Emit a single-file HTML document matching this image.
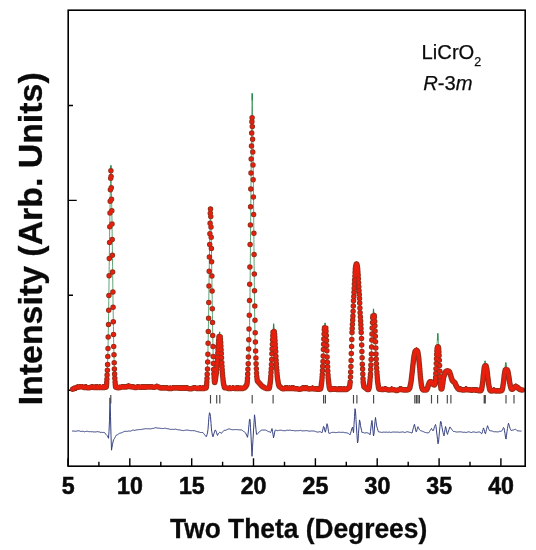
<!DOCTYPE html>
<html><head><meta charset="utf-8"><title>LiCrO2 XRD</title>
<style>
html,body{margin:0;padding:0;background:#fff}
svg{display:block}
text{font-family:"Liberation Sans",Arial,sans-serif;fill:#0a0a0a}
.b text,text.b{font-weight:bold;stroke:#0a0a0a;stroke-width:0.3}
.tk text{stroke-width:0.55}
</style></head><body>
<svg width="536" height="550" viewBox="0 0 536 550">
<rect width="536" height="550" fill="#fff"/>
<path d="M68.0 466.2v-8M98.9 466.2v-4.5M129.8 466.2v-8M160.8 466.2v-4.5M191.7 466.2v-8M222.6 466.2v-4.5M253.5 466.2v-8M284.5 466.2v-4.5M315.4 466.2v-8M346.3 466.2v-4.5M377.2 466.2v-8M408.2 466.2v-4.5M439.1 466.2v-8M470.0 466.2v-4.5M500.9 466.2v-8M68.2 105.5h4.8M68.2 200.4h8.5M68.2 295.3h4.8M68.2 390.2h8.5" fill="none" stroke="#000" stroke-width="1.4"/>
<path d="M72.0 430.9L72.5 431.0L73.0 431.0L73.5 431.1L74.0 431.0L74.5 431.1L75.0 431.2L75.5 431.3L76.0 431.2L76.5 431.1L77.0 431.0L77.5 430.9L78.0 430.8L78.5 430.8L79.0 430.8L79.5 430.9L80.0 431.2L80.5 431.4L81.0 431.4L81.5 431.4L82.0 431.3L82.5 431.3L83.0 431.3L83.5 431.4L84.0 431.6L84.5 431.8L85.0 431.7L85.5 431.5L86.0 431.4L86.5 431.3L87.0 431.3L87.5 431.3L88.0 431.4L88.5 431.6L89.0 431.7L89.5 431.7L90.0 431.5L90.5 431.6L91.0 431.7L91.5 431.8L92.0 431.8L92.5 431.7L93.0 431.8L93.5 431.9L94.0 432.0L94.5 432.0L95.0 431.9L95.5 431.9L96.0 431.9L96.5 431.8L97.0 431.6L97.5 431.6L98.0 431.6L98.5 431.8L99.0 431.9L99.5 432.0L100.0 432.2L100.5 432.4L101.0 432.4L101.5 432.3L102.0 432.4L102.5 432.5L103.0 432.5L103.5 432.4L104.0 432.5L104.5 432.6L105.0 433.0L105.5 433.8L106.0 434.5L106.5 435.1L107.0 435.6L107.5 436.0L108.0 437.1L108.5 438.3L109.0 431.6L109.5 420.2L110.0 397.8L110.5 416.2L111.0 435.4L111.5 450.2L112.0 447.1L112.5 444.4L113.0 442.0L113.5 439.9L114.0 439.2L114.5 438.4L115.0 437.4L115.5 436.4L116.0 435.4L116.5 435.2L117.0 435.0L117.5 434.7L118.0 434.4L118.5 434.0L119.0 433.6L119.5 433.3L120.0 433.1L120.5 433.0L121.0 433.0L121.5 432.9L122.0 432.7L122.5 432.4L123.0 432.1L123.5 431.8L124.0 431.6L124.5 431.4L125.0 431.3L125.5 431.3L126.0 431.3L126.5 431.4L127.0 431.4L127.5 431.3L128.0 431.2L128.5 431.0L129.0 431.0L129.5 431.1L130.0 431.1L130.5 431.1L131.0 430.9L131.5 430.7L132.0 430.4L132.5 430.2L133.0 430.1L133.5 430.1L134.0 430.2L134.5 430.4L135.0 430.3L135.5 430.2L136.0 430.0L136.5 429.9L137.0 429.9L137.5 429.8L138.0 429.7L138.5 429.6L139.0 429.6L139.5 429.6L140.0 429.6L140.5 429.6L141.0 429.5L141.5 429.4L142.0 429.3L142.5 429.2L143.0 429.1L143.5 429.1L144.0 429.0L144.5 428.9L145.0 428.8L145.5 428.7L146.0 428.7L146.5 428.7L147.0 428.8L147.5 428.8L148.0 428.8L148.5 428.8L149.0 428.7L149.5 428.7L150.0 428.9L150.5 428.9L151.0 428.8L151.5 428.7L152.0 428.5L152.5 428.4L153.0 428.4L153.5 428.4L154.0 428.3L154.5 428.0L155.0 427.8L155.5 427.7L156.0 427.7L156.5 427.8L157.0 427.9L157.5 428.1L158.0 428.1L158.5 428.1L159.0 428.1L159.5 428.2L160.0 428.3L160.5 428.4L161.0 428.4L161.5 428.4L162.0 428.4L162.5 428.5L163.0 428.5L163.5 428.5L164.0 428.4L164.5 428.3L165.0 428.2L165.5 428.2L166.0 428.4L166.5 428.6L167.0 428.7L167.5 428.7L168.0 428.7L168.5 428.8L169.0 428.9L169.5 429.1L170.0 429.3L170.5 429.4L171.0 429.4L171.5 429.4L172.0 429.3L172.5 429.3L173.0 429.3L173.5 429.4L174.0 429.5L174.5 429.4L175.0 429.2L175.5 429.1L176.0 429.2L176.5 429.4L177.0 429.6L177.5 429.7L178.0 429.8L178.5 429.8L179.0 429.8L179.5 429.8L180.0 429.9L180.5 430.1L181.0 430.3L181.5 430.4L182.0 430.4L182.5 430.4L183.0 430.5L183.5 430.6L184.0 430.5L184.5 430.4L185.0 430.3L185.5 430.2L186.0 430.2L186.5 430.1L187.0 430.1L187.5 430.1L188.0 430.2L188.5 430.3L189.0 430.3L189.5 430.4L190.0 430.5L190.5 430.6L191.0 430.6L191.5 430.7L192.0 430.6L192.5 430.6L193.0 430.6L193.5 430.7L194.0 430.7L194.5 430.7L195.0 430.8L195.5 431.1L196.0 431.3L196.5 431.4L197.0 431.6L197.5 431.7L198.0 431.8L198.5 431.8L199.0 432.0L199.5 432.2L200.0 432.4L200.5 432.5L201.0 432.5L201.5 432.5L202.0 432.5L202.5 432.5L203.0 432.6L203.5 433.3L204.0 434.0L204.5 434.6L205.0 435.2L205.5 435.9L206.0 436.7L206.5 436.4L207.0 434.6L207.5 432.9L208.0 429.3L208.5 422.7L209.0 416.2L209.5 412.7L210.0 413.6L210.5 416.7L211.0 423.3L211.5 430.0L212.0 432.9L212.5 435.8L213.0 436.8L213.5 435.0L214.0 433.4L214.5 431.9L215.0 430.2L215.5 430.1L216.0 431.1L216.5 432.5L217.0 434.2L217.5 435.5L218.0 434.4L218.5 433.3L219.0 432.8L219.5 432.4L220.0 432.5L220.5 432.7L221.0 433.0L221.5 433.2L222.0 432.8L222.5 432.2L223.0 431.5L223.5 430.9L224.0 430.3L224.5 430.3L225.0 430.3L225.5 430.3L226.0 430.2L226.5 429.9L227.0 429.7L227.5 429.4L228.0 429.1L228.5 429.0L229.0 428.9L229.5 428.9L230.0 429.1L230.5 429.3L231.0 429.5L231.5 429.6L232.0 429.7L232.5 429.7L233.0 429.7L233.5 429.7L234.0 429.8L234.5 429.7L235.0 429.6L235.5 429.5L236.0 429.5L236.5 429.6L237.0 429.7L237.5 429.7L238.0 429.7L238.5 429.7L239.0 429.8L239.5 429.9L240.0 429.9L240.5 429.9L241.0 429.9L241.5 429.9L242.0 430.0L242.5 430.5L243.0 431.0L243.5 431.4L244.0 431.7L244.5 432.0L245.0 432.4L245.5 432.8L246.0 433.9L246.5 435.0L247.0 436.1L247.5 437.3L248.0 434.2L248.5 429.9L249.0 424.8L249.5 419.3L250.0 419.2L250.5 427.3L251.0 436.1L251.5 446.2L252.0 456.3L252.5 447.8L253.0 439.2L253.5 430.9L254.0 422.8L254.5 414.8L255.0 418.4L255.5 424.8L256.0 429.7L256.5 434.2L257.0 434.6L257.5 433.9L258.0 433.3L258.5 432.6L259.0 432.1L259.5 431.7L260.0 431.3L260.5 430.9L261.0 430.5L261.5 430.2L262.0 430.0L262.5 430.0L263.0 430.0L263.5 430.1L264.0 430.1L264.5 430.0L265.0 430.0L265.5 430.1L266.0 430.2L266.5 430.5L267.0 430.8L267.5 431.1L268.0 431.4L268.5 431.6L269.0 431.6L269.5 431.8L270.0 432.1L270.5 432.6L271.0 431.6L271.5 430.1L272.0 428.6L272.5 431.4L273.0 434.4L273.5 437.8L274.0 435.9L274.5 432.9L275.0 430.7L275.5 429.9L276.0 430.1L276.5 430.4L277.0 430.7L277.5 430.7L278.0 430.6L278.5 430.4L279.0 430.3L279.5 430.3L280.0 430.3L280.5 430.2L281.0 430.2L281.5 430.3L282.0 430.5L282.5 430.6L283.0 430.6L283.5 430.6L284.0 430.6L284.5 430.7L285.0 430.7L285.5 430.7L286.0 430.5L286.5 430.3L287.0 430.2L287.5 430.2L288.0 430.2L288.5 430.3L289.0 430.3L289.5 430.2L290.0 430.2L290.5 430.2L291.0 430.4L291.5 430.5L292.0 430.6L292.5 430.5L293.0 430.4L293.5 430.5L294.0 430.7L294.5 430.8L295.0 430.8L295.5 430.8L296.0 430.7L296.5 430.7L297.0 430.7L297.5 430.7L298.0 430.7L298.5 430.7L299.0 430.7L299.5 430.6L300.0 430.4L300.5 430.4L301.0 430.5L301.5 430.7L302.0 430.9L302.5 430.9L303.0 430.9L303.5 430.8L304.0 430.8L304.5 430.8L305.0 430.8L305.5 430.7L306.0 430.7L306.5 430.6L307.0 430.7L307.5 430.8L308.0 430.9L308.5 431.0L309.0 431.1L309.5 431.2L310.0 431.2L310.5 431.1L311.0 431.0L311.5 430.9L312.0 430.9L312.5 431.0L313.0 431.0L313.5 431.0L314.0 431.0L314.5 431.1L315.0 431.3L315.5 431.6L316.0 431.8L316.5 431.8L317.0 432.0L317.5 432.1L318.0 432.1L318.5 432.0L319.0 431.8L319.5 431.7L320.0 431.7L320.5 431.9L321.0 432.1L321.5 432.4L322.0 432.8L322.5 431.2L323.0 428.9L323.5 426.4L324.0 426.8L324.5 429.1L325.0 431.6L325.5 432.0L326.0 429.2L326.5 426.5L327.0 423.7L327.5 424.6L328.0 428.1L328.5 431.4L329.0 433.5L329.5 433.4L330.0 433.3L330.5 433.0L331.0 432.7L331.5 432.5L332.0 432.4L332.5 432.3L333.0 432.4L333.5 432.4L334.0 432.3L334.5 432.4L335.0 432.5L335.5 432.6L336.0 432.6L336.5 432.5L337.0 432.5L337.5 432.4L338.0 432.3L338.5 432.2L339.0 432.1L339.5 432.2L340.0 432.3L340.5 432.4L341.0 432.3L341.5 432.3L342.0 432.3L342.5 432.3L343.0 432.3L343.5 432.3L344.0 432.4L344.5 432.6L345.0 432.7L345.5 432.7L346.0 432.7L346.5 432.8L347.0 432.9L347.5 433.1L348.0 433.1L348.5 433.4L349.0 433.9L349.5 434.4L350.0 434.9L350.5 433.3L351.0 431.7L351.5 430.0L352.0 428.1L352.5 427.2L353.0 429.9L353.5 432.7L354.0 424.7L354.5 416.7L355.0 408.7L355.5 410.8L356.0 419.7L356.5 428.0L357.0 435.4L357.5 443.0L358.0 441.2L358.5 433.3L359.0 426.4L359.5 419.9L360.0 421.7L360.5 425.5L361.0 428.0L361.5 430.3L362.0 432.6L362.5 432.5L363.0 432.5L363.5 432.6L364.0 432.8L364.5 433.0L365.0 433.0L365.5 432.9L366.0 432.7L366.5 432.7L367.0 432.7L367.5 432.9L368.0 433.0L368.5 433.1L369.0 433.7L369.5 434.2L370.0 434.8L370.5 431.4L371.0 427.0L371.5 422.8L372.0 420.5L372.5 425.8L373.0 430.9L373.5 436.0L374.0 433.9L374.5 427.0L375.0 421.3L375.5 417.5L376.0 421.3L376.5 425.1L377.0 427.2L377.5 428.9L378.0 430.7L378.5 431.8L379.0 431.9L379.5 432.0L380.0 432.0L380.5 432.1L381.0 432.2L381.5 432.4L382.0 432.4L382.5 432.3L383.0 432.1L383.5 432.1L384.0 432.1L384.5 432.2L385.0 432.3L385.5 432.2L386.0 432.1L386.5 432.1L387.0 432.2L387.5 432.3L388.0 432.3L388.5 432.2L389.0 432.1L389.5 432.1L390.0 432.3L390.5 432.4L391.0 432.4L391.5 432.3L392.0 432.1L392.5 432.1L393.0 432.1L393.5 432.0L394.0 432.0L394.5 432.1L395.0 432.1L395.5 432.1L396.0 432.1L396.5 432.1L397.0 432.1L397.5 432.1L398.0 432.1L398.5 432.2L399.0 432.4L399.5 432.3L400.0 432.2L400.5 432.2L401.0 432.1L401.5 432.1L402.0 432.0L402.5 431.9L403.0 432.0L403.5 432.1L404.0 432.3L404.5 432.4L405.0 432.5L405.5 432.4L406.0 432.1L406.5 431.8L407.0 431.7L407.5 431.8L408.0 431.9L408.5 432.0L409.0 432.1L409.5 432.3L410.0 432.4L410.5 432.5L411.0 432.7L411.5 432.9L412.0 433.1L412.5 431.2L413.0 429.2L413.5 427.3L414.0 425.4L414.5 424.3L415.0 426.8L415.5 429.2L416.0 431.7L416.5 431.5L417.0 429.7L417.5 428.2L418.0 426.7L418.5 427.7L419.0 428.8L419.5 429.7L420.0 430.2L420.5 430.7L421.0 430.9L421.5 430.9L422.0 431.1L422.5 431.3L423.0 431.5L423.5 431.7L424.0 431.9L424.5 432.2L425.0 432.4L425.5 432.5L426.0 432.6L426.5 432.7L427.0 432.8L427.5 432.8L428.0 432.9L428.5 433.0L429.0 432.3L429.5 431.5L430.0 430.7L430.5 430.0L431.0 429.2L431.5 428.4L432.0 429.4L432.5 430.3L433.0 430.9L433.5 430.1L434.0 428.5L434.5 426.8L435.0 425.6L435.5 424.5L436.0 426.6L436.5 430.9L437.0 435.1L437.5 439.4L438.0 443.8L438.5 442.2L439.0 436.6L439.5 431.1L440.0 426.3L440.5 421.5L441.0 421.5L441.5 424.4L442.0 427.3L442.5 430.0L443.0 432.4L443.5 434.7L444.0 435.9L444.5 432.8L445.0 429.7L445.5 426.5L446.0 428.1L446.5 430.8L447.0 433.1L447.5 434.4L448.0 432.6L448.5 430.9L449.0 429.5L449.5 428.0L450.0 426.9L450.5 427.6L451.0 428.3L451.5 429.1L452.0 429.7L452.5 430.4L453.0 431.1L453.5 431.5L454.0 431.5L454.5 431.5L455.0 431.6L455.5 431.8L456.0 431.9L456.5 432.0L457.0 432.0L457.5 432.0L458.0 432.0L458.5 431.9L459.0 431.8L459.5 431.8L460.0 431.8L460.5 431.9L461.0 431.9L461.5 431.9L462.0 432.0L462.5 432.2L463.0 432.3L463.5 432.3L464.0 432.3L464.5 432.2L465.0 432.3L465.5 432.4L466.0 432.4L466.5 432.4L467.0 432.2L467.5 432.1L468.0 431.9L468.5 431.8L469.0 431.9L469.5 432.0L470.0 432.2L470.5 432.3L471.0 432.5L471.5 432.5L472.0 432.3L472.5 432.1L473.0 431.9L473.5 431.9L474.0 432.0L474.5 432.1L475.0 432.2L475.5 432.3L476.0 432.4L476.5 432.4L477.0 432.3L477.5 432.2L478.0 432.0L478.5 432.0L479.0 431.9L479.5 432.0L480.0 432.1L480.5 432.4L481.0 433.1L481.5 433.8L482.0 433.4L482.5 431.4L483.0 429.6L483.5 427.9L484.0 429.3L484.5 431.3L485.0 433.4L485.5 433.7L486.0 431.5L486.5 429.4L487.0 427.6L487.5 425.7L488.0 427.0L488.5 428.4L489.0 429.5L489.5 430.6L490.0 430.8L490.5 430.8L491.0 430.8L491.5 430.9L492.0 431.0L492.5 431.1L493.0 431.4L493.5 431.6L494.0 431.8L494.5 431.8L495.0 431.7L495.5 431.7L496.0 431.7L496.5 431.8L497.0 431.8L497.5 431.9L498.0 431.9L498.5 431.8L499.0 431.6L499.5 431.3L500.0 431.3L500.5 431.3L501.0 431.5L501.5 431.2L502.0 430.5L502.5 429.7L503.0 428.6L503.5 427.5L504.0 428.0L504.5 430.8L505.0 433.7L505.5 437.1L506.0 439.1L506.5 435.3L507.0 431.5L507.5 428.4L508.0 425.3L508.5 423.2L509.0 424.8L509.5 426.6L510.0 428.2L510.5 429.5L511.0 430.5L511.5 430.4L512.0 430.3L512.5 430.1L513.0 430.1L513.5 430.0L514.0 429.8L514.5 429.5L515.0 429.3L515.5 429.1L516.0 429.6L516.5 430.1L517.0 430.7L517.5 430.8L518.0 430.8L518.5 430.8L519.0 430.9L519.5 431.0L520.0 431.1L520.5 431.1L521.0 431.1L521.5 431.0" fill="none" stroke="#34407f" stroke-width="1" stroke-linejoin="round"/>
<path d="M110.8 394.9v8.5M210.5 394.9v8.5M216.7 394.9v8.5M219.8 394.9v8.5M252.2 394.9v8.5M273.1 394.9v8.5M323.6 394.9v8.5M325.4 394.9v8.5M353.5 394.9v8.5M356.9 394.9v8.5M373.6 394.9v8.5M414.8 394.9v8.5M416.4 394.9v8.5M417.9 394.9v8.5M419.4 394.9v8.5M431.5 394.9v8.5M437.6 394.9v8.5M447.3 394.9v8.5M450.9 394.9v8.5M484.2 394.9v8.5M485.3 394.9v8.5M506.0 394.9v8.5M514.0 394.9v8.5" fill="none" stroke="#484848" stroke-width="1.15"/>
<path d="M70.0 389.5L70.1 389.5L70.2 389.6L70.3 389.6L70.4 389.6L70.5 389.6L70.6 389.6L70.7 389.7L70.8 389.7L70.9 389.7L71.0 389.7L71.1 389.7L71.2 389.7L71.3 389.7L71.4 389.7L71.5 389.7L71.6 389.6L71.7 389.6L71.8 389.6L71.9 389.6L72.0 389.6L72.1 389.5L72.2 389.5L72.3 389.5L72.4 389.4L72.5 389.4L72.6 389.3L72.7 389.3L72.8 389.3L72.9 389.2L73.0 389.2L73.1 389.1L73.2 389.1L73.3 389.0L73.4 389.0L73.5 388.9L73.6 388.9L73.7 388.8L73.8 388.7L73.9 388.7L74.0 388.6L74.1 388.6L74.2 388.5L74.3 388.5L74.4 388.4L74.5 388.4L74.6 388.3L74.7 388.3L74.8 388.2L74.9 388.2L75.0 388.1L75.1 388.1L75.2 388.1L75.3 388.0L75.4 388.0L75.5 387.9L75.6 387.9L75.7 387.9L75.8 387.8L75.9 387.8L76.0 387.8L76.1 387.7L76.2 387.7L76.3 387.7L76.4 387.6L76.5 387.6L76.6 387.6L76.7 387.6L76.8 387.5L76.9 387.5L77.0 387.5L77.1 387.5L77.2 387.5L77.3 387.5L77.4 387.4L77.5 387.4L77.6 387.4L77.7 387.4L77.8 387.4L77.9 387.4L78.0 387.4L78.1 387.4L78.2 387.4L78.3 387.4L78.4 387.4L78.5 387.3L78.6 387.3L78.7 387.3L78.8 387.3L78.9 387.3L79.0 387.3L79.1 387.3L79.2 387.3L79.3 387.3L79.4 387.3L79.5 387.3L79.6 387.3L79.7 387.3L79.8 387.3L79.9 387.3L80.0 387.3L80.1 387.3L80.2 387.3L80.3 387.3L80.4 387.3L80.5 387.3L80.6 387.3L80.7 387.3L80.8 387.3L80.9 387.3L81.0 387.3L81.1 387.3L81.2 387.3L81.3 387.3L81.4 387.3L81.5 387.3L81.6 387.3L81.7 387.3L81.8 387.3L81.9 387.3L82.0 387.3L82.1 387.3L82.2 387.3L82.3 387.3L82.4 387.3L82.5 387.3L82.6 387.3L82.7 387.3L82.8 387.4L82.9 387.4L83.0 387.4L83.1 387.4L83.2 387.4L83.3 387.4L83.4 387.4L83.5 387.4L83.6 387.4L83.7 387.4L83.8 387.4L83.9 387.4L84.0 387.4L84.1 387.4L84.2 387.4L84.3 387.4L84.4 387.4L84.5 387.4L84.6 387.4L84.7 387.4L84.8 387.4L84.9 387.4L85.0 387.4L85.1 387.4L85.2 387.4L85.3 387.4L85.4 387.4L85.5 387.4L85.6 387.4L85.7 387.4L85.8 387.4L85.9 387.4L86.0 387.4L86.1 387.4L86.2 387.4L86.3 387.4L86.4 387.4L86.5 387.4L86.6 387.4L86.7 387.4L86.8 387.4L86.9 387.4L87.0 387.4L87.1 387.4L87.2 387.4L87.3 387.4L87.4 387.4L87.5 387.4L87.6 387.4L87.7 387.4L87.8 387.4L87.9 387.4L88.0 387.4L88.1 387.4L88.2 387.4L88.3 387.4L88.4 387.4L88.5 387.4L88.6 387.4L88.7 387.4L88.8 387.4L88.9 387.4L89.0 387.4L89.1 387.4L89.2 387.4L89.3 387.4L89.4 387.4L89.5 387.4L89.6 387.4L89.7 387.4L89.8 387.4L89.9 387.4L90.0 387.4L90.1 387.4L90.2 387.4L90.3 387.4L90.4 387.4L90.5 387.4L90.6 387.4L90.7 387.4L90.8 387.4L90.9 387.4L91.0 387.4L91.1 387.4L91.2 387.4L91.3 387.4L91.4 387.4L91.5 387.4L91.6 387.4L91.7 387.4L91.8 387.4L91.9 387.4L92.0 387.4L92.1 387.4L92.2 387.4L92.3 387.4L92.4 387.4L92.5 387.4L92.6 387.4L92.7 387.4L92.8 387.4L92.9 387.4L93.0 387.4L93.1 387.4L93.2 387.4L93.3 387.4L93.4 387.4L93.5 387.4L93.6 387.4L93.7 387.4L93.8 387.4L93.9 387.4L94.0 387.4L94.1 387.4L94.2 387.4L94.3 387.4L94.4 387.4L94.5 387.4L94.6 387.4L94.7 387.4L94.8 387.4L94.9 387.4L95.0 387.4L95.1 387.4L95.2 387.4L95.3 387.4L95.4 387.4L95.5 387.4L95.6 387.4L95.7 387.4L95.8 387.4L95.9 387.4L96.0 387.4L96.1 387.4L96.2 387.4L96.3 387.4L96.4 387.4L96.5 387.4L96.6 387.4L96.7 387.4L96.8 387.4L96.9 387.4L97.0 387.4L97.1 387.4L97.2 387.4L97.3 387.4L97.4 387.4L97.5 387.4L97.6 387.4L97.7 387.4L97.8 387.4L97.9 387.4L98.0 387.4L98.1 387.4L98.2 387.4L98.3 387.4L98.4 387.4L98.5 387.4L98.6 387.4L98.7 387.4L98.8 387.4L98.9 387.4L99.0 387.4L99.1 387.4L99.2 387.4L99.3 387.4L99.4 387.4L99.5 387.4L99.6 387.4L99.7 387.4L99.8 387.4L99.9 387.4L100.0 387.4L100.1 387.4L100.2 387.4L100.3 387.4L100.4 387.4L100.5 387.4L100.6 387.4L100.7 387.4L100.8 387.4L100.9 387.4L101.0 387.4L101.1 387.4L101.2 387.4L101.3 387.4L101.4 387.4L101.5 387.4L101.6 387.4L101.7 387.4L101.8 387.4L101.9 387.4L102.0 387.4L102.1 387.4L102.2 387.4L102.3 387.4L102.4 387.4L102.5 387.4L102.6 387.4L102.7 387.4L102.8 387.4L102.9 387.4L103.0 387.4L103.1 387.4L103.2 387.4L103.3 387.4L103.4 387.4L103.5 387.4L103.6 387.4L103.7 387.4L103.8 387.4L103.9 387.4L104.0 387.4L104.1 387.4L104.2 387.3L104.3 387.3L104.4 387.3L104.5 387.3L104.6 387.3L104.7 387.3L104.8 387.3L104.9 387.2L105.0 387.2L105.1 387.2L105.2 387.2L105.3 387.2L105.4 387.2L105.5 387.1L105.6 387.1L105.7 387.1L105.8 387.1L105.9 387.1L106.0 387.1L106.1 386.9L106.2 386.6L106.3 386.2L106.4 385.5L106.5 384.8L106.6 383.7L106.7 382.5L106.8 381.0L106.9 379.3L107.0 377.6L107.1 375.6L107.2 373.6L107.3 371.2L107.4 368.8L107.5 366.1L107.6 363.4L107.7 359.6L107.8 355.9L107.9 352.2L108.0 348.4L108.1 343.6L108.2 338.1L108.3 332.4L108.4 326.5L108.5 320.5L108.6 313.9L108.7 307.2L108.8 300.2L108.9 293.3L109.0 284.4L109.1 275.0L109.2 266.5L109.3 258.6L109.4 251.0L109.5 243.6L109.6 236.2L109.7 229.0L109.8 221.7L109.9 215.4L110.0 209.2L110.1 203.7L110.2 198.3L110.3 193.2L110.4 188.3L110.5 183.4L110.6 178.6L110.7 174.0L110.8 169.6L110.9 165.3L111.0 169.6L111.1 174.0L111.2 178.6L111.3 183.4L111.4 188.2L111.5 193.2L111.6 198.3L111.7 203.6L111.8 209.2L111.9 215.4L112.0 221.7L112.1 228.9L112.2 236.2L112.3 243.6L112.4 250.9L112.5 258.6L112.6 266.5L112.7 274.9L112.8 284.3L112.9 293.2L113.0 300.2L113.1 307.1L113.2 313.8L113.3 320.5L113.4 326.5L113.5 332.3L113.6 338.0L113.7 343.6L113.8 348.4L113.9 352.1L114.0 355.8L114.1 359.6L114.2 363.3L114.3 366.0L114.4 368.8L114.5 371.2L114.6 373.5L114.7 375.6L114.8 377.5L114.9 379.3L115.0 380.9L115.1 382.4L115.2 383.6L115.3 384.7L115.4 385.4L115.5 386.1L115.6 386.5L115.7 386.8L115.8 387.0L115.9 387.0L116.0 387.0L116.1 387.0L116.2 387.0L116.3 387.0L116.4 387.0L116.5 387.1L116.6 387.1L116.7 387.1L116.8 387.1L116.9 387.1L117.0 387.1L117.1 387.1L117.2 387.1L117.3 387.2L117.4 387.2L117.5 387.2L117.6 387.2L117.7 387.2L117.8 387.2L117.9 387.2L118.0 387.2L118.1 387.2L118.2 387.2L118.3 387.2L118.4 387.2L118.5 387.2L118.6 387.2L118.7 387.2L118.8 387.2L118.9 387.2L119.0 387.2L119.1 387.2L119.2 387.2L119.3 387.2L119.4 387.2L119.5 387.2L119.6 387.2L119.7 387.2L119.8 387.2L119.9 387.1L120.0 387.1L120.1 387.1L120.2 387.1L120.3 387.1L120.4 387.1L120.5 387.1L120.6 387.1L120.7 387.1L120.8 387.1L120.9 387.1L121.0 387.1L121.1 387.0L121.2 387.0L121.3 387.0L121.4 387.0L121.5 387.0L121.6 387.0L121.7 387.0L121.8 387.0L121.9 386.9L122.0 386.9L122.1 386.9L122.2 386.9L122.3 386.9L122.4 386.9L122.5 386.8L122.6 386.8L122.7 386.8L122.8 386.8L122.9 386.8L123.0 386.8L123.1 386.7L123.2 386.7L123.3 386.7L123.4 386.7L123.5 386.7L123.6 386.6L123.7 386.6L123.8 386.6L123.9 386.6L124.0 386.6L124.1 386.5L124.2 386.5L124.3 386.5L124.4 386.5L124.5 386.4L124.6 386.4L124.7 386.4L124.8 386.4L124.9 386.4L125.0 386.3L125.1 386.3L125.2 386.3L125.3 386.3L125.4 386.2L125.5 386.2L125.6 386.2L125.7 386.2L125.8 386.2L125.9 386.1L126.0 386.1L126.1 386.1L126.2 386.1L126.3 386.1L126.4 386.1L126.5 386.1L126.6 386.0L126.7 386.0L126.8 386.0L126.9 386.0L127.0 386.0L127.1 386.0L127.2 386.0L127.3 386.0L127.4 386.0L127.5 386.0L127.6 386.0L127.7 386.0L127.8 386.0L127.9 385.9L128.0 386.0L128.1 386.0L128.2 386.0L128.3 386.0L128.4 386.0L128.5 386.0L128.6 386.0L128.7 386.0L128.8 386.0L128.9 386.0L129.0 386.0L129.1 386.0L129.2 386.0L129.3 386.0L129.4 386.1L129.5 386.1L129.6 386.1L129.7 386.1L129.8 386.1L129.9 386.1L130.0 386.2L130.1 386.2L130.2 386.2L130.3 386.2L130.4 386.2L130.5 386.3L130.6 386.3L130.7 386.3L130.8 386.3L130.9 386.3L131.0 386.4L131.1 386.4L131.2 386.4L131.3 386.4L131.4 386.5L131.5 386.5L131.6 386.5L131.7 386.5L131.8 386.6L131.9 386.6L132.0 386.6L132.1 386.6L132.2 386.6L132.3 386.7L132.4 386.7L132.5 386.7L132.6 386.7L132.7 386.8L132.8 386.8L132.9 386.8L133.0 386.8L133.1 386.8L133.2 386.9L133.3 386.9L133.4 386.9L133.5 386.9L133.6 386.9L133.7 387.0L133.8 387.0L133.9 387.0L134.0 387.0L134.1 387.0L134.2 387.0L134.3 387.1L134.4 387.1L134.5 387.1L134.6 387.1L134.7 387.1L134.8 387.1L134.9 387.1L135.0 387.1L135.1 387.2L135.2 387.2L135.3 387.2L135.4 387.2L135.5 387.2L135.6 387.2L135.7 387.2L135.8 387.2L135.9 387.2L136.0 387.2L136.1 387.3L136.2 387.3L136.3 387.3L136.4 387.3L136.5 387.3L136.6 387.3L136.7 387.3L136.8 387.3L136.9 387.3L137.0 387.3L137.1 387.3L137.2 387.3L137.3 387.3L137.4 387.3L137.5 387.3L137.6 387.3L137.7 387.3L137.8 387.3L137.9 387.3L138.0 387.3L138.1 387.4L138.2 387.4L138.3 387.4L138.4 387.4L138.5 387.4L138.6 387.4L138.7 387.4L138.8 387.4L138.9 387.4L139.0 387.4L139.1 387.4L139.2 387.4L139.3 387.4L139.4 387.4L139.5 387.4L139.6 387.4L139.7 387.4L139.8 387.4L139.9 387.4L140.0 387.4L140.1 387.4L140.2 387.4L140.3 387.4L140.4 387.4L140.5 387.4L140.6 387.4L140.7 387.4L140.8 387.4L140.9 387.4L141.0 387.4L141.1 387.4L141.2 387.4L141.3 387.4L141.4 387.4L141.5 387.4L141.6 387.4L141.7 387.4L141.8 387.4L141.9 387.4L142.0 387.4L142.1 387.4L142.2 387.4L142.3 387.4L142.4 387.4L142.5 387.4L142.6 387.4L142.7 387.4L142.8 387.4L142.9 387.4L143.0 387.4L143.1 387.4L143.2 387.4L143.3 387.4L143.4 387.4L143.5 387.4L143.6 387.4L143.7 387.4L143.8 387.4L143.9 387.4L144.0 387.4L144.1 387.4L144.2 387.4L144.3 387.4L144.4 387.4L144.5 387.4L144.6 387.4L144.7 387.4L144.8 387.4L144.9 387.4L145.0 387.4L145.1 387.4L145.2 387.3L145.3 387.3L145.4 387.3L145.5 387.3L145.6 387.3L145.7 387.3L145.8 387.3L145.9 387.3L146.0 387.3L146.1 387.3L146.2 387.3L146.3 387.3L146.4 387.3L146.5 387.3L146.6 387.3L146.7 387.3L146.8 387.3L146.9 387.3L147.0 387.3L147.1 387.3L147.2 387.3L147.3 387.3L147.4 387.3L147.5 387.3L147.6 387.3L147.7 387.2L147.8 387.2L147.9 387.2L148.0 387.2L148.1 387.2L148.2 387.2L148.3 387.2L148.4 387.2L148.5 387.2L148.6 387.2L148.7 387.2L148.8 387.2L148.9 387.2L149.0 387.2L149.1 387.2L149.2 387.2L149.3 387.2L149.4 387.2L149.5 387.2L149.6 387.2L149.7 387.2L149.8 387.2L149.9 387.1L150.0 387.1L150.1 387.1L150.2 387.1L150.3 387.1L150.4 387.1L150.5 387.1L150.6 387.1L150.7 387.1L150.8 387.1L150.9 387.1L151.0 387.1L151.1 387.1L151.2 387.1L151.3 387.1L151.4 387.1L151.5 387.1L151.6 387.1L151.7 387.1L151.8 387.1L151.9 387.1L152.0 387.1L152.1 387.1L152.2 387.1L152.3 387.1L152.4 387.1L152.5 387.1L152.6 387.1L152.7 387.1L152.8 387.1L152.9 387.1L153.0 387.1L153.1 387.1L153.2 387.1L153.3 387.1L153.4 387.1L153.5 387.1L153.6 387.1L153.7 387.1L153.8 387.1L153.9 387.1L154.0 387.1L154.1 387.1L154.2 387.1L154.3 387.1L154.4 387.1L154.5 387.1L154.6 387.1L154.7 387.1L154.8 387.1L154.9 387.1L155.0 387.1L155.1 387.1L155.2 387.1L155.3 387.1L155.4 387.2L155.5 387.2L155.6 387.2L155.7 387.2L155.8 387.2L155.9 387.2L156.0 387.2L156.1 387.2L156.2 387.2L156.3 387.2L156.4 387.2L156.5 387.2L156.6 387.2L156.7 387.2L156.8 387.2L156.9 387.3L157.0 387.3L157.1 387.3L157.2 387.3L157.3 387.3L157.4 387.3L157.5 387.3L157.6 387.3L157.7 387.3L157.8 387.3L157.9 387.3L158.0 387.4L158.1 387.4L158.2 387.4L158.3 387.4L158.4 387.4L158.5 387.4L158.6 387.4L158.7 387.4L158.8 387.4L158.9 387.4L159.0 387.4L159.1 387.5L159.2 387.5L159.3 387.5L159.4 387.5L159.5 387.5L159.6 387.5L159.7 387.5L159.8 387.5L159.9 387.5L160.0 387.5L160.1 387.6L160.2 387.6L160.3 387.6L160.4 387.6L160.5 387.6L160.6 387.6L160.7 387.6L160.8 387.6L160.9 387.6L161.0 387.6L161.1 387.6L161.2 387.7L161.3 387.7L161.4 387.7L161.5 387.7L161.6 387.7L161.7 387.7L161.8 387.7L161.9 387.7L162.0 387.7L162.1 387.7L162.2 387.7L162.3 387.8L162.4 387.8L162.5 387.8L162.6 387.8L162.7 387.8L162.8 387.8L162.9 387.8L163.0 387.8L163.1 387.8L163.2 387.8L163.3 387.8L163.4 387.8L163.5 387.8L163.6 387.8L163.7 387.9L163.8 387.9L163.9 387.9L164.0 387.9L164.1 387.9L164.2 387.9L164.3 387.9L164.4 387.9L164.5 387.9L164.6 387.9L164.7 387.9L164.8 387.9L164.9 387.9L165.0 387.9L165.1 387.9L165.2 387.9L165.3 387.9L165.4 388.0L165.5 388.0L165.6 388.0L165.7 388.0L165.8 388.0L165.9 388.0L166.0 388.0L166.1 388.0L166.2 388.0L166.3 388.0L166.4 388.0L166.5 388.0L166.6 388.0L166.7 388.0L166.8 388.0L166.9 388.0L167.0 388.0L167.1 388.0L167.2 388.0L167.3 388.0L167.4 388.0L167.5 388.0L167.6 388.0L167.7 388.0L167.8 388.0L167.9 388.0L168.0 388.0L168.1 388.0L168.2 388.1L168.3 388.1L168.4 388.1L168.5 388.1L168.6 388.1L168.7 388.1L168.8 388.1L168.9 388.1L169.0 388.1L169.1 388.1L169.2 388.1L169.3 388.1L169.4 388.1L169.5 388.1L169.6 388.1L169.7 388.1L169.8 388.1L169.9 388.1L170.0 388.1L170.1 388.1L170.2 388.1L170.3 388.1L170.4 388.1L170.5 388.1L170.6 388.1L170.7 388.1L170.8 388.1L170.9 388.1L171.0 388.1L171.1 388.1L171.2 388.1L171.3 388.1L171.4 388.1L171.5 388.1L171.6 388.1L171.7 388.1L171.8 388.1L171.9 388.1L172.0 388.1L172.1 388.1L172.2 388.1L172.3 388.1L172.4 388.1L172.5 388.1L172.6 388.1L172.7 388.1L172.8 388.1L172.9 388.1L173.0 388.1L173.1 388.1L173.2 388.1L173.3 388.1L173.4 388.1L173.5 388.1L173.6 388.1L173.7 388.1L173.8 388.1L173.9 388.1L174.0 388.1L174.1 388.1L174.2 388.1L174.3 388.1L174.4 388.1L174.5 388.1L174.6 388.1L174.7 388.1L174.8 388.1L174.9 388.1L175.0 388.1L175.1 388.1L175.2 388.1L175.3 388.1L175.4 388.1L175.5 388.1L175.6 388.1L175.7 388.1L175.8 388.1L175.9 388.1L176.0 388.2L176.1 388.2L176.2 388.2L176.3 388.2L176.4 388.2L176.5 388.2L176.6 388.2L176.7 388.2L176.8 388.2L176.9 388.2L177.0 388.2L177.1 388.2L177.2 388.2L177.3 388.2L177.4 388.2L177.5 388.2L177.6 388.2L177.7 388.2L177.8 388.2L177.9 388.2L178.0 388.2L178.1 388.2L178.2 388.2L178.3 388.2L178.4 388.2L178.5 388.2L178.6 388.2L178.7 388.2L178.8 388.2L178.9 388.2L179.0 388.2L179.1 388.2L179.2 388.2L179.3 388.2L179.4 388.2L179.5 388.2L179.6 388.2L179.7 388.2L179.8 388.2L179.9 388.2L180.0 388.2L180.1 388.2L180.2 388.2L180.3 388.2L180.4 388.2L180.5 388.2L180.6 388.2L180.7 388.2L180.8 388.2L180.9 388.2L181.0 388.2L181.1 388.2L181.2 388.2L181.3 388.2L181.4 388.2L181.5 388.2L181.6 388.2L181.7 388.2L181.8 388.2L181.9 388.2L182.0 388.2L182.1 388.3L182.2 388.3L182.3 388.3L182.4 388.3L182.5 388.3L182.6 388.3L182.7 388.3L182.8 388.3L182.9 388.3L183.0 388.3L183.1 388.3L183.2 388.3L183.3 388.3L183.4 388.3L183.5 388.3L183.6 388.3L183.7 388.3L183.8 388.3L183.9 388.3L184.0 388.3L184.1 388.3L184.2 388.3L184.3 388.3L184.4 388.3L184.5 388.3L184.6 388.3L184.7 388.3L184.8 388.3L184.9 388.3L185.0 388.3L185.1 388.3L185.2 388.3L185.3 388.3L185.4 388.4L185.5 388.4L185.6 388.4L185.7 388.4L185.8 388.4L185.9 388.4L186.0 388.4L186.1 388.4L186.2 388.4L186.3 388.4L186.4 388.4L186.5 388.4L186.6 388.4L186.7 388.4L186.8 388.4L186.9 388.4L187.0 388.4L187.1 388.4L187.2 388.4L187.3 388.4L187.4 388.4L187.5 388.4L187.6 388.4L187.7 388.4L187.8 388.4L187.9 388.4L188.0 388.4L188.1 388.4L188.2 388.4L188.3 388.4L188.4 388.4L188.5 388.4L188.6 388.5L188.7 388.5L188.8 388.5L188.9 388.5L189.0 388.5L189.1 388.5L189.2 388.5L189.3 388.5L189.4 388.5L189.5 388.5L189.6 388.5L189.7 388.5L189.8 388.5L189.9 388.5L190.0 388.5L190.1 388.5L190.2 388.5L190.3 388.5L190.4 388.5L190.5 388.5L190.6 388.5L190.7 388.5L190.8 388.5L190.9 388.5L191.0 388.5L191.1 388.5L191.2 388.5L191.3 388.5L191.4 388.5L191.5 388.5L191.6 388.5L191.7 388.5L191.8 388.5L191.9 388.5L192.0 388.5L192.1 388.5L192.2 388.5L192.3 388.5L192.4 388.5L192.5 388.5L192.6 388.5L192.7 388.5L192.8 388.5L192.9 388.5L193.0 388.5L193.1 388.5L193.2 388.5L193.3 388.5L193.4 388.5L193.5 388.5L193.6 388.5L193.7 388.5L193.8 388.5L193.9 388.5L194.0 388.5L194.1 388.5L194.2 388.5L194.3 388.5L194.4 388.5L194.5 388.5L194.6 388.5L194.7 388.5L194.8 388.5L194.9 388.5L195.0 388.5L195.1 388.4L195.2 388.4L195.3 388.4L195.4 388.4L195.5 388.4L195.6 388.4L195.7 388.4L195.8 388.4L195.9 388.4L196.0 388.4L196.1 388.4L196.2 388.4L196.3 388.4L196.4 388.4L196.5 388.4L196.6 388.4L196.7 388.4L196.8 388.4L196.9 388.4L197.0 388.4L197.1 388.4L197.2 388.4L197.3 388.4L197.4 388.4L197.5 388.4L197.6 388.4L197.7 388.3L197.8 388.3L197.9 388.3L198.0 388.3L198.1 388.3L198.2 388.3L198.3 388.3L198.4 388.3L198.5 388.3L198.6 388.3L198.7 388.3L198.8 388.3L198.9 388.3L199.0 388.3L199.1 388.3L199.2 388.3L199.3 388.3L199.4 388.3L199.5 388.3L199.6 388.3L199.7 388.3L199.8 388.2L199.9 388.2L200.0 388.2L200.1 388.2L200.2 388.2L200.3 388.2L200.4 388.2L200.5 388.2L200.6 388.2L200.7 388.2L200.8 388.2L200.9 388.2L201.0 388.2L201.1 388.2L201.2 388.2L201.3 388.2L201.4 388.2L201.5 388.2L201.6 388.2L201.7 388.2L201.8 388.2L201.9 388.1L202.0 388.1L202.1 388.1L202.2 388.1L202.3 388.1L202.4 388.1L202.5 388.1L202.6 388.1L202.7 388.1L202.8 388.1L202.9 388.1L203.0 388.1L203.1 388.1L203.2 388.1L203.3 388.1L203.4 388.1L203.5 388.1L203.6 388.1L203.7 388.1L203.8 388.1L203.9 388.1L204.0 388.1L204.1 388.1L204.2 388.0L204.3 388.0L204.4 388.0L204.5 388.0L204.6 388.0L204.7 388.0L204.8 387.9L204.9 387.9L205.0 387.9L205.1 387.9L205.2 387.9L205.3 387.9L205.4 387.9L205.5 387.8L205.6 387.8L205.7 387.8L205.8 387.8L205.9 387.8L206.0 387.8L206.1 387.6L206.2 387.3L206.3 386.9L206.4 386.2L206.5 385.4L206.6 384.4L206.7 383.2L206.8 381.7L206.9 380.2L207.0 378.5L207.1 376.6L207.2 374.6L207.3 372.4L207.4 369.9L207.5 367.2L207.6 363.9L207.7 360.6L207.8 357.2L207.9 353.4L208.0 348.5L208.1 343.5L208.2 338.3L208.3 332.9L208.4 327.0L208.5 321.0L208.6 314.8L208.7 308.2L208.8 299.8L208.9 291.8L209.0 284.8L209.1 277.9L209.2 271.3L209.3 264.8L209.4 258.3L209.5 252.0L209.6 246.4L209.7 241.0L209.8 236.2L209.9 231.5L210.0 227.1L210.1 222.7L210.2 218.5L210.3 214.3L210.4 210.5L210.5 206.6L210.6 210.5L210.7 214.3L210.8 218.5L210.9 222.7L211.0 227.1L211.1 231.5L211.2 236.2L211.3 241.0L211.4 246.4L211.5 252.0L211.6 258.3L211.7 264.8L211.8 271.3L211.9 277.9L212.0 284.8L212.1 291.8L212.2 299.8L212.3 308.2L212.4 314.8L212.5 321.0L212.6 327.0L212.7 332.8L212.8 338.2L212.9 343.4L213.0 348.4L213.1 353.2L213.2 357.0L213.3 360.2L213.4 363.5L213.5 366.7L213.6 369.3L213.7 371.5L213.8 373.5L213.9 375.3L214.0 376.9L214.1 378.3L214.2 379.5L214.3 380.6L214.4 381.4L214.5 382.1L214.6 382.4L214.7 382.5L214.8 382.4L214.9 382.1L215.0 381.6L215.1 381.0L215.2 380.3L215.3 379.6L215.4 379.0L215.5 378.3L215.6 377.6L215.7 377.0L215.8 376.3L215.9 375.7L216.0 375.0L216.1 374.3L216.2 373.5L216.3 372.6L216.4 371.8L216.5 370.9L216.6 370.1L216.7 368.9L216.8 367.8L216.9 366.6L217.0 365.5L217.1 364.3L217.2 363.0L217.3 361.8L217.4 360.5L217.5 359.2L217.6 357.5L217.7 355.7L217.8 354.0L217.9 352.6L218.0 351.1L218.1 349.7L218.2 348.3L218.3 346.9L218.4 345.4L218.5 344.1L218.6 342.8L218.7 341.5L218.8 340.4L218.9 339.3L219.0 338.2L219.1 337.1L219.2 336.0L219.3 334.9L219.4 333.8L219.5 332.8L219.6 331.8L219.7 332.8L219.8 333.8L219.9 334.9L220.0 336.0L220.1 337.1L220.2 338.2L220.3 339.4L220.4 340.6L220.5 341.8L220.6 343.1L220.7 344.6L220.8 346.0L220.9 347.7L221.0 349.3L221.1 351.0L221.2 352.7L221.3 354.4L221.4 356.2L221.5 358.1L221.6 360.1L221.7 362.3L221.8 364.3L221.9 365.9L222.0 367.5L222.1 369.1L222.2 370.6L222.3 372.1L222.4 373.4L222.5 374.8L222.6 376.0L222.7 377.3L222.8 378.4L222.9 379.2L223.0 380.1L223.1 381.0L223.2 381.8L223.3 382.5L223.4 383.1L223.5 383.7L223.6 384.3L223.7 384.8L223.8 385.3L223.9 385.7L224.0 386.1L224.1 386.5L224.2 386.9L224.3 387.2L224.4 387.4L224.5 387.6L224.6 387.8L224.7 387.9L224.8 388.0L224.9 388.1L225.0 388.1L225.1 388.1L225.2 388.1L225.3 388.1L225.4 388.1L225.5 388.1L225.6 388.1L225.7 388.2L225.8 388.2L225.9 388.2L226.0 388.2L226.1 388.2L226.2 388.2L226.3 388.2L226.4 388.2L226.5 388.2L226.6 388.2L226.7 388.2L226.8 388.2L226.9 388.2L227.0 388.2L227.1 388.2L227.2 388.2L227.3 388.2L227.4 388.3L227.5 388.3L227.6 388.3L227.7 388.3L227.8 388.3L227.9 388.3L228.0 388.3L228.1 388.3L228.2 388.3L228.3 388.3L228.4 388.3L228.5 388.3L228.6 388.3L228.7 388.3L228.8 388.3L228.9 388.3L229.0 388.3L229.1 388.3L229.2 388.3L229.3 388.3L229.4 388.3L229.5 388.3L229.6 388.3L229.7 388.3L229.8 388.3L229.9 388.3L230.0 388.3L230.1 388.3L230.2 388.3L230.3 388.3L230.4 388.3L230.5 388.3L230.6 388.3L230.7 388.3L230.8 388.3L230.9 388.3L231.0 388.3L231.1 388.4L231.2 388.4L231.3 388.4L231.4 388.4L231.5 388.4L231.6 388.4L231.7 388.4L231.8 388.4L231.9 388.4L232.0 388.4L232.1 388.4L232.2 388.4L232.3 388.4L232.4 388.4L232.5 388.4L232.6 388.4L232.7 388.4L232.8 388.4L232.9 388.4L233.0 388.4L233.1 388.4L233.2 388.4L233.3 388.4L233.4 388.4L233.5 388.4L233.6 388.4L233.7 388.4L233.8 388.4L233.9 388.4L234.0 388.4L234.1 388.4L234.2 388.4L234.3 388.4L234.4 388.4L234.5 388.4L234.6 388.4L234.7 388.4L234.8 388.5L234.9 388.5L235.0 388.5L235.1 388.5L235.2 388.5L235.3 388.5L235.4 388.5L235.5 388.5L235.6 388.5L235.7 388.5L235.8 388.5L235.9 388.5L236.0 388.5L236.1 388.5L236.2 388.5L236.3 388.5L236.4 388.5L236.5 388.5L236.6 388.5L236.7 388.5L236.8 388.5L236.9 388.5L237.0 388.5L237.1 388.5L237.2 388.5L237.3 388.5L237.4 388.5L237.5 388.5L237.6 388.5L237.7 388.5L237.8 388.5L237.9 388.5L238.0 388.5L238.1 388.5L238.2 388.5L238.3 388.5L238.4 388.5L238.5 388.5L238.6 388.5L238.7 388.5L238.8 388.5L238.9 388.5L239.0 388.5L239.1 388.6L239.2 388.6L239.3 388.6L239.4 388.6L239.5 388.6L239.6 388.6L239.7 388.6L239.8 388.6L239.9 388.6L240.0 388.6L240.1 388.6L240.2 388.6L240.3 388.5L240.4 388.5L240.5 388.5L240.6 388.5L240.7 388.5L240.8 388.5L240.9 388.5L241.0 388.5L241.1 388.5L241.2 388.5L241.3 388.5L241.4 388.5L241.5 388.5L241.6 388.5L241.7 388.5L241.8 388.5L241.9 388.5L242.0 388.4L242.1 388.4L242.2 388.4L242.3 388.4L242.4 388.4L242.5 388.4L242.6 388.3L242.7 388.3L242.8 388.3L242.9 388.3L243.0 388.2L243.1 388.2L243.2 388.2L243.3 388.2L243.4 388.1L243.5 388.1L243.6 388.0L243.7 388.0L243.8 388.0L243.9 387.9L244.0 387.9L244.1 387.8L244.2 387.7L244.3 387.7L244.4 387.6L244.5 387.6L244.6 387.5L244.7 387.4L244.8 387.3L244.9 387.3L245.0 387.2L245.1 387.1L245.2 387.0L245.3 386.9L245.4 386.8L245.5 386.7L245.6 386.6L245.7 386.5L245.8 386.4L245.9 386.2L246.0 386.1L246.1 385.9L246.2 385.8L246.3 385.6L246.4 385.5L246.5 385.3L246.6 385.1L246.7 385.0L246.8 384.8L246.9 384.6L247.0 384.4L247.1 384.2L247.2 384.0L247.3 383.8L247.4 383.6L247.5 383.4L247.6 383.2L247.7 383.0L247.8 382.6L247.9 381.9L248.0 381.0L248.1 379.9L248.2 378.4L248.3 376.6L248.4 374.5L248.5 372.0L248.6 369.4L248.7 366.5L248.8 363.4L248.9 360.0L249.0 356.4L249.1 352.4L249.2 347.9L249.3 342.5L249.4 337.1L249.5 331.8L249.6 325.6L249.7 317.7L249.8 309.7L249.9 301.4L250.0 292.8L250.1 283.4L250.2 273.9L250.3 264.1L250.4 253.5L250.5 240.3L250.6 227.6L250.7 216.5L250.8 205.6L250.9 195.2L251.0 184.9L251.1 174.7L251.2 164.7L251.3 156.0L251.4 147.3L251.5 139.8L251.6 132.4L251.7 125.5L251.8 118.6L251.9 112.0L252.0 105.4L252.1 99.3L252.2 93.3L252.3 99.3L252.4 105.4L252.5 111.9L252.6 118.5L252.7 125.4L252.8 132.3L252.9 139.7L253.0 147.1L253.1 155.7L253.2 164.5L253.3 174.4L253.4 184.5L253.5 194.8L253.6 205.1L253.7 215.9L253.8 226.9L253.9 239.6L254.0 252.7L254.1 263.1L254.2 272.9L254.3 282.3L254.4 291.6L254.5 300.1L254.6 308.3L254.7 316.2L254.8 324.0L254.9 330.1L255.0 335.3L255.1 340.6L255.2 345.9L255.3 350.3L255.4 354.2L255.5 357.7L255.6 361.0L255.7 364.0L255.8 366.8L255.9 369.3L256.0 371.7L256.1 373.7L256.2 375.4L256.3 376.8L256.4 377.9L256.5 378.7L256.6 379.3L256.7 379.7L256.8 379.8L256.9 380.0L257.0 380.1L257.1 380.2L257.2 380.4L257.3 380.5L257.4 380.7L257.5 380.8L257.6 381.0L257.7 381.1L257.8 381.3L257.9 381.4L258.0 381.6L258.1 381.7L258.2 381.9L258.3 382.0L258.4 382.2L258.5 382.3L258.6 382.5L258.7 382.6L258.8 382.7L258.9 382.9L259.0 383.0L259.1 383.1L259.2 383.2L259.3 383.3L259.4 383.5L259.5 383.6L259.6 383.7L259.7 383.8L259.8 383.9L259.9 384.0L260.0 384.2L260.1 384.3L260.2 384.4L260.3 384.5L260.4 384.6L260.5 384.7L260.6 384.8L260.7 384.9L260.8 385.0L260.9 385.1L261.0 385.2L261.1 385.3L261.2 385.4L261.3 385.5L261.4 385.6L261.5 385.7L261.6 385.8L261.7 385.9L261.8 385.9L261.9 386.0L262.0 386.1L262.1 386.2L262.2 386.3L262.3 386.4L262.4 386.4L262.5 386.5L262.6 386.6L262.7 386.6L262.8 386.7L262.9 386.8L263.0 386.8L263.1 386.9L263.2 387.0L263.3 387.0L263.4 387.1L263.5 387.1L263.6 387.2L263.7 387.3L263.8 387.3L263.9 387.4L264.0 387.4L264.1 387.5L264.2 387.5L264.3 387.6L264.4 387.6L264.5 387.6L264.6 387.7L264.7 387.7L264.8 387.8L264.9 387.8L265.0 387.8L265.1 387.9L265.2 387.9L265.3 387.9L265.4 388.0L265.5 388.0L265.6 388.0L265.7 388.1L265.8 388.1L265.9 388.1L266.0 388.1L266.1 388.2L266.2 388.2L266.3 388.2L266.4 388.2L266.5 388.3L266.6 388.3L266.7 388.3L266.8 388.3L266.9 388.3L267.0 388.3L267.1 388.4L267.2 388.4L267.3 388.4L267.4 388.4L267.5 388.4L267.6 388.4L267.7 388.4L267.8 388.4L267.9 388.4L268.0 388.4L268.1 388.4L268.2 388.5L268.3 388.5L268.4 388.5L268.5 388.5L268.6 388.5L268.7 388.5L268.8 388.4L268.9 388.3L269.0 388.2L269.1 388.0L269.2 387.9L269.3 387.5L269.4 387.2L269.5 386.8L269.6 386.3L269.7 385.8L269.8 385.2L269.9 384.6L270.0 384.0L270.1 383.3L270.2 382.5L270.3 381.7L270.4 380.7L270.5 379.6L270.6 378.5L270.7 377.4L270.8 376.0L270.9 374.4L271.0 372.8L271.1 371.1L271.2 369.4L271.3 367.4L271.4 365.5L271.5 363.5L271.6 361.5L271.7 358.9L271.8 356.2L271.9 353.7L272.0 351.4L272.1 349.2L272.2 347.0L272.3 344.9L272.4 342.7L272.5 340.6L272.6 338.8L272.7 336.9L272.8 335.2L272.9 333.6L273.0 332.1L273.1 330.6L273.2 329.1L273.3 327.7L273.4 326.3L273.5 324.9L273.6 323.6L273.7 324.5L273.8 325.5L273.9 326.4L274.0 327.4L274.1 328.5L274.2 329.5L274.3 330.6L274.4 331.7L274.5 332.9L274.6 334.1L274.7 335.3L274.8 336.7L274.9 338.1L275.0 339.7L275.1 341.4L275.2 343.1L275.3 344.8L275.4 346.5L275.5 348.2L275.6 350.1L275.7 351.9L275.8 354.1L275.9 356.3L276.0 358.4L276.1 360.0L276.2 361.7L276.3 363.3L276.4 364.9L276.5 366.5L276.6 367.9L276.7 369.3L276.8 370.7L276.9 372.0L277.0 373.4L277.1 374.4L277.2 375.4L277.3 376.3L277.4 377.2L277.5 378.2L277.6 379.0L277.7 379.7L277.8 380.4L277.9 381.0L278.0 381.6L278.1 382.2L278.2 382.7L278.3 383.2L278.4 383.7L278.5 384.2L278.6 384.6L278.7 385.0L278.8 385.3L278.9 385.6L279.0 385.9L279.1 386.1L279.2 386.3L279.3 386.4L279.4 386.6L279.5 386.6L279.6 386.7L279.7 386.8L279.8 386.8L279.9 386.9L280.0 387.0L280.1 387.0L280.2 387.1L280.3 387.2L280.4 387.2L280.5 387.3L280.6 387.3L280.7 387.4L280.8 387.5L280.9 387.5L281.0 387.6L281.1 387.6L281.2 387.7L281.3 387.7L281.4 387.8L281.5 387.8L281.6 387.9L281.7 387.9L281.8 387.9L281.9 388.0L282.0 388.0L282.1 388.1L282.2 388.1L282.3 388.1L282.4 388.1L282.5 388.2L282.6 388.2L282.7 388.2L282.8 388.2L282.9 388.3L283.0 388.3L283.1 388.3L283.2 388.3L283.3 388.3L283.4 388.4L283.5 388.4L283.6 388.4L283.7 388.4L283.8 388.4L283.9 388.4L284.0 388.5L284.1 388.5L284.2 388.5L284.3 388.5L284.4 388.5L284.5 388.5L284.6 388.5L284.7 388.5L284.8 388.5L284.9 388.5L285.0 388.5L285.1 388.5L285.2 388.5L285.3 388.5L285.4 388.6L285.5 388.6L285.6 388.6L285.7 388.6L285.8 388.6L285.9 388.6L286.0 388.6L286.1 388.6L286.2 388.6L286.3 388.6L286.4 388.6L286.5 388.6L286.6 388.6L286.7 388.6L286.8 388.6L286.9 388.6L287.0 388.6L287.1 388.6L287.2 388.6L287.3 388.6L287.4 388.6L287.5 388.6L287.6 388.6L287.7 388.6L287.8 388.6L287.9 388.6L288.0 388.6L288.1 388.6L288.2 388.6L288.3 388.6L288.4 388.6L288.5 388.6L288.6 388.6L288.7 388.6L288.8 388.6L288.9 388.6L289.0 388.6L289.1 388.6L289.2 388.6L289.3 388.6L289.4 388.6L289.5 388.6L289.6 388.6L289.7 388.6L289.8 388.6L289.9 388.6L290.0 388.6L290.1 388.6L290.2 388.6L290.3 388.6L290.4 388.6L290.5 388.6L290.6 388.6L290.7 388.6L290.8 388.6L290.9 388.6L291.0 388.6L291.1 388.6L291.2 388.6L291.3 388.6L291.4 388.6L291.5 388.6L291.6 388.6L291.7 388.6L291.8 388.6L291.9 388.6L292.0 388.6L292.1 388.6L292.2 388.6L292.3 388.6L292.4 388.6L292.5 388.6L292.6 388.6L292.7 388.6L292.8 388.6L292.9 388.6L293.0 388.6L293.1 388.6L293.2 388.6L293.3 388.6L293.4 388.6L293.5 388.6L293.6 388.6L293.7 388.6L293.8 388.6L293.9 388.6L294.0 388.6L294.1 388.6L294.2 388.6L294.3 388.6L294.4 388.6L294.5 388.6L294.6 388.6L294.7 388.6L294.8 388.6L294.9 388.6L295.0 388.6L295.1 388.6L295.2 388.6L295.3 388.6L295.4 388.6L295.5 388.6L295.6 388.6L295.7 388.7L295.8 388.7L295.9 388.7L296.0 388.7L296.1 388.7L296.2 388.7L296.3 388.7L296.4 388.7L296.5 388.7L296.6 388.7L296.7 388.7L296.8 388.7L296.9 388.7L297.0 388.7L297.1 388.7L297.2 388.7L297.3 388.7L297.4 388.7L297.5 388.7L297.6 388.7L297.7 388.7L297.8 388.7L297.9 388.7L298.0 388.7L298.1 388.7L298.2 388.7L298.3 388.7L298.4 388.7L298.5 388.7L298.6 388.7L298.7 388.7L298.8 388.7L298.9 388.7L299.0 388.7L299.1 388.7L299.2 388.7L299.3 388.7L299.4 388.7L299.5 388.7L299.6 388.7L299.7 388.7L299.8 388.7L299.9 388.7L300.0 388.7L300.1 388.7L300.2 388.7L300.3 388.7L300.4 388.7L300.5 388.7L300.6 388.7L300.7 388.7L300.8 388.7L300.9 388.7L301.0 388.7L301.1 388.7L301.2 388.7L301.3 388.7L301.4 388.7L301.5 388.7L301.6 388.7L301.7 388.8L301.8 388.8L301.9 388.8L302.0 388.8L302.1 388.8L302.2 388.8L302.3 388.8L302.4 388.8L302.5 388.8L302.6 388.8L302.7 388.8L302.8 388.8L302.9 388.8L303.0 388.8L303.1 388.8L303.2 388.8L303.3 388.8L303.4 388.8L303.5 388.8L303.6 388.8L303.7 388.8L303.8 388.8L303.9 388.8L304.0 388.8L304.1 388.8L304.2 388.8L304.3 388.8L304.4 388.8L304.5 388.8L304.6 388.8L304.7 388.8L304.8 388.8L304.9 388.8L305.0 388.8L305.1 388.8L305.2 388.8L305.3 388.8L305.4 388.8L305.5 388.8L305.6 388.8L305.7 388.8L305.8 388.8L305.9 388.8L306.0 388.9L306.1 388.9L306.2 388.9L306.3 388.9L306.4 388.9L306.5 388.9L306.6 388.9L306.7 388.9L306.8 388.9L306.9 388.9L307.0 388.9L307.1 388.9L307.2 388.9L307.3 388.9L307.4 388.9L307.5 388.9L307.6 388.9L307.7 388.9L307.8 388.9L307.9 388.9L308.0 388.9L308.1 388.9L308.2 388.9L308.3 388.9L308.4 388.9L308.5 388.9L308.6 388.9L308.7 388.9L308.8 388.9L308.9 388.9L309.0 388.9L309.1 388.9L309.2 388.9L309.3 388.9L309.4 388.9L309.5 388.9L309.6 388.9L309.7 388.9L309.8 388.9L309.9 389.0L310.0 389.0L310.1 389.0L310.2 389.0L310.3 389.0L310.4 389.0L310.5 389.0L310.6 389.0L310.7 389.0L310.8 389.0L310.9 389.0L311.0 389.0L311.1 389.0L311.2 389.0L311.3 389.0L311.4 389.0L311.5 389.0L311.6 389.0L311.7 389.0L311.8 389.0L311.9 389.0L312.0 389.0L312.1 389.0L312.2 389.0L312.3 389.0L312.4 389.0L312.5 389.0L312.6 389.0L312.7 389.0L312.8 389.0L312.9 389.0L313.0 389.0L313.1 389.0L313.2 389.0L313.3 389.0L313.4 389.0L313.5 389.1L313.6 389.1L313.7 389.1L313.8 389.1L313.9 389.1L314.0 389.1L314.1 389.1L314.2 389.1L314.3 389.1L314.4 389.1L314.5 389.1L314.6 389.1L314.7 389.1L314.8 389.1L314.9 389.1L315.0 389.1L315.1 389.1L315.2 389.1L315.3 389.1L315.4 389.1L315.5 389.1L315.6 389.1L315.7 389.1L315.8 389.1L315.9 389.1L316.0 389.1L316.1 389.1L316.2 389.1L316.3 389.1L316.4 389.1L316.5 389.1L316.6 389.1L316.7 389.1L316.8 389.1L316.9 389.1L317.0 389.1L317.1 389.1L317.2 389.2L317.3 389.2L317.4 389.2L317.5 389.2L317.6 389.2L317.7 389.2L317.8 389.2L317.9 389.2L318.0 389.2L318.1 389.2L318.2 389.2L318.3 389.2L318.4 389.2L318.5 389.2L318.6 389.2L318.7 389.2L318.8 389.2L318.9 389.2L319.0 389.2L319.1 389.2L319.2 389.2L319.3 389.2L319.4 389.2L319.5 389.1L319.6 389.1L319.7 389.1L319.8 389.1L319.9 389.1L320.0 389.1L320.1 389.1L320.2 389.1L320.3 389.1L320.4 389.0L320.5 388.9L320.6 388.7L320.7 388.5L320.8 388.1L320.9 387.8L321.0 387.3L321.1 386.8L321.2 386.3L321.3 385.7L321.4 385.1L321.5 384.4L321.6 383.7L321.7 382.9L321.8 382.1L321.9 381.0L322.0 379.8L322.1 378.7L322.2 377.6L322.3 376.2L322.4 374.5L322.5 372.8L322.6 371.1L322.7 369.3L322.8 367.3L322.9 365.3L323.0 363.2L323.1 361.1L323.2 358.4L323.3 355.6L323.4 353.1L323.5 350.7L323.6 348.4L323.7 346.2L323.8 344.0L323.9 341.9L324.0 339.7L324.1 337.8L324.2 335.9L324.3 334.3L324.4 332.7L324.5 331.1L324.6 329.7L324.7 328.2L324.8 326.8L324.9 325.4L325.0 324.1L325.1 322.8L325.2 324.0L325.3 325.3L325.4 326.6L325.5 328.0L325.6 329.3L325.7 330.7L325.8 332.2L325.9 333.7L326.0 335.2L326.1 337.0L326.2 338.7L326.3 340.7L326.4 342.7L326.5 344.8L326.6 346.9L326.7 349.0L326.8 351.2L326.9 353.5L327.0 356.0L327.1 358.6L327.2 361.2L327.3 363.2L327.4 365.2L327.5 367.1L327.6 369.0L327.7 370.7L327.8 372.4L327.9 374.1L328.0 375.6L328.1 377.2L328.2 378.3L328.3 379.4L328.4 380.5L328.5 381.5L328.6 382.5L328.7 383.3L328.8 384.0L328.9 384.7L329.0 385.4L329.1 385.9L329.2 386.5L329.3 387.0L329.4 387.5L329.5 387.9L329.6 388.3L329.7 388.6L329.8 388.8L329.9 389.0L330.0 389.2L330.1 389.3L330.2 389.3L330.3 389.3L330.4 389.3L330.5 389.3L330.6 389.4L330.7 389.4L330.8 389.4L330.9 389.4L331.0 389.4L331.1 389.4L331.2 389.4L331.3 389.4L331.4 389.4L331.5 389.4L331.6 389.4L331.7 389.4L331.8 389.4L331.9 389.4L332.0 389.4L332.1 389.4L332.2 389.4L332.3 389.4L332.4 389.4L332.5 389.4L332.6 389.4L332.7 389.5L332.8 389.5L332.9 389.5L333.0 389.5L333.1 389.5L333.2 389.5L333.3 389.5L333.4 389.5L333.5 389.5L333.6 389.5L333.7 389.5L333.8 389.5L333.9 389.5L334.0 389.5L334.1 389.5L334.2 389.5L334.3 389.5L334.4 389.5L334.5 389.5L334.6 389.5L334.7 389.5L334.8 389.5L334.9 389.5L335.0 389.5L335.1 389.5L335.2 389.5L335.3 389.5L335.4 389.5L335.5 389.5L335.6 389.5L335.7 389.5L335.8 389.5L335.9 389.5L336.0 389.5L336.1 389.5L336.2 389.5L336.3 389.5L336.4 389.5L336.5 389.5L336.6 389.5L336.7 389.5L336.8 389.5L336.9 389.5L337.0 389.5L337.1 389.5L337.2 389.5L337.3 389.5L337.4 389.5L337.5 389.5L337.6 389.5L337.7 389.5L337.8 389.5L337.9 389.5L338.0 389.5L338.1 389.5L338.2 389.5L338.3 389.5L338.4 389.5L338.5 389.5L338.6 389.5L338.7 389.5L338.8 389.5L338.9 389.5L339.0 389.5L339.1 389.5L339.2 389.5L339.3 389.5L339.4 389.5L339.5 389.5L339.6 389.5L339.7 389.5L339.8 389.5L339.9 389.5L340.0 389.5L340.1 389.5L340.2 389.5L340.3 389.5L340.4 389.5L340.5 389.5L340.6 389.5L340.7 389.5L340.8 389.5L340.9 389.5L341.0 389.5L341.1 389.5L341.2 389.5L341.3 389.5L341.4 389.5L341.5 389.5L341.6 389.5L341.7 389.5L341.8 389.5L341.9 389.5L342.0 389.5L342.1 389.5L342.2 389.5L342.3 389.5L342.4 389.5L342.5 389.5L342.6 389.5L342.7 389.5L342.8 389.5L342.9 389.5L343.0 389.5L343.1 389.5L343.2 389.5L343.3 389.5L343.4 389.5L343.5 389.5L343.6 389.5L343.7 389.5L343.8 389.5L343.9 389.5L344.0 389.5L344.1 389.5L344.2 389.5L344.3 389.5L344.4 389.5L344.5 389.5L344.6 389.5L344.7 389.5L344.8 389.5L344.9 389.5L345.0 389.5L345.1 389.5L345.2 389.5L345.3 389.5L345.4 389.5L345.5 389.5L345.6 389.5L345.7 389.5L345.8 389.5L345.9 389.5L346.0 389.5L346.1 389.5L346.2 389.5L346.3 389.5L346.4 389.5L346.5 389.5L346.6 389.4L346.7 389.3L346.8 389.2L346.9 389.1L347.0 389.0L347.1 388.9L347.2 388.9L347.3 388.8L347.4 388.7L347.5 388.6L347.6 388.5L347.7 388.4L347.8 388.4L347.9 388.3L348.0 388.2L348.1 388.1L348.2 388.0L348.3 387.9L348.4 387.8L348.5 387.8L348.6 387.7L348.7 387.6L348.8 387.5L348.9 387.4L349.0 387.3L349.1 387.3L349.2 387.2L349.3 387.1L349.4 387.0L349.5 386.9L349.6 386.2L349.7 385.6L349.8 384.9L349.9 384.2L350.0 383.6L350.1 382.9L350.2 382.2L350.3 380.7L350.4 378.4L350.5 376.0L350.6 373.7L350.7 371.4L350.8 369.0L350.9 366.7L351.0 364.3L351.1 361.2L351.2 358.1L351.3 354.9L351.4 351.8L351.5 348.7L351.6 345.5L351.7 342.4L351.8 339.3L351.9 336.1L352.0 333.0L352.1 331.1L352.2 329.2L352.3 327.3L352.4 325.5L352.5 323.6L352.6 321.7L352.7 319.8L352.8 317.9L352.9 316.1L353.0 314.2L353.1 311.8L353.2 309.4L353.3 307.0L353.4 304.6L353.5 302.2L353.6 300.1L353.7 298.2L353.8 296.3L353.9 294.4L354.0 292.5L354.1 290.7L354.2 288.8L354.3 286.9L354.4 285.0L354.5 283.1L354.6 281.3L354.7 279.4L354.8 277.5L354.9 275.8L355.0 274.2L355.1 272.6L355.2 271.1L355.3 269.9L355.4 269.1L355.5 268.3L355.6 267.6L355.7 266.8L355.8 266.0L355.9 265.3L356.0 265.0L356.1 264.8L356.2 264.6L356.3 264.4L356.4 264.2L356.5 264.0L356.6 264.2L356.7 264.4L356.8 264.6L356.9 264.8L357.0 265.0L357.1 265.2L357.2 265.7L357.3 266.4L357.4 267.2L357.5 267.9L357.6 268.6L357.7 269.3L357.8 270.1L357.9 271.4L358.0 272.8L358.1 274.3L358.2 275.8L358.3 277.4L358.4 279.2L358.5 281.0L358.6 282.7L358.7 284.5L358.8 286.3L358.9 288.1L359.0 289.8L359.1 291.6L359.2 293.4L359.3 295.1L359.4 296.9L359.5 298.7L359.6 300.5L359.7 302.6L359.8 304.9L359.9 307.1L360.0 309.4L360.1 311.6L360.2 313.9L360.3 315.7L360.4 317.5L360.5 319.2L360.6 321.0L360.7 322.8L360.8 324.6L360.9 326.3L361.0 328.1L361.1 329.9L361.2 331.7L361.3 333.8L361.4 336.7L361.5 339.7L361.6 342.7L361.7 345.6L361.8 348.6L361.9 351.5L362.0 354.5L362.1 357.4L362.2 360.4L362.3 363.3L362.4 365.8L362.5 368.0L362.6 370.2L362.7 372.4L362.8 374.6L362.9 376.8L363.0 379.0L363.1 381.2L363.2 382.2L363.3 382.9L363.4 383.5L363.5 384.1L363.6 384.8L363.7 385.4L363.8 386.0L363.9 386.7L364.0 386.8L364.1 386.9L364.2 387.0L364.3 387.1L364.4 387.2L364.5 387.2L364.6 387.3L364.7 387.4L364.8 387.5L364.9 387.5L365.0 387.6L365.1 387.7L365.2 387.8L365.3 387.9L365.4 387.9L365.5 388.0L365.6 388.1L365.7 388.2L365.8 388.3L365.9 388.3L366.0 388.4L366.1 388.5L366.2 388.6L366.3 388.6L366.4 388.7L366.5 388.8L366.6 388.9L366.7 388.9L366.8 389.0L366.9 389.1L367.0 389.2L367.1 389.2L367.2 389.2L367.3 389.2L367.4 389.2L367.5 389.2L367.6 389.2L367.7 389.2L367.8 389.2L367.9 389.2L368.0 389.2L368.1 389.2L368.2 389.2L368.3 389.2L368.4 389.2L368.5 389.1L368.6 389.0L368.7 388.8L368.8 388.5L368.9 388.3L369.0 387.9L369.1 387.5L369.2 386.9L369.3 386.4L369.4 385.8L369.5 385.1L369.6 384.4L369.7 383.6L369.8 382.8L369.9 381.9L370.0 380.9L370.1 379.7L370.2 378.5L370.3 377.2L370.4 375.9L370.5 374.6L370.6 372.7L370.7 370.7L370.8 368.7L370.9 366.7L371.0 364.6L371.1 362.3L371.2 360.0L371.3 357.6L371.4 355.2L371.5 352.1L371.6 348.9L371.7 345.9L371.8 343.2L371.9 340.5L372.0 337.9L372.1 335.4L372.2 332.9L372.3 330.4L372.4 328.0L372.5 325.9L372.6 323.8L372.7 322.0L372.8 320.1L372.9 318.4L373.0 316.7L373.1 315.0L373.2 313.4L373.3 311.8L373.4 310.3L373.5 308.8L373.6 310.1L373.7 311.4L373.8 312.8L373.9 314.2L374.0 315.6L374.1 317.1L374.2 318.6L374.3 320.1L374.4 321.7L374.5 323.4L374.6 325.1L374.7 327.0L374.8 328.9L374.9 331.0L375.0 333.2L375.1 335.4L375.2 337.6L375.3 339.9L375.4 342.2L375.5 344.5L375.6 346.9L375.7 349.7L375.8 352.5L375.9 355.2L376.0 357.3L376.1 359.4L376.2 361.5L376.3 363.5L376.4 365.5L376.5 367.3L376.6 369.0L376.7 370.8L376.8 372.5L376.9 374.1L377.0 375.4L377.1 376.6L377.2 377.7L377.3 378.8L377.4 380.0L377.5 381.0L377.6 381.8L377.7 382.6L377.8 383.3L377.9 384.1L378.0 384.7L378.1 385.3L378.2 385.9L378.3 386.4L378.4 386.9L378.5 387.4L378.6 387.8L378.7 388.1L378.8 388.5L378.9 388.7L379.0 388.9L379.1 389.0L379.2 389.1L379.3 389.2L379.4 389.2L379.5 389.3L379.6 389.3L379.7 389.3L379.8 389.3L379.9 389.3L380.0 389.3L380.1 389.3L380.2 389.3L380.3 389.3L380.4 389.3L380.5 389.3L380.6 389.3L380.7 389.3L380.8 389.3L380.9 389.3L381.0 389.3L381.1 389.4L381.2 389.4L381.3 389.4L381.4 389.4L381.5 389.4L381.6 389.4L381.7 389.4L381.8 389.4L381.9 389.4L382.0 389.4L382.1 389.4L382.2 389.4L382.3 389.4L382.4 389.4L382.5 389.4L382.6 389.4L382.7 389.4L382.8 389.4L382.9 389.4L383.0 389.4L383.1 389.4L383.2 389.4L383.3 389.4L383.4 389.4L383.5 389.4L383.6 389.4L383.7 389.4L383.8 389.4L383.9 389.4L384.0 389.4L384.1 389.4L384.2 389.4L384.3 389.5L384.4 389.5L384.5 389.5L384.6 389.5L384.7 389.5L384.8 389.5L384.9 389.5L385.0 389.5L385.1 389.5L385.2 389.5L385.3 389.5L385.4 389.5L385.5 389.5L385.6 389.5L385.7 389.5L385.8 389.5L385.9 389.5L386.0 389.5L386.1 389.5L386.2 389.5L386.3 389.5L386.4 389.5L386.5 389.5L386.6 389.5L386.7 389.5L386.8 389.5L386.9 389.5L387.0 389.5L387.1 389.5L387.2 389.5L387.3 389.5L387.4 389.5L387.5 389.5L387.6 389.5L387.7 389.5L387.8 389.5L387.9 389.5L388.0 389.5L388.1 389.5L388.2 389.5L388.3 389.5L388.4 389.5L388.5 389.5L388.6 389.6L388.7 389.6L388.8 389.6L388.9 389.6L389.0 389.6L389.1 389.6L389.2 389.6L389.3 389.6L389.4 389.6L389.5 389.6L389.6 389.6L389.7 389.6L389.8 389.6L389.9 389.6L390.0 389.6L390.1 389.6L390.2 389.6L390.3 389.6L390.4 389.6L390.5 389.6L390.6 389.6L390.7 389.6L390.8 389.6L390.9 389.6L391.0 389.6L391.1 389.6L391.2 389.6L391.3 389.6L391.4 389.6L391.5 389.6L391.6 389.6L391.7 389.6L391.8 389.6L391.9 389.6L392.0 389.6L392.1 389.6L392.2 389.6L392.3 389.7L392.4 389.7L392.5 389.7L392.6 389.7L392.7 389.7L392.8 389.7L392.9 389.7L393.0 389.7L393.1 389.7L393.2 389.7L393.3 389.7L393.4 389.7L393.5 389.7L393.6 389.7L393.7 389.7L393.8 389.7L393.9 389.7L394.0 389.7L394.1 389.7L394.2 389.7L394.3 389.7L394.4 389.7L394.5 389.7L394.6 389.7L394.7 389.7L394.8 389.7L394.9 389.7L395.0 389.7L395.1 389.7L395.2 389.7L395.3 389.7L395.4 389.7L395.5 389.7L395.6 389.7L395.7 389.7L395.8 389.7L395.9 389.7L396.0 389.8L396.1 389.8L396.2 389.8L396.3 389.8L396.4 389.8L396.5 389.8L396.6 389.8L396.7 389.8L396.8 389.8L396.9 389.8L397.0 389.8L397.1 389.8L397.2 389.8L397.3 389.8L397.4 389.8L397.5 389.8L397.6 389.8L397.7 389.8L397.8 389.8L397.9 389.8L398.0 389.8L398.1 389.8L398.2 389.8L398.3 389.8L398.4 389.8L398.5 389.8L398.6 389.8L398.7 389.8L398.8 389.8L398.9 389.8L399.0 389.8L399.1 389.8L399.2 389.8L399.3 389.8L399.4 389.8L399.5 389.8L399.6 389.8L399.7 389.9L399.8 389.9L399.9 389.9L400.0 389.9L400.1 389.9L400.2 389.9L400.3 389.9L400.4 389.9L400.5 389.9L400.6 389.9L400.7 389.9L400.8 389.9L400.9 389.9L401.0 389.9L401.1 389.9L401.2 389.9L401.3 389.9L401.4 389.9L401.5 389.9L401.6 389.9L401.7 389.9L401.8 389.9L401.9 389.9L402.0 389.9L402.1 389.9L402.2 389.9L402.3 389.9L402.4 389.9L402.5 389.9L402.6 389.9L402.7 389.9L402.8 389.9L402.9 389.9L403.0 389.9L403.1 389.9L403.2 389.9L403.3 389.9L403.4 389.9L403.5 389.9L403.6 389.9L403.7 390.0L403.8 390.0L403.9 390.0L404.0 390.0L404.1 390.0L404.2 390.0L404.3 390.0L404.4 390.0L404.5 390.0L404.6 390.0L404.7 390.0L404.8 390.0L404.9 390.0L405.0 390.0L405.1 390.0L405.2 390.0L405.3 390.0L405.4 390.0L405.5 390.0L405.6 390.0L405.7 390.0L405.8 390.0L405.9 390.0L406.0 390.0L406.1 390.0L406.2 390.0L406.3 390.0L406.4 390.0L406.5 390.0L406.6 390.0L406.7 390.0L406.8 390.0L406.9 390.0L407.0 390.0L407.1 390.0L407.2 390.0L407.3 390.0L407.4 389.9L407.5 389.9L407.6 389.9L407.7 389.9L407.8 389.9L407.9 389.8L408.0 389.8L408.1 389.8L408.2 389.7L408.3 389.7L408.4 389.6L408.5 389.5L408.6 389.4L408.7 389.3L408.8 389.2L408.9 389.1L409.0 389.0L409.1 388.8L409.2 388.7L409.3 388.5L409.4 388.3L409.5 388.1L409.6 387.8L409.7 387.6L409.8 387.3L409.9 386.9L410.0 386.6L410.1 386.2L410.2 385.8L410.3 385.4L410.4 384.9L410.5 384.4L410.6 383.9L410.7 383.4L410.8 382.8L410.9 382.2L411.0 381.5L411.1 380.9L411.2 380.2L411.3 379.4L411.4 378.7L411.5 377.9L411.6 377.1L411.7 376.3L411.8 375.4L411.9 374.6L412.0 373.7L412.1 372.8L412.2 371.9L412.3 371.0L412.4 370.1L412.5 369.2L412.6 368.2L412.7 367.3L412.8 366.4L412.9 365.5L413.0 364.6L413.1 363.8L413.2 362.9L413.3 362.0L413.4 361.2L413.5 360.4L413.6 359.6L413.7 358.9L413.8 358.2L413.9 357.5L414.0 356.8L414.1 356.2L414.2 355.6L414.3 355.1L414.4 354.5L414.5 354.0L414.6 353.6L414.7 353.2L414.8 352.8L414.9 352.4L415.0 352.1L415.1 351.8L415.2 351.5L415.3 351.3L415.4 351.1L415.5 350.9L415.6 350.8L415.7 350.7L415.8 350.6L415.9 350.5L416.0 350.4L416.1 350.4L416.2 350.3L416.3 350.3L416.4 350.3L416.5 350.3L416.6 350.3L416.7 350.3L416.8 350.3L416.9 350.3L417.0 350.4L417.1 350.4L417.2 350.5L417.3 350.7L417.4 350.8L417.5 351.1L417.6 351.3L417.7 351.6L417.8 352.0L417.9 352.4L418.0 352.8L418.1 353.4L418.2 353.9L418.3 354.6L418.4 355.3L418.5 356.0L418.6 356.8L418.7 357.7L418.8 358.6L418.9 359.6L419.0 360.6L419.1 361.6L419.2 362.7L419.3 363.8L419.4 365.0L419.5 366.1L419.6 367.3L419.7 368.5L419.8 369.7L419.9 370.9L420.0 372.1L420.1 373.2L420.2 374.4L420.3 375.5L420.4 376.6L420.5 377.7L420.6 378.7L420.7 379.7L420.8 380.6L420.9 381.5L421.0 382.3L421.1 383.1L421.2 383.8L421.3 384.5L421.4 385.1L421.5 385.7L421.6 386.3L421.7 386.7L421.8 387.2L421.9 387.6L422.0 387.9L422.1 388.2L422.2 388.5L422.3 388.8L422.4 389.0L422.5 389.2L422.6 389.3L422.7 389.5L422.8 389.6L422.9 389.7L423.0 389.8L423.1 389.8L423.2 389.9L423.3 390.0L423.4 390.0L423.5 390.0L423.6 390.1L423.7 390.1L423.8 390.1L423.9 390.1L424.0 390.1L424.1 390.1L424.2 390.1L424.3 390.1L424.4 390.1L424.5 390.1L424.6 390.1L424.7 390.1L424.8 390.1L424.9 390.1L425.0 390.1L425.1 390.1L425.2 390.1L425.3 390.1L425.4 390.1L425.5 390.1L425.6 390.0L425.7 390.0L425.8 390.0L425.9 389.9L426.0 389.9L426.1 389.8L426.2 389.8L426.3 389.7L426.4 389.6L426.5 389.5L426.6 389.4L426.7 389.3L426.8 389.1L426.9 388.9L427.0 388.8L427.1 388.6L427.2 388.3L427.3 388.1L427.4 387.9L427.5 387.6L427.6 387.3L427.7 387.0L427.8 386.7L427.9 386.4L428.0 386.1L428.1 385.7L428.2 385.4L428.3 385.1L428.4 384.8L428.5 384.4L428.6 384.1L428.7 383.8L428.8 383.6L428.9 383.3L429.0 383.0L429.1 382.8L429.2 382.6L429.3 382.4L429.4 382.2L429.5 382.1L429.6 382.0L429.7 381.9L429.8 381.8L429.9 381.7L430.0 381.7L430.1 381.6L430.2 381.6L430.3 381.6L430.4 381.6L430.5 381.6L430.6 381.6L430.7 381.6L430.8 381.7L430.9 381.7L431.0 381.8L431.1 381.9L431.2 382.0L431.3 382.1L431.4 382.3L431.5 382.4L431.6 382.6L431.7 382.8L431.8 382.9L431.9 383.1L432.0 383.2L432.1 383.4L432.2 383.5L432.3 383.7L432.4 383.8L432.5 383.9L432.6 384.0L432.7 384.1L432.8 384.1L432.9 384.2L433.0 384.2L433.1 384.3L433.2 384.4L433.3 384.4L433.4 384.5L433.5 384.5L433.6 384.6L433.7 384.6L433.8 384.6L433.9 384.5L434.0 384.3L434.1 384.1L434.2 383.8L434.3 383.5L434.4 383.0L434.5 382.6L434.6 382.1L434.7 381.5L434.8 381.0L434.9 380.3L435.0 379.7L435.1 378.8L435.2 377.8L435.3 377.0L435.4 375.9L435.5 374.5L435.6 373.0L435.7 371.5L435.8 369.9L435.9 368.1L436.0 366.3L436.1 364.4L436.2 361.9L436.3 359.3L436.4 357.1L436.5 354.9L436.6 352.8L436.7 350.7L436.8 348.7L436.9 346.7L437.0 344.9L437.1 343.2L437.2 341.7L437.3 340.2L437.4 338.7L437.5 337.3L437.6 335.9L437.7 334.6L437.8 333.3L437.9 334.6L438.0 335.9L438.1 337.4L438.2 338.8L438.3 340.3L438.4 341.8L438.5 343.4L438.6 345.2L438.7 347.1L438.8 349.1L438.9 351.3L439.0 353.5L439.1 355.7L439.2 358.1L439.3 360.5L439.4 363.3L439.5 366.0L439.6 368.1L439.7 370.1L439.8 372.1L439.9 374.0L440.0 375.8L440.1 377.5L440.2 379.2L440.3 380.5L440.4 381.6L440.5 382.7L440.6 383.8L440.7 384.6L440.8 385.4L440.9 386.1L441.0 386.8L441.1 387.3L441.2 387.8L441.3 388.3L441.4 388.6L441.5 388.9L441.6 389.0L441.7 389.1L441.8 389.0L441.9 388.9L442.0 388.6L442.1 388.2L442.2 387.8L442.3 387.2L442.4 386.7L442.5 386.0L442.6 385.3L442.7 384.6L442.8 383.8L442.9 383.0L443.0 382.2L443.1 381.4L443.2 380.6L443.3 379.9L443.4 379.2L443.5 378.5L443.6 378.0L443.7 377.5L443.8 377.0L443.9 376.6L444.0 376.3L444.1 376.0L444.2 375.7L444.3 375.5L444.4 375.2L444.5 374.9L444.6 374.6L444.7 374.3L444.8 374.0L444.9 373.7L445.0 373.4L445.1 373.2L445.2 372.9L445.3 372.7L445.4 372.5L445.5 372.3L445.6 372.2L445.7 372.0L445.8 371.9L445.9 371.7L446.0 371.6L446.1 371.5L446.2 371.5L446.3 371.4L446.4 371.3L446.5 371.3L446.6 371.2L446.7 371.2L446.8 371.2L446.9 371.2L447.0 371.1L447.1 371.1L447.2 371.1L447.3 371.1L447.4 371.1L447.5 371.1L447.6 371.1L447.7 371.1L447.8 371.2L447.9 371.2L448.0 371.2L448.1 371.3L448.2 371.3L448.3 371.4L448.4 371.4L448.5 371.5L448.6 371.5L448.7 371.6L448.8 371.6L448.9 371.7L449.0 371.8L449.1 371.9L449.2 372.0L449.3 372.1L449.4 372.2L449.5 372.4L449.6 372.6L449.7 372.8L449.8 373.0L449.9 373.3L450.0 373.6L450.1 373.8L450.2 374.2L450.3 374.5L450.4 374.8L450.5 375.2L450.6 375.5L450.7 375.9L450.8 376.2L450.9 376.6L451.0 377.0L451.1 377.3L451.2 377.7L451.3 378.0L451.4 378.3L451.5 378.7L451.6 379.0L451.7 379.2L451.8 379.5L451.9 379.8L452.0 380.0L452.1 380.2L452.2 380.4L452.3 380.6L452.4 380.8L452.5 380.9L452.6 381.0L452.7 381.2L452.8 381.3L452.9 381.4L453.0 381.5L453.1 381.6L453.2 381.7L453.3 381.8L453.4 381.8L453.5 381.9L453.6 382.0L453.7 382.1L453.8 382.2L453.9 382.3L454.0 382.4L454.1 382.5L454.2 382.6L454.3 382.7L454.4 382.8L454.5 382.9L454.6 383.0L454.7 383.1L454.8 383.2L454.9 383.3L455.0 383.5L455.1 383.6L455.2 383.7L455.3 383.9L455.4 384.0L455.5 384.2L455.6 384.4L455.7 384.6L455.8 384.7L455.9 384.9L456.0 385.1L456.1 385.3L456.2 385.5L456.3 385.7L456.4 385.9L456.5 386.1L456.6 386.3L456.7 386.5L456.8 386.7L456.9 386.9L457.0 387.1L457.1 387.3L457.2 387.4L457.3 387.6L457.4 387.8L457.5 387.9L457.6 388.1L457.7 388.2L457.8 388.4L457.9 388.5L458.0 388.6L458.1 388.8L458.2 388.9L458.3 389.0L458.4 389.1L458.5 389.2L458.6 389.3L458.7 389.3L458.8 389.4L458.9 389.5L459.0 389.5L459.1 389.6L459.2 389.6L459.3 389.7L459.4 389.7L459.5 389.8L459.6 389.8L459.7 389.8L459.8 389.8L459.9 389.9L460.0 389.9L460.1 389.9L460.2 389.9L460.3 389.9L460.4 390.0L460.5 390.0L460.6 390.0L460.7 390.0L460.8 390.0L460.9 390.0L461.0 390.0L461.1 390.0L461.2 390.0L461.3 390.0L461.4 390.0L461.5 390.0L461.6 390.0L461.7 390.0L461.8 390.0L461.9 390.0L462.0 390.0L462.1 390.1L462.2 390.1L462.3 390.1L462.4 390.1L462.5 390.1L462.6 390.1L462.7 390.1L462.8 390.1L462.9 390.1L463.0 390.1L463.1 390.1L463.2 390.1L463.3 390.1L463.4 390.1L463.5 390.1L463.6 390.1L463.7 390.1L463.8 390.1L463.9 390.1L464.0 390.1L464.1 390.1L464.2 390.1L464.3 390.1L464.4 390.1L464.5 390.1L464.6 390.1L464.7 390.1L464.8 390.1L464.9 390.1L465.0 390.1L465.1 390.1L465.2 390.1L465.3 390.1L465.4 390.1L465.5 390.1L465.6 390.1L465.7 390.1L465.8 390.1L465.9 390.1L466.0 390.1L466.1 390.1L466.2 390.1L466.3 390.1L466.4 390.1L466.5 390.1L466.6 390.1L466.7 390.1L466.8 390.1L466.9 390.1L467.0 390.2L467.1 390.2L467.2 390.2L467.3 390.2L467.4 390.2L467.5 390.2L467.6 390.2L467.7 390.2L467.8 390.2L467.9 390.2L468.0 390.2L468.1 390.2L468.2 390.2L468.3 390.2L468.4 390.2L468.5 390.2L468.6 390.2L468.7 390.2L468.8 390.2L468.9 390.2L469.0 390.2L469.1 390.2L469.2 390.2L469.3 390.2L469.4 390.2L469.5 390.2L469.6 390.2L469.7 390.2L469.8 390.2L469.9 390.2L470.0 390.2L470.1 390.2L470.2 390.2L470.3 390.2L470.4 390.2L470.5 390.2L470.6 390.2L470.7 390.2L470.8 390.2L470.9 390.2L471.0 390.2L471.1 390.3L471.2 390.3L471.3 390.3L471.4 390.3L471.5 390.3L471.6 390.3L471.7 390.3L471.8 390.3L471.9 390.3L472.0 390.3L472.1 390.3L472.2 390.3L472.3 390.3L472.4 390.3L472.5 390.3L472.6 390.3L472.7 390.3L472.8 390.3L472.9 390.3L473.0 390.3L473.1 390.3L473.2 390.3L473.3 390.3L473.4 390.3L473.5 390.3L473.6 390.3L473.7 390.3L473.8 390.3L473.9 390.3L474.0 390.3L474.1 390.3L474.2 390.3L474.3 390.3L474.4 390.3L474.5 390.3L474.6 390.3L474.7 390.3L474.8 390.4L474.9 390.4L475.0 390.4L475.1 390.4L475.2 390.4L475.3 390.4L475.4 390.4L475.5 390.4L475.6 390.4L475.7 390.4L475.8 390.4L475.9 390.4L476.0 390.4L476.1 390.4L476.2 390.4L476.3 390.4L476.4 390.4L476.5 390.4L476.6 390.4L476.7 390.4L476.8 390.4L476.9 390.4L477.0 390.4L477.1 390.4L477.2 390.4L477.3 390.4L477.4 390.4L477.5 390.4L477.6 390.4L477.7 390.4L477.8 390.4L477.9 390.4L478.0 390.4L478.1 390.4L478.2 390.4L478.3 390.4L478.4 390.4L478.5 390.4L478.6 390.4L478.7 390.4L478.8 390.4L478.9 390.4L479.0 390.4L479.1 390.4L479.2 390.4L479.3 390.4L479.4 390.4L479.5 390.4L479.6 390.4L479.7 390.4L479.8 390.4L479.9 390.4L480.0 390.4L480.1 390.3L480.2 390.2L480.3 390.1L480.4 390.0L480.5 389.8L480.6 389.6L480.7 389.4L480.8 389.2L480.9 389.0L481.0 388.7L481.1 388.5L481.2 388.2L481.3 387.9L481.4 387.5L481.5 387.2L481.6 386.7L481.7 386.3L481.8 385.8L481.9 385.3L482.0 384.8L482.1 384.1L482.2 383.4L482.3 382.7L482.4 382.0L482.5 381.2L482.6 380.4L482.7 379.6L482.8 378.7L482.9 377.9L483.0 376.8L483.1 375.7L483.2 374.6L483.3 373.6L483.4 372.7L483.5 371.8L483.6 370.9L483.7 370.0L483.8 369.1L483.9 368.2L484.0 367.4L484.1 366.7L484.2 366.0L484.3 365.3L484.4 364.7L484.5 364.1L484.6 363.5L484.7 362.9L484.8 362.3L484.9 361.8L485.0 361.2L485.1 360.7L485.2 361.2L485.3 361.7L485.4 362.2L485.5 362.7L485.6 363.3L485.7 363.8L485.8 364.4L485.9 364.9L486.0 365.5L486.1 366.1L486.2 366.8L486.3 367.5L486.4 368.2L486.5 369.0L486.6 369.8L486.7 370.6L486.8 371.5L486.9 372.3L487.0 373.1L487.1 374.0L487.2 374.9L487.3 376.0L487.4 377.0L487.5 378.0L487.6 378.8L487.7 379.6L487.8 380.3L487.9 381.1L488.0 381.8L488.1 382.5L488.2 383.2L488.3 383.8L488.4 384.4L488.5 385.1L488.6 385.5L488.7 386.0L488.8 386.4L488.9 386.8L489.0 387.2L489.1 387.6L489.2 387.9L489.3 388.2L489.4 388.5L489.5 388.8L489.6 389.0L489.7 389.2L489.8 389.4L489.9 389.6L490.0 389.8L490.1 390.0L490.2 390.2L490.3 390.3L490.4 390.4L490.5 390.5L490.6 390.6L490.7 390.6L490.8 390.7L490.9 390.7L491.0 390.7L491.1 390.7L491.2 390.7L491.3 390.7L491.4 390.7L491.5 390.7L491.6 390.7L491.7 390.7L491.8 390.7L491.9 390.7L492.0 390.7L492.1 390.7L492.2 390.7L492.3 390.7L492.4 390.7L492.5 390.7L492.6 390.8L492.7 390.8L492.8 390.8L492.9 390.8L493.0 390.8L493.1 390.8L493.2 390.8L493.3 390.8L493.4 390.8L493.5 390.8L493.6 390.8L493.7 390.8L493.8 390.8L493.9 390.8L494.0 390.8L494.1 390.8L494.2 390.8L494.3 390.8L494.4 390.8L494.5 390.8L494.6 390.8L494.7 390.8L494.8 390.8L494.9 390.8L495.0 390.8L495.1 390.8L495.2 390.8L495.3 390.8L495.4 390.8L495.5 390.8L495.6 390.8L495.7 390.8L495.8 390.8L495.9 390.8L496.0 390.8L496.1 390.8L496.2 390.8L496.3 390.8L496.4 390.8L496.5 390.8L496.6 390.8L496.7 390.8L496.8 390.8L496.9 390.8L497.0 390.8L497.1 390.8L497.2 390.8L497.3 390.8L497.4 390.8L497.5 390.8L497.6 390.8L497.7 390.8L497.8 390.8L497.9 390.8L498.0 390.8L498.1 390.8L498.2 390.8L498.3 390.8L498.4 390.8L498.5 390.8L498.6 390.8L498.7 390.8L498.8 390.8L498.9 390.8L499.0 390.8L499.1 390.8L499.2 390.8L499.3 390.8L499.4 390.8L499.5 390.8L499.6 390.8L499.7 390.8L499.8 390.8L499.9 390.8L500.0 390.8L500.1 390.8L500.2 390.8L500.3 390.8L500.4 390.8L500.5 390.8L500.6 390.8L500.7 390.8L500.8 390.8L500.9 390.8L501.0 390.8L501.1 390.7L501.2 390.7L501.3 390.6L501.4 390.5L501.5 390.4L501.6 390.2L501.7 390.0L501.8 389.8L501.9 389.6L502.0 389.3L502.1 389.1L502.2 388.8L502.3 388.5L502.4 388.1L502.5 387.8L502.6 387.3L502.7 386.8L502.8 386.3L502.9 385.9L503.0 385.2L503.1 384.5L503.2 383.8L503.3 383.1L503.4 382.3L503.5 381.4L503.6 380.6L503.7 379.7L503.8 378.8L503.9 377.7L504.0 376.4L504.1 375.4L504.2 374.4L504.3 373.4L504.4 372.4L504.5 371.5L504.6 370.6L504.7 369.6L504.8 368.8L504.9 368.0L505.0 367.3L505.1 366.6L505.2 366.0L505.3 365.3L505.4 364.7L505.5 364.1L505.6 363.5L505.7 363.0L505.8 362.4L505.9 362.9L506.0 363.3L506.1 363.8L506.2 364.3L506.3 364.8L506.4 365.3L506.5 365.9L506.6 366.4L506.7 367.0L506.8 367.5L506.9 368.1L507.0 368.8L507.1 369.5L507.2 370.2L507.3 371.0L507.4 371.8L507.5 372.6L507.6 373.4L507.7 374.2L507.8 375.0L507.9 375.8L508.0 376.8L508.1 377.8L508.2 378.8L508.3 379.5L508.4 380.3L508.5 381.0L508.6 381.7L508.7 382.4L508.8 383.0L508.9 383.6L509.0 384.2L509.1 384.8L509.2 385.4L509.3 385.9L509.4 386.3L509.5 386.7L509.6 387.0L509.7 387.4L509.8 387.8L509.9 388.1L510.0 388.3L510.1 388.6L510.2 388.8L510.3 389.0L510.4 389.2L510.5 389.4L510.6 389.5L510.7 389.7L510.8 389.8L510.9 389.9L511.0 390.0L511.1 390.0L511.2 390.1L511.3 390.1L511.4 390.1L511.5 390.0L511.6 390.0L511.7 389.9L511.8 389.8L511.9 389.8L512.0 389.7L512.1 389.6L512.2 389.5L512.3 389.4L512.4 389.2L512.5 389.1L512.6 389.0L512.7 388.9L512.8 388.7L512.9 388.6L513.0 388.5L513.1 388.3L513.2 388.2L513.3 388.1L513.4 387.9L513.5 387.8L513.6 387.7L513.7 387.5L513.8 387.4L513.9 387.3L514.0 387.2L514.1 387.1L514.2 387.0L514.3 386.9L514.4 386.8L514.5 386.7L514.6 386.6L514.7 386.5L514.8 386.5L514.9 386.4L515.0 386.4L515.1 386.4L515.2 386.3L515.3 386.3L515.4 386.3L515.5 386.3L515.6 386.3L515.7 386.3L515.8 386.3L515.9 386.3L516.0 386.4L516.1 386.4L516.2 386.4L516.3 386.5L516.4 386.5L516.5 386.6L516.6 386.6L516.7 386.7L516.8 386.8L516.9 386.8L517.0 386.9L517.1 387.0L517.2 387.1L517.3 387.2L517.4 387.3L517.5 387.4L517.6 387.5L517.7 387.6L517.8 387.7L517.9 387.8L518.0 388.0L518.1 388.1L518.2 388.2L518.3 388.3L518.4 388.4L518.5 388.5L518.6 388.6L518.7 388.8L518.8 388.9L518.9 389.0L519.0 389.1L519.1 389.2L519.2 389.3L519.3 389.4L519.4 389.5L519.5 389.5L519.6 389.6L519.7 389.7L519.8 389.8L519.9 389.9L520.0 389.9L520.1 390.0L520.2 390.0L520.3 390.1L520.4 390.2L520.5 390.2L520.6 390.2L520.7 390.3L520.8 390.3L520.9 390.4L521.0 390.4L521.1 390.4L521.2 390.5L521.3 390.5L521.4 390.5L521.5 390.5L521.6 390.5L521.7 390.6L521.8 390.6L521.9 390.6L522.0 390.6L522.1 390.6L522.2 390.6L522.3 390.6L522.4 390.6L522.5 390.6L522.6 390.6L522.7 390.6L522.8 390.6L522.9 390.7" fill="none" stroke="#2a8548" stroke-width="0.75" stroke-linejoin="round"/>
<path d="M110.9 165.6v7M210.5 206.9v7M219.6 332.1v7M252.2 93.6v7M273.6 323.9v7M325.1 323.1v7M373.5 309.1v7M437.8 333.6v7M485.1 361.0v7M505.8 362.7v7" fill="none" stroke="#258a4a" stroke-width="1.2"/>
<path d="M72.6 389.3h0M72.8 389.2h0M73.0 389.1h0M73.3 388.9h0M73.5 388.8h0M73.7 388.6h0M73.9 388.5h0M74.1 388.4h0M74.4 388.3h0M74.6 388.2h0M74.8 388.1h0M75.0 388.1h0M75.2 388.0h0M75.5 387.9h0M75.7 387.8h0M75.9 387.7h0M76.1 387.6h0M76.3 387.5h0M76.6 387.4h0M76.8 387.4h0M77.0 387.3h0M77.2 387.3h0M77.4 387.2h0M77.7 387.2h0M77.9 387.2h0M78.1 387.2h0M78.3 387.2h0M78.5 387.2h0M78.8 387.1h0M79.0 387.1h0M79.2 387.1h0M79.4 387.0h0M79.6 386.9h0M79.9 386.9h0M80.1 386.8h0M80.3 386.8h0M80.5 386.7h0M80.7 386.7h0M81.0 386.7h0M81.2 386.7h0M81.4 386.7h0M81.6 386.7h0M81.8 386.7h0M82.1 386.8h0M82.3 386.8h0M82.5 386.9h0M82.7 386.9h0M82.9 387.0h0M83.2 387.1h0M83.4 387.2h0M83.6 387.3h0M83.8 387.4h0M84.0 387.4h0M84.3 387.5h0M84.5 387.5h0M84.7 387.5h0M84.9 387.5h0M85.1 387.4h0M85.4 387.4h0M85.6 387.5h0M85.8 387.5h0M86.0 387.5h0M86.2 387.5h0M86.5 387.6h0M86.7 387.6h0M86.9 387.6h0M87.1 387.7h0M87.3 387.7h0M87.6 387.7h0M87.8 387.8h0M88.0 387.8h0M88.2 387.8h0M88.4 387.8h0M88.7 387.8h0M88.9 387.8h0M89.1 387.8h0M89.3 387.7h0M89.5 387.7h0M89.8 387.6h0M90.0 387.5h0M90.2 387.5h0M90.4 387.4h0M90.6 387.3h0M90.9 387.2h0M91.1 387.2h0M91.3 387.1h0M91.5 387.0h0M91.7 387.0h0M92.0 386.9h0M92.2 386.9h0M92.4 386.9h0M92.6 387.0h0M92.8 387.0h0M93.1 387.1h0M93.3 387.2h0M93.5 387.3h0M93.7 387.3h0M93.9 387.4h0M94.2 387.5h0M94.4 387.5h0M94.6 387.6h0M94.8 387.6h0M95.0 387.6h0M95.3 387.6h0M95.5 387.6h0M95.7 387.6h0M95.9 387.5h0M96.1 387.5h0M96.4 387.5h0M96.6 387.5h0M96.8 387.5h0M97.0 387.5h0M97.2 387.5h0M97.5 387.5h0M97.7 387.5h0M97.9 387.5h0M98.1 387.5h0M98.3 387.5h0M98.6 387.4h0M98.8 387.4h0M99.0 387.4h0M99.2 387.3h0M99.4 387.3h0M99.7 387.3h0M99.9 387.3h0M100.1 387.3h0M100.3 387.3h0M100.5 387.4h0M100.8 387.4h0M101.0 387.4h0M101.2 387.4h0M101.4 387.4h0M101.6 387.4h0M101.9 387.4h0M102.1 387.4h0M102.3 387.4h0M102.5 387.3h0M102.7 387.3h0M103.0 387.3h0M103.2 387.3h0M103.4 387.3h0M103.6 387.3h0M103.8 387.4h0M104.1 387.4h0M104.3 387.4h0M104.5 387.4h0M104.7 387.4h0M104.9 387.3h0M105.2 387.3h0M105.4 387.3h0M105.6 387.2h0M105.8 387.2h0M106.0 387.1h0M106.3 386.4h0M106.5 385.0h0M106.7 382.6h0M106.9 379.2h0M107.1 375.1h0M107.4 370.2h0M107.6 364.4h0M107.8 356.6h0M108.0 348.6h0M108.2 337.0h0M108.5 324.5h0M108.7 310.3h0M108.9 295.4h0M109.1 275.7h0M109.3 258.4h0M109.6 242.4h0M109.8 226.7h0M110.0 213.1h0M110.2 201.3h0M110.4 189.8h0M110.7 178.3h0M110.9 170.8h0M111.1 176.6h0M111.3 187.8h0M111.5 199.3h0M111.8 210.8h0M112.0 224.1h0M112.2 239.5h0M112.4 255.3h0M112.6 272.1h0M112.9 291.9h0M113.1 307.3h0M113.3 321.7h0M113.5 334.4h0M113.7 346.4h0M114.0 354.8h0M114.2 362.8h0M114.4 368.9h0M114.6 374.0h0M114.8 378.3h0M115.1 381.9h0M115.3 384.6h0M115.5 386.2h0M115.7 387.0h0M115.9 387.2h0M116.2 387.3h0M116.4 387.3h0M116.6 387.4h0M116.8 387.4h0M117.0 387.5h0M117.3 387.6h0M117.5 387.6h0M117.7 387.6h0M117.9 387.7h0M118.1 387.7h0M118.4 387.7h0M118.6 387.7h0M118.8 387.7h0M119.0 387.6h0M119.2 387.6h0M119.5 387.6h0M119.7 387.5h0M119.9 387.5h0M120.1 387.4h0M120.3 387.4h0M120.6 387.3h0M120.8 387.3h0M121.0 387.2h0M121.2 387.2h0M121.4 387.1h0M121.7 387.1h0M121.9 387.1h0M122.1 387.1h0M122.3 387.0h0M122.5 387.0h0M122.8 387.0h0M123.0 387.0h0M123.2 387.1h0M123.4 387.0h0M123.6 387.0h0M123.9 387.0h0M124.1 387.0h0M124.3 387.0h0M124.5 386.9h0M124.7 386.9h0M125.0 386.9h0M125.2 386.9h0M125.4 386.9h0M125.6 386.9h0M125.8 386.9h0M126.1 386.9h0M126.3 386.9h0M126.5 386.9h0M126.7 386.8h0M126.9 386.7h0M127.2 386.6h0M127.4 386.5h0M127.6 386.4h0M127.8 386.3h0M128.0 386.2h0M128.3 386.1h0M128.5 386.1h0M128.7 386.1h0M128.9 386.2h0M129.1 386.3h0M129.4 386.3h0M129.6 386.4h0M129.8 386.5h0M130.0 386.6h0M130.2 386.6h0M130.5 386.7h0M130.7 386.7h0M130.9 386.7h0M131.1 386.7h0M131.3 386.8h0M131.6 386.8h0M131.8 386.8h0M132.0 386.9h0M132.2 386.9h0M132.4 386.9h0M132.7 387.0h0M132.9 387.0h0M133.1 387.0h0M133.3 387.0h0M133.5 387.1h0M133.8 387.1h0M134.0 387.2h0M134.2 387.3h0M134.4 387.3h0M134.6 387.4h0M134.9 387.5h0M135.1 387.5h0M135.3 387.6h0M135.5 387.6h0M135.7 387.6h0M136.0 387.5h0M136.2 387.4h0M136.4 387.4h0M136.6 387.3h0M136.8 387.2h0M137.1 387.1h0M137.3 387.1h0M137.5 387.0h0M137.7 387.0h0M137.9 387.0h0M138.2 387.1h0M138.4 387.1h0M138.6 387.1h0M138.8 387.1h0M139.0 387.1h0M139.3 387.2h0M139.5 387.2h0M139.7 387.2h0M139.9 387.2h0M140.1 387.3h0M140.4 387.3h0M140.6 387.2h0M140.8 387.2h0M141.0 387.2h0M141.2 387.2h0M141.5 387.1h0M141.7 387.1h0M141.9 387.1h0M142.1 387.1h0M142.3 387.1h0M142.6 387.1h0M142.8 387.2h0M143.0 387.2h0M143.2 387.2h0M143.4 387.3h0M143.7 387.3h0M143.9 387.3h0M144.1 387.3h0M144.3 387.3h0M144.5 387.3h0M144.8 387.3h0M145.0 387.3h0M145.2 387.3h0M145.4 387.3h0M145.6 387.2h0M145.9 387.2h0M146.1 387.2h0M146.3 387.1h0M146.5 387.1h0M146.7 387.1h0M147.0 387.0h0M147.2 387.0h0M147.4 387.0h0M147.6 387.0h0M147.8 387.0h0M148.1 387.0h0M148.3 387.0h0M148.5 387.0h0M148.7 386.9h0M148.9 386.9h0M149.2 386.9h0M149.4 386.9h0M149.6 386.9h0M149.8 386.9h0M150.0 386.9h0M150.3 386.9h0M150.5 386.9h0M150.7 386.9h0M150.9 386.9h0M151.1 386.9h0M151.4 386.9h0M151.6 387.0h0M151.8 387.0h0M152.0 387.0h0M152.2 387.1h0M152.5 387.1h0M152.7 387.2h0M152.9 387.2h0M153.1 387.2h0M153.3 387.3h0M153.6 387.3h0M153.8 387.3h0M154.0 387.3h0M154.2 387.3h0M154.4 387.2h0M154.7 387.2h0M154.9 387.1h0M155.1 387.0h0M155.3 387.0h0M155.5 386.9h0M155.8 386.8h0M156.0 386.7h0M156.2 386.7h0M156.4 386.7h0M156.6 386.6h0M156.9 386.6h0M157.1 386.6h0M157.3 386.7h0M157.5 386.7h0M157.7 386.8h0M158.0 386.8h0M158.2 386.9h0M158.4 387.0h0M158.6 387.1h0M158.8 387.2h0M159.1 387.3h0M159.3 387.4h0M159.5 387.6h0M159.7 387.7h0M159.9 387.7h0M160.2 387.8h0M160.4 387.9h0M160.6 387.9h0M160.8 388.0h0M161.0 388.0h0M161.3 388.0h0M161.5 388.0h0M161.7 388.0h0M161.9 388.0h0M162.1 388.0h0M162.4 388.0h0M162.6 388.0h0M162.8 388.0h0M163.0 388.1h0M163.2 388.1h0M163.5 388.1h0M163.7 388.1h0M163.9 388.1h0M164.1 388.1h0M164.3 388.0h0M164.6 388.0h0M164.8 387.9h0M165.0 387.9h0M165.2 387.8h0M165.4 387.8h0M165.7 387.8h0M165.9 387.8h0M166.1 387.9h0M166.3 387.9h0M166.5 388.0h0M166.8 388.0h0M167.0 388.1h0M167.2 388.1h0M167.4 388.1h0M167.6 388.2h0M167.9 388.2h0M168.1 388.2h0M168.3 388.3h0M168.5 388.3h0M168.7 388.4h0M169.0 388.4h0M169.2 388.5h0M169.4 388.5h0M169.6 388.5h0M169.8 388.5h0M170.1 388.5h0M170.3 388.5h0M170.5 388.5h0M170.7 388.5h0M170.9 388.4h0M171.2 388.4h0M171.4 388.4h0M171.6 388.4h0M171.8 388.3h0M172.0 388.3h0M172.3 388.2h0M172.5 388.2h0M172.7 388.1h0M172.9 388.1h0M173.1 388.0h0M173.4 388.0h0M173.6 388.0h0M173.8 388.0h0M174.0 388.0h0M174.2 388.0h0M174.5 388.0h0M174.7 388.0h0M174.9 388.0h0M175.1 388.0h0M175.3 388.0h0M175.6 387.9h0M175.8 387.9h0M176.0 387.9h0M176.2 387.9h0M176.4 387.9h0M176.7 387.9h0M176.9 387.9h0M177.1 387.9h0M177.3 388.0h0M177.5 388.0h0M177.8 388.0h0M178.0 388.1h0M178.2 388.1h0M178.4 388.1h0M178.6 388.1h0M178.9 388.2h0M179.1 388.2h0M179.3 388.2h0M179.5 388.2h0M179.7 388.3h0M180.0 388.3h0M180.2 388.3h0M180.4 388.3h0M180.6 388.3h0M180.8 388.3h0M181.1 388.3h0M181.3 388.3h0M181.5 388.3h0M181.7 388.3h0M181.9 388.3h0M182.2 388.3h0M182.4 388.3h0M182.6 388.3h0M182.8 388.3h0M183.0 388.3h0M183.3 388.3h0M183.5 388.3h0M183.7 388.3h0M183.9 388.2h0M184.1 388.2h0M184.4 388.2h0M184.6 388.2h0M184.8 388.2h0M185.0 388.2h0M185.2 388.2h0M185.5 388.2h0M185.7 388.1h0M185.9 388.1h0M186.1 388.1h0M186.3 388.1h0M186.6 388.1h0M186.8 388.1h0M187.0 388.1h0M187.2 388.1h0M187.4 388.2h0M187.7 388.2h0M187.9 388.3h0M188.1 388.4h0M188.3 388.4h0M188.5 388.5h0M188.8 388.6h0M189.0 388.6h0M189.2 388.7h0M189.4 388.7h0M189.6 388.7h0M189.9 388.8h0M190.1 388.8h0M190.3 388.8h0M190.5 388.8h0M190.7 388.8h0M191.0 388.8h0M191.2 388.8h0M191.4 388.7h0M191.6 388.7h0M191.8 388.6h0M192.1 388.6h0M192.3 388.5h0M192.5 388.4h0M192.7 388.3h0M192.9 388.2h0M193.2 388.1h0M193.4 388.0h0M193.6 388.0h0M193.8 387.9h0M194.0 387.9h0M194.3 387.9h0M194.5 387.9h0M194.7 387.9h0M194.9 387.9h0M195.1 388.0h0M195.4 388.0h0M195.6 388.1h0M195.8 388.2h0M196.0 388.2h0M196.2 388.3h0M196.5 388.3h0M196.7 388.4h0M196.9 388.4h0M197.1 388.4h0M197.3 388.4h0M197.6 388.4h0M197.8 388.5h0M198.0 388.5h0M198.2 388.4h0M198.4 388.4h0M198.7 388.4h0M198.9 388.4h0M199.1 388.3h0M199.3 388.3h0M199.5 388.3h0M199.8 388.3h0M200.0 388.3h0M200.2 388.3h0M200.4 388.3h0M200.6 388.3h0M200.9 388.3h0M201.1 388.4h0M201.3 388.4h0M201.5 388.5h0M201.7 388.5h0M202.0 388.6h0M202.2 388.6h0M202.4 388.6h0M202.6 388.6h0M202.8 388.6h0M203.1 388.6h0M203.3 388.6h0M203.5 388.6h0M203.7 388.5h0M203.9 388.5h0M204.2 388.5h0M204.4 388.4h0M204.6 388.3h0M204.8 388.3h0M205.0 388.2h0M205.3 388.1h0M205.5 388.1h0M205.7 388.0h0M205.9 388.0h0M206.1 387.7h0M206.4 386.7h0M206.6 384.8h0M206.8 382.0h0M207.0 378.5h0M207.2 374.2h0M207.5 369.0h0M207.7 361.9h0M207.9 354.2h0M208.1 343.3h0M208.3 331.5h0M208.6 318.3h0M208.8 302.6h0M209.0 285.9h0M209.2 271.2h0M209.4 257.0h0M209.7 244.4h0M209.9 233.7h0M210.1 223.3h0M210.3 213.2h0M210.5 209.1h0M210.8 216.5h0M211.0 226.9h0M211.2 237.3h0M211.4 248.5h0M211.6 261.8h0M211.9 276.0h0M212.1 291.0h0M212.3 308.7h0M212.5 322.6h0M212.7 335.4h0M213.0 346.6h0M213.2 356.4h0M213.4 363.5h0M213.6 369.6h0M213.8 374.1h0M214.1 377.6h0M214.3 380.3h0M214.5 382.0h0M214.7 382.5h0M214.9 382.0h0M215.2 380.7h0M215.4 379.3h0M215.6 377.8h0M215.8 376.4h0M216.0 374.9h0M216.3 373.2h0M216.5 371.2h0M216.7 368.9h0M216.9 366.2h0M217.1 363.4h0M217.4 360.5h0M217.6 357.1h0M217.8 353.0h0M218.0 349.5h0M218.2 346.2h0M218.5 342.9h0M218.7 339.9h0M218.9 337.3h0M219.1 336.4h0M219.3 336.5h0M219.6 336.7h0M219.8 336.7h0M220.0 336.8h0M220.2 336.8h0M220.4 339.5h0M220.7 342.5h0M220.9 345.9h0M221.1 349.7h0M221.3 353.6h0M221.5 357.7h0M221.8 362.5h0M222.0 366.2h0M222.2 369.7h0M222.4 372.9h0M222.6 375.8h0M222.9 378.2h0M223.1 380.2h0M223.3 382.0h0M223.5 383.4h0M223.7 384.6h0M224.0 385.6h0M224.2 386.4h0M224.4 387.1h0M224.6 387.5h0M224.8 387.7h0M225.1 387.8h0M225.3 387.8h0M225.5 387.8h0M225.7 387.8h0M225.9 387.8h0M226.2 387.8h0M226.4 387.9h0M226.6 387.9h0M226.8 388.0h0M227.0 388.1h0M227.3 388.1h0M227.5 388.2h0M227.7 388.3h0M227.9 388.3h0M228.1 388.4h0M228.4 388.4h0M228.6 388.5h0M228.8 388.5h0M229.0 388.5h0M229.2 388.5h0M229.5 388.5h0M229.7 388.5h0M229.9 388.5h0M230.1 388.5h0M230.3 388.4h0M230.6 388.4h0M230.8 388.4h0M231.0 388.4h0M231.2 388.4h0M231.4 388.4h0M231.7 388.3h0M231.9 388.3h0M232.1 388.2h0M232.3 388.2h0M232.5 388.2h0M232.8 388.1h0M233.0 388.1h0M233.2 388.1h0M233.4 388.1h0M233.6 388.2h0M233.9 388.2h0M234.1 388.2h0M234.3 388.3h0M234.5 388.3h0M234.7 388.4h0M235.0 388.4h0M235.2 388.4h0M235.4 388.4h0M235.6 388.4h0M235.8 388.4h0M236.1 388.4h0M236.3 388.4h0M236.5 388.4h0M236.7 388.4h0M236.9 388.4h0M237.2 388.5h0M237.4 388.5h0M237.6 388.5h0M237.8 388.5h0M238.0 388.5h0M238.3 388.5h0M238.5 388.5h0M238.7 388.4h0M238.9 388.4h0M239.1 388.4h0M239.4 388.4h0M239.6 388.4h0M239.8 388.3h0M240.0 388.3h0M240.2 388.3h0M240.5 388.4h0M240.7 388.4h0M240.9 388.4h0M241.1 388.4h0M241.3 388.4h0M241.6 388.4h0M241.8 388.4h0M242.0 388.4h0M242.2 388.4h0M242.4 388.4h0M242.7 388.4h0M242.9 388.4h0M243.1 388.3h0M243.3 388.3h0M243.5 388.2h0M243.8 388.1h0M244.0 388.0h0M244.2 387.9h0M244.4 387.8h0M244.6 387.6h0M244.9 387.4h0M245.1 387.2h0M245.3 386.9h0M245.5 386.6h0M245.7 386.4h0M246.0 386.0h0M246.2 385.7h0M246.4 385.3h0M246.6 384.9h0M246.8 384.5h0M247.1 383.3h0M247.3 381.3h0M247.5 378.2h0M247.7 374.1h0M247.9 369.3h0M248.2 363.7h0M248.4 357.1h0M248.6 349.1h0M248.8 339.7h0M249.0 329.1h0M249.3 315.2h0M249.5 300.6h0M249.7 284.2h0M249.9 267.1h0M250.1 244.5h0M250.4 224.9h0M250.6 206.8h0M250.8 189.0h0M251.0 173.0h0M251.2 159.0h0M251.5 146.0h0M251.7 133.1h0M251.9 121.8h0M252.1 117.7h0M252.3 126.5h0M252.6 139.3h0M252.8 152.1h0M253.0 164.9h0M253.2 179.8h0M253.4 196.9h0M253.7 214.6h0M253.9 233.3h0M254.1 254.5h0M254.3 274.1h0M254.5 290.7h0M254.8 306.1h0M255.0 320.2h0M255.2 332.8h0M255.4 342.1h0M255.6 351.1h0M255.9 357.9h0M256.1 363.8h0M256.3 368.8h0M256.5 373.1h0M256.7 376.4h0M257.0 378.8h0M257.2 380.2h0M257.4 380.9h0M257.6 381.2h0M257.8 381.4h0M258.1 381.7h0M258.3 382.0h0M258.5 382.2h0M258.7 382.5h0M258.9 382.7h0M259.2 383.0h0M259.4 383.3h0M259.6 383.5h0M259.8 383.8h0M260.0 384.0h0M260.3 384.2h0M260.5 384.5h0M260.7 384.7h0M260.9 385.0h0M261.1 385.2h0M261.4 385.5h0M261.6 385.7h0M261.8 385.9h0M262.0 386.1h0M262.2 386.3h0M262.5 386.5h0M262.7 386.6h0M262.9 386.8h0M263.1 386.9h0M263.3 387.0h0M263.6 387.1h0M263.8 387.3h0M264.0 387.4h0M264.2 387.5h0M264.4 387.7h0M264.7 387.8h0M264.9 387.9h0M265.1 388.0h0M265.3 388.1h0M265.5 388.2h0M265.8 388.3h0M266.0 388.4h0M266.2 388.4h0M266.4 388.5h0M266.6 388.5h0M266.9 388.5h0M267.1 388.5h0M267.3 388.5h0M267.5 388.5h0M267.7 388.5h0M268.0 388.5h0M268.2 388.5h0M268.4 388.5h0M268.6 388.5h0M268.8 388.5h0M269.1 388.2h0M269.3 387.7h0M269.5 386.9h0M269.7 385.9h0M269.9 384.6h0M270.2 383.1h0M270.4 381.2h0M270.6 378.9h0M270.8 376.2h0M271.0 372.6h0M271.3 368.7h0M271.5 364.4h0M271.7 359.5h0M271.9 353.8h0M272.1 348.9h0M272.4 344.2h0M272.6 339.7h0M272.8 335.8h0M273.0 332.3h0M273.2 332.2h0M273.5 332.0h0M273.7 331.8h0M273.9 331.6h0M274.1 331.4h0M274.3 331.8h0M274.6 334.4h0M274.8 337.2h0M275.0 340.4h0M275.2 344.0h0M275.4 347.7h0M275.7 351.6h0M275.9 356.2h0M276.1 360.3h0M276.3 363.8h0M276.5 367.2h0M276.8 370.3h0M277.0 373.2h0M277.2 375.4h0M277.4 377.5h0M277.6 379.3h0M277.9 380.8h0M278.1 382.1h0M278.3 383.2h0M278.5 384.2h0M278.7 385.0h0M279.0 385.6h0M279.2 386.1h0M279.4 386.4h0M279.6 386.6h0M279.8 386.8h0M280.1 387.0h0M280.3 387.1h0M280.5 387.3h0M280.7 387.5h0M280.9 387.6h0M281.2 387.8h0M281.4 388.0h0M281.6 388.1h0M281.8 388.3h0M282.0 388.4h0M282.3 388.5h0M282.5 388.6h0M282.7 388.7h0M282.9 388.8h0M283.1 388.8h0M283.4 388.8h0M283.6 388.8h0M283.8 388.8h0M284.0 388.7h0M284.2 388.7h0M284.5 388.6h0M284.7 388.5h0M284.9 388.5h0M285.1 388.5h0M285.3 388.4h0M285.6 388.4h0M285.8 388.5h0M286.0 388.5h0M286.2 388.5h0M286.4 388.5h0M286.7 388.6h0M286.9 388.6h0M287.1 388.6h0M287.3 388.6h0M287.5 388.6h0M287.8 388.5h0M288.0 388.5h0M288.2 388.5h0M288.4 388.4h0M288.6 388.4h0M288.9 388.4h0M289.1 388.3h0M289.3 388.3h0M289.5 388.3h0M289.7 388.3h0M290.0 388.4h0M290.2 388.4h0M290.4 388.4h0M290.6 388.5h0M290.8 388.5h0M291.1 388.6h0M291.3 388.6h0M291.5 388.6h0M291.7 388.6h0M291.9 388.6h0M292.2 388.6h0M292.4 388.5h0M292.6 388.5h0M292.8 388.5h0M293.0 388.4h0M293.3 388.4h0M293.5 388.4h0M293.7 388.5h0M293.9 388.5h0M294.1 388.6h0M294.4 388.6h0M294.6 388.7h0M294.8 388.7h0M295.0 388.7h0M295.2 388.8h0M295.5 388.8h0M295.7 388.8h0M295.9 388.8h0M296.1 388.8h0M296.3 388.8h0M296.6 388.8h0M296.8 388.8h0M297.0 388.8h0M297.2 388.8h0M297.4 388.8h0M297.7 388.9h0M297.9 388.9h0M298.1 389.0h0M298.3 389.0h0M298.5 389.1h0M298.8 389.2h0M299.0 389.2h0M299.2 389.2h0M299.4 389.3h0M299.6 389.3h0M299.9 389.3h0M300.1 389.2h0M300.3 389.2h0M300.5 389.1h0M300.7 389.0h0M301.0 388.9h0M301.2 388.9h0M301.4 388.8h0M301.6 388.7h0M301.8 388.6h0M302.1 388.6h0M302.3 388.6h0M302.5 388.5h0M302.7 388.5h0M302.9 388.5h0M303.2 388.5h0M303.4 388.5h0M303.6 388.6h0M303.8 388.6h0M304.0 388.6h0M304.3 388.6h0M304.5 388.6h0M304.7 388.6h0M304.9 388.5h0M305.1 388.5h0M305.4 388.5h0M305.6 388.5h0M305.8 388.4h0M306.0 388.4h0M306.2 388.4h0M306.5 388.4h0M306.7 388.4h0M306.9 388.4h0M307.1 388.5h0M307.3 388.6h0M307.6 388.6h0M307.8 388.7h0M308.0 388.7h0M308.2 388.8h0M308.4 388.8h0M308.7 388.8h0M308.9 388.9h0M309.1 388.9h0M309.3 388.9h0M309.5 388.9h0M309.8 388.9h0M310.0 388.8h0M310.2 388.8h0M310.4 388.8h0M310.6 388.8h0M310.9 388.7h0M311.1 388.7h0M311.3 388.7h0M311.5 388.7h0M311.7 388.7h0M312.0 388.6h0M312.2 388.6h0M312.4 388.6h0M312.6 388.6h0M312.8 388.6h0M313.1 388.6h0M313.3 388.7h0M313.5 388.7h0M313.7 388.7h0M313.9 388.8h0M314.2 388.8h0M314.4 388.9h0M314.6 388.9h0M314.8 389.0h0M315.0 389.0h0M315.3 389.0h0M315.5 389.1h0M315.7 389.1h0M315.9 389.1h0M316.1 389.1h0M316.4 389.1h0M316.6 389.1h0M316.8 389.2h0M317.0 389.2h0M317.2 389.2h0M317.5 389.3h0M317.7 389.3h0M317.9 389.3h0M318.1 389.3h0M318.3 389.3h0M318.6 389.3h0M318.8 389.3h0M319.0 389.3h0M319.2 389.3h0M319.4 389.2h0M319.7 389.2h0M319.9 389.1h0M320.1 389.1h0M320.3 388.9h0M320.5 388.6h0M320.8 387.9h0M321.0 387.0h0M321.2 385.7h0M321.4 384.2h0M321.6 382.4h0M321.9 380.3h0M322.1 377.6h0M322.3 374.6h0M322.5 370.5h0M322.7 366.2h0M323.0 361.4h0M323.2 356.0h0M323.4 349.6h0M323.6 344.2h0M323.8 339.0h0M324.1 334.0h0M324.3 329.7h0M324.5 327.8h0M324.7 327.8h0M324.9 327.9h0M325.2 327.9h0M325.4 327.9h0M325.6 327.9h0M325.8 327.9h0M326.0 331.3h0M326.3 335.5h0M326.5 340.5h0M326.7 345.5h0M326.9 350.8h0M327.1 357.1h0M327.4 362.2h0M327.6 366.8h0M327.8 371.0h0M328.0 374.9h0M328.2 378.0h0M328.5 380.6h0M328.7 382.8h0M328.9 384.6h0M329.1 386.0h0M329.3 387.3h0M329.6 388.2h0M329.8 388.9h0M330.0 389.3h0M330.2 389.4h0M330.4 389.4h0M330.7 389.4h0M330.9 389.4h0M331.1 389.3h0M331.3 389.3h0M331.5 389.3h0M331.8 389.3h0M332.0 389.3h0M332.2 389.3h0M332.4 389.3h0M332.6 389.3h0M332.9 389.3h0M333.1 389.3h0M333.3 389.3h0M333.5 389.3h0M333.7 389.2h0M334.0 389.2h0M334.2 389.1h0M334.4 389.1h0M334.6 389.0h0M334.8 389.0h0M335.1 389.0h0M335.3 389.0h0M335.5 389.0h0M335.7 389.1h0M335.9 389.1h0M336.2 389.2h0M336.4 389.2h0M336.6 389.3h0M336.8 389.4h0M337.0 389.4h0M337.3 389.5h0M337.5 389.5h0M337.7 389.5h0M337.9 389.5h0M338.1 389.5h0M338.4 389.5h0M338.6 389.5h0M338.8 389.5h0M339.0 389.4h0M339.2 389.4h0M339.5 389.4h0M339.7 389.4h0M339.9 389.4h0M340.1 389.4h0M340.3 389.4h0M340.6 389.4h0M340.8 389.4h0M341.0 389.5h0M341.2 389.5h0M341.4 389.5h0M341.7 389.5h0M341.9 389.5h0M342.1 389.4h0M342.3 389.4h0M342.5 389.4h0M342.8 389.4h0M343.0 389.4h0M343.2 389.4h0M343.4 389.3h0M343.6 389.3h0M343.9 389.3h0M344.1 389.3h0M344.3 389.3h0M344.5 389.3h0M344.7 389.3h0M345.0 389.3h0M345.2 389.4h0M345.4 389.4h0M345.6 389.4h0M345.8 389.5h0M346.1 389.5h0M346.3 389.5h0M346.5 389.5h0M346.7 389.3h0M346.9 389.1h0M347.2 388.9h0M347.4 388.7h0M347.6 388.5h0M347.8 388.4h0M348.0 388.2h0M348.3 388.0h0M348.5 387.9h0M348.7 387.7h0M348.9 387.6h0M349.1 387.4h0M349.4 387.3h0M349.6 386.6h0M349.8 385.1h0M350.0 383.6h0M350.2 382.1h0M350.5 377.1h0M350.7 371.9h0M350.9 366.6h0M351.1 360.5h0M351.3 353.5h0M351.6 346.5h0M351.8 339.6h0M352.0 332.6h0M352.2 328.5h0M352.4 324.3h0M352.7 320.1h0M352.9 315.9h0M353.1 311.2h0M353.3 305.9h0M353.5 300.7h0M353.8 296.5h0M354.0 292.3h0M354.2 288.2h0M354.4 284.1h0M354.6 280.0h0M354.9 275.9h0M355.1 272.5h0M355.3 269.5h0M355.5 267.8h0M355.7 266.2h0M356.0 264.9h0M356.2 264.5h0M356.4 264.1h0M356.6 264.1h0M356.8 264.6h0M357.1 265.0h0M357.3 266.2h0M357.5 267.8h0M357.7 269.4h0M357.9 271.9h0M358.2 275.1h0M358.4 278.8h0M358.6 282.7h0M358.8 286.7h0M359.0 290.7h0M359.3 294.6h0M359.5 298.6h0M359.7 302.9h0M359.9 307.9h0M360.1 312.8h0M360.4 317.1h0M360.6 320.9h0M360.8 324.8h0M361.0 328.6h0M361.2 332.5h0M361.5 338.5h0M361.7 345.0h0M361.9 351.4h0M362.1 357.8h0M362.3 364.2h0M362.6 369.1h0M362.8 373.9h0M363.0 378.8h0M363.2 382.1h0M363.4 383.5h0M363.7 385.0h0M363.9 386.4h0M364.1 386.8h0M364.3 387.0h0M364.5 387.2h0M364.8 387.3h0M365.0 387.5h0M365.2 387.7h0M365.4 387.8h0M365.6 388.0h0M365.9 388.1h0M366.1 388.3h0M366.3 388.5h0M366.5 388.7h0M366.7 388.9h0M367.0 389.1h0M367.2 389.3h0M367.4 389.4h0M367.6 389.5h0M367.8 389.5h0M368.1 389.6h0M368.3 389.6h0M368.5 389.5h0M368.7 389.1h0M368.9 388.4h0M369.2 387.3h0M369.4 385.9h0M369.6 384.2h0M369.8 382.3h0M370.0 380.0h0M370.3 377.0h0M370.5 374.0h0M370.7 369.6h0M370.9 364.9h0M371.1 359.6h0M371.4 354.0h0M371.6 346.9h0M371.8 340.1h0M372.0 334.0h0M372.2 328.0h0M372.5 322.5h0M372.7 317.7h0M372.9 316.1h0M373.1 316.0h0M373.3 315.9h0M373.6 315.8h0M373.8 315.7h0M374.0 315.6h0M374.2 315.6h0M374.4 317.1h0M374.7 321.2h0M374.9 325.8h0M375.1 330.9h0M375.3 336.2h0M375.5 341.7h0M375.8 348.1h0M376.0 354.0h0M376.2 358.9h0M376.4 363.7h0M376.6 367.9h0M376.9 371.9h0M377.1 375.1h0M377.3 377.8h0M377.5 380.3h0M377.7 382.3h0M378.0 384.0h0M378.2 385.4h0M378.4 386.7h0M378.6 387.7h0M378.8 388.5h0M379.1 389.0h0M379.3 389.2h0M379.5 389.3h0M379.7 389.3h0M379.9 389.3h0M380.2 389.3h0M380.4 389.3h0M380.6 389.3h0M380.8 389.3h0M381.0 389.3h0M381.3 389.4h0M381.5 389.4h0M381.7 389.5h0M381.9 389.5h0M382.1 389.5h0M382.4 389.6h0M382.6 389.6h0M382.8 389.6h0M383.0 389.5h0M383.2 389.5h0M383.5 389.5h0M383.7 389.4h0M383.9 389.3h0M384.1 389.3h0M384.3 389.2h0M384.6 389.2h0M384.8 389.1h0M385.0 389.1h0M385.2 389.1h0M385.4 389.1h0M385.7 389.1h0M385.9 389.1h0M386.1 389.2h0M386.3 389.3h0M386.5 389.4h0M386.8 389.5h0M387.0 389.5h0M387.2 389.6h0M387.4 389.7h0M387.6 389.7h0M387.9 389.8h0M388.1 389.8h0M388.3 389.9h0M388.5 389.9h0M388.7 389.9h0M389.0 389.9h0M389.2 389.9h0M389.4 389.9h0M389.6 389.9h0M389.8 389.9h0M390.1 389.8h0M390.3 389.8h0M390.5 389.7h0M390.7 389.7h0M390.9 389.7h0M391.2 389.6h0M391.4 389.6h0M391.6 389.6h0M391.8 389.6h0M392.0 389.6h0M392.3 389.6h0M392.5 389.7h0M392.7 389.7h0M392.9 389.7h0M393.1 389.7h0M393.4 389.7h0M393.6 389.7h0M393.8 389.7h0M394.0 389.8h0M394.2 389.8h0M394.5 389.9h0M394.7 390.0h0M394.9 390.0h0M395.1 390.1h0M395.3 390.2h0M395.6 390.3h0M395.8 390.4h0M396.0 390.5h0M396.2 390.5h0M396.4 390.6h0M396.7 390.5h0M396.9 390.5h0M397.1 390.4h0M397.3 390.4h0M397.5 390.3h0M397.8 390.1h0M398.0 390.0h0M398.2 389.9h0M398.4 389.9h0M398.6 389.8h0M398.9 389.7h0M399.1 389.7h0M399.3 389.6h0M399.5 389.6h0M399.7 389.6h0M400.0 389.6h0M400.2 389.6h0M400.4 389.6h0M400.6 389.6h0M400.8 389.6h0M401.1 389.6h0M401.3 389.6h0M401.5 389.6h0M401.7 389.6h0M401.9 389.6h0M402.2 389.7h0M402.4 389.7h0M402.6 389.7h0M402.8 389.8h0M403.0 389.8h0M403.3 389.8h0M403.5 389.9h0M403.7 389.9h0M403.9 390.0h0M404.1 390.0h0M404.4 390.0h0M404.6 390.0h0M404.8 390.0h0M405.0 390.0h0M405.2 390.0h0M405.5 390.0h0M405.7 389.9h0M405.9 389.9h0M406.1 389.9h0M406.3 389.9h0M406.6 389.9h0M406.8 389.9h0M407.0 389.9h0M407.2 389.9h0M407.4 389.8h0M407.7 389.8h0M407.9 389.8h0M408.1 389.7h0M408.3 389.6h0M408.5 389.5h0M408.8 389.3h0M409.0 389.1h0M409.2 388.8h0M409.4 388.4h0M409.6 387.9h0M409.9 387.3h0M410.1 386.5h0M410.3 385.6h0M410.5 384.6h0M410.7 383.4h0M411.0 382.0h0M411.2 380.5h0M411.4 378.8h0M411.6 377.0h0M411.8 375.1h0M412.1 373.1h0M412.3 371.1h0M412.5 369.0h0M412.7 367.0h0M412.9 364.9h0M413.2 363.0h0M413.4 361.1h0M413.6 359.4h0M413.8 357.7h0M414.0 356.3h0M414.3 355.0h0M414.5 353.9h0M414.7 353.0h0M414.9 352.2h0M415.1 351.6h0M415.4 351.2h0M415.6 350.9h0M415.8 350.7h0M416.0 350.5h0M416.2 350.5h0M416.5 350.5h0M416.7 350.5h0M416.9 350.6h0M417.1 350.7h0M417.3 351.0h0M417.6 351.5h0M417.8 352.2h0M418.0 353.1h0M418.2 354.3h0M418.4 355.8h0M418.7 357.5h0M418.9 359.5h0M419.1 361.7h0M419.3 364.1h0M419.5 366.6h0M419.8 369.1h0M420.0 371.7h0M420.2 374.3h0M420.4 376.7h0M420.6 379.0h0M420.9 381.0h0M421.1 382.9h0M421.3 384.4h0M421.5 385.8h0M421.7 386.9h0M422.0 387.7h0M422.2 388.4h0M422.4 388.9h0M422.6 389.3h0M422.8 389.6h0M423.1 389.8h0M423.3 389.9h0M423.5 390.0h0M423.7 390.1h0M423.9 390.1h0M424.2 390.1h0M424.4 390.1h0M424.6 390.1h0M424.8 390.1h0M425.0 390.1h0M425.3 390.1h0M425.5 390.1h0M425.7 390.1h0M425.9 390.1h0M426.1 390.0h0M426.4 389.8h0M426.6 389.6h0M426.8 389.4h0M427.0 389.0h0M427.2 388.5h0M427.5 388.0h0M427.7 387.4h0M427.9 386.7h0M428.1 386.0h0M428.3 385.3h0M428.6 384.6h0M428.8 383.9h0M429.0 383.4h0M429.2 382.9h0M429.4 382.5h0M429.7 382.2h0M429.9 382.0h0M430.1 381.8h0M430.3 381.7h0M430.5 381.7h0M430.8 381.7h0M431.0 381.7h0M431.2 381.9h0M431.4 382.2h0M431.6 382.5h0M431.9 382.9h0M432.1 383.2h0M432.3 383.6h0M432.5 383.8h0M432.7 384.1h0M433.0 384.3h0M433.2 384.4h0M433.4 384.5h0M433.6 384.7h0M433.8 384.8h0M434.1 384.9h0M434.3 384.9h0M434.5 384.8h0M434.7 384.6h0M434.9 384.0h0M435.2 382.7h0M435.4 380.7h0M435.6 377.6h0M435.8 373.5h0M436.0 368.7h0M436.3 363.6h0M436.5 358.7h0M436.7 354.4h0M436.9 351.1h0M437.1 348.8h0M437.4 347.5h0M437.6 346.9h0M437.8 346.8h0M438.0 346.8h0M438.2 347.0h0M438.5 347.8h0M438.7 349.3h0M438.9 351.9h0M439.1 355.6h0M439.3 360.3h0M439.6 365.6h0M439.8 371.2h0M440.0 376.4h0M440.2 380.8h0M440.4 384.3h0M440.7 386.6h0M440.9 388.1h0M441.1 388.8h0M441.3 389.1h0M441.5 389.0h0M441.8 388.7h0M442.0 388.1h0M442.2 387.2h0M442.4 386.0h0M442.6 384.6h0M442.9 382.9h0M443.1 381.1h0M443.3 379.4h0M443.5 378.0h0M443.7 376.9h0M444.0 376.0h0M444.2 375.4h0M444.4 374.9h0M444.6 374.2h0M444.8 373.6h0M445.1 373.1h0M445.3 372.6h0M445.5 372.2h0M445.7 371.9h0M445.9 371.6h0M446.2 371.4h0M446.4 371.2h0M446.6 371.1h0M446.8 371.0h0M447.0 370.9h0M447.3 370.9h0M447.5 370.8h0M447.7 370.9h0M447.9 370.9h0M448.1 371.0h0M448.4 371.1h0M448.6 371.2h0M448.8 371.3h0M449.0 371.5h0M449.2 371.7h0M449.5 372.0h0M449.7 372.4h0M449.9 372.9h0M450.1 373.5h0M450.3 374.2h0M450.6 374.9h0M450.8 375.7h0M451.0 376.5h0M451.2 377.3h0M451.4 378.0h0M451.7 378.7h0M451.9 379.3h0M452.1 379.9h0M452.3 380.3h0M452.5 380.7h0M452.8 381.0h0M453.0 381.2h0M453.2 381.4h0M453.4 381.6h0M453.6 381.7h0M453.9 381.9h0M454.1 382.1h0M454.3 382.3h0M454.5 382.5h0M454.7 382.8h0M455.0 383.1h0M455.2 383.5h0M455.4 383.9h0M455.6 384.4h0M455.8 384.9h0M456.1 385.4h0M456.3 385.8h0M456.5 386.3h0M456.7 386.7h0M456.9 387.1h0M457.2 387.5h0M457.4 387.8h0M457.6 388.1h0M457.8 388.4h0M458.0 388.6h0M458.3 388.8h0M458.5 389.0h0M458.7 389.2h0M458.9 389.3h0M459.1 389.4h0M459.4 389.5h0M459.6 389.5h0M459.8 389.5h0M460.0 389.5h0M460.2 389.5h0M460.5 389.5h0M460.7 389.5h0M460.9 389.5h0M461.1 389.6h0M461.3 389.6h0M461.6 389.7h0M461.8 389.8h0M462.0 389.8h0M462.2 389.9h0M462.4 390.0h0M462.7 390.0h0M462.9 390.1h0M463.1 390.1h0M463.3 390.1h0M463.5 390.1h0M463.8 390.1h0M464.0 390.0h0M464.2 390.0h0M464.4 389.9h0M464.6 389.8h0M464.9 389.8h0M465.1 389.7h0M465.3 389.6h0M465.5 389.6h0M465.7 389.5h0M466.0 389.5h0M466.2 389.5h0M466.4 389.6h0M466.6 389.6h0M466.8 389.6h0M467.1 389.6h0M467.3 389.7h0M467.5 389.7h0M467.7 389.7h0M467.9 389.7h0M468.2 389.8h0M468.4 389.8h0M468.6 389.8h0M468.8 389.8h0M469.0 389.9h0M469.3 389.9h0M469.5 389.9h0M469.7 389.9h0M469.9 390.0h0M470.1 390.0h0M470.4 390.0h0M470.6 390.1h0M470.8 390.1h0M471.0 390.1h0M471.2 390.2h0M471.5 390.2h0M471.7 390.2h0M471.9 390.2h0M472.1 390.2h0M472.3 390.2h0M472.6 390.1h0M472.8 390.1h0M473.0 390.0h0M473.2 390.0h0M473.4 390.0h0M473.7 389.9h0M473.9 389.9h0M474.1 389.9h0M474.3 390.0h0M474.5 390.0h0M474.8 390.0h0M475.0 390.1h0M475.2 390.1h0M475.4 390.1h0M475.6 390.2h0M475.9 390.2h0M476.1 390.2h0M476.3 390.2h0M476.5 390.2h0M476.7 390.3h0M477.0 390.3h0M477.2 390.3h0M477.4 390.3h0M477.6 390.4h0M477.8 390.4h0M478.1 390.5h0M478.3 390.5h0M478.5 390.6h0M478.7 390.6h0M478.9 390.7h0M479.2 390.7h0M479.4 390.8h0M479.6 390.8h0M479.8 390.8h0M480.0 390.8h0M480.3 390.7h0M480.5 390.7h0M480.7 390.6h0M480.9 390.4h0M481.1 390.1h0M481.4 389.6h0M481.6 389.0h0M481.8 388.1h0M482.0 386.9h0M482.2 385.5h0M482.5 383.8h0M482.7 381.9h0M482.9 379.8h0M483.1 377.6h0M483.3 375.4h0M483.6 373.3h0M483.8 371.4h0M484.0 369.7h0M484.2 368.3h0M484.4 367.2h0M484.7 366.4h0M484.9 366.0h0M485.1 365.8h0M485.3 365.7h0M485.5 365.7h0M485.8 365.8h0M486.0 366.1h0M486.2 366.6h0M486.4 367.3h0M486.6 368.3h0M486.9 369.6h0M487.1 371.1h0M487.3 372.8h0M487.5 374.6h0M487.7 376.5h0M488.0 378.5h0M488.2 380.3h0M488.4 382.1h0M488.6 383.8h0M488.8 385.2h0M489.1 386.5h0M489.3 387.6h0M489.5 388.5h0M489.7 389.2h0M489.9 389.7h0M490.2 390.2h0M490.4 390.5h0M490.6 390.7h0M490.8 390.8h0M491.0 390.9h0M491.3 390.9h0M491.5 390.9h0M491.7 390.9h0M491.9 390.9h0M492.1 390.8h0M492.4 390.8h0M492.6 390.7h0M492.8 390.7h0M493.0 390.7h0M493.2 390.6h0M493.5 390.6h0M493.7 390.6h0M493.9 390.6h0M494.1 390.6h0M494.3 390.6h0M494.6 390.6h0M494.8 390.7h0M495.0 390.7h0M495.2 390.8h0M495.4 390.8h0M495.7 390.9h0M495.9 391.0h0M496.1 391.0h0M496.3 391.0h0M496.5 391.0h0M496.8 391.0h0M497.0 391.0h0M497.2 391.0h0M497.4 391.0h0M497.6 390.9h0M497.9 390.9h0M498.1 390.9h0M498.3 390.9h0M498.5 391.0h0M498.7 391.0h0M499.0 391.0h0M499.2 391.0h0M499.4 391.0h0M499.6 391.0h0M499.8 391.0h0M500.1 390.9h0M500.3 390.9h0M500.5 390.8h0M500.7 390.8h0M500.9 390.7h0M501.2 390.7h0M501.4 390.6h0M501.6 390.4h0M501.8 390.2h0M502.0 389.8h0M502.3 389.3h0M502.5 388.6h0M502.7 387.6h0M502.9 386.3h0M503.1 384.8h0M503.4 383.1h0M503.6 381.2h0M503.8 379.3h0M504.0 377.4h0M504.2 375.6h0M504.5 374.0h0M504.7 372.6h0M504.9 371.5h0M505.1 370.7h0M505.3 370.1h0M505.6 369.8h0M505.8 369.7h0M506.0 369.6h0M506.2 369.6h0M506.4 369.7h0M506.7 369.7h0M506.9 369.8h0M507.1 370.0h0M507.3 370.3h0M507.5 370.7h0M507.8 371.3h0M508.0 372.1h0M508.2 373.0h0M508.4 374.1h0M508.6 375.4h0M508.9 376.8h0M509.1 378.3h0M509.3 379.8h0M509.5 381.3h0M509.7 382.7h0M510.0 384.1h0M510.2 385.3h0M510.4 386.3h0M510.6 387.2h0M510.8 387.9h0M511.1 388.4h0M511.3 388.8h0M511.5 389.0h0M511.7 389.2h0M511.9 389.2h0M512.2 389.2h0M512.4 389.2h0M512.6 389.1h0M512.8 388.9h0M513.0 388.7h0M513.3 388.5h0M513.5 388.3h0M513.7 388.1h0M513.9 387.8h0M514.1 387.6h0M514.4 387.3h0M514.6 387.1h0M514.8 386.9h0M515.0 386.8h0M515.2 386.7h0M515.5 386.6h0M515.7 386.6h0M515.9 386.6h0M516.1 386.6h0M516.3 386.7h0M516.6 386.8h0M516.8 386.9h0M517.0 387.1h0M517.2 387.3h0M517.4 387.4h0M517.7 387.6h0M517.9 387.9h0M518.1 388.1h0M518.3 388.3h0M518.5 388.4h0M518.8 388.6h0M519.0 388.8h0M519.2 389.0h0M519.4 389.1h0M519.6 389.2h0M519.9 389.4h0M520.1 389.5h0M520.3 389.5h0M520.5 389.6h0M520.7 389.7h0M521.0 389.7h0M521.2 389.8h0M521.4 389.8h0M521.6 389.9h0M521.8 389.9h0M522.1 390.0h0M522.3 390.0h0M522.5 390.1h0" fill="none" stroke="#93301c" stroke-width="5.5" stroke-linecap="round"/>
<path d="M72.6 389.3h0M72.8 389.2h0M73.0 389.1h0M73.3 388.9h0M73.5 388.8h0M73.7 388.6h0M73.9 388.5h0M74.1 388.4h0M74.4 388.3h0M74.6 388.2h0M74.8 388.1h0M75.0 388.1h0M75.2 388.0h0M75.5 387.9h0M75.7 387.8h0M75.9 387.7h0M76.1 387.6h0M76.3 387.5h0M76.6 387.4h0M76.8 387.4h0M77.0 387.3h0M77.2 387.3h0M77.4 387.2h0M77.7 387.2h0M77.9 387.2h0M78.1 387.2h0M78.3 387.2h0M78.5 387.2h0M78.8 387.1h0M79.0 387.1h0M79.2 387.1h0M79.4 387.0h0M79.6 386.9h0M79.9 386.9h0M80.1 386.8h0M80.3 386.8h0M80.5 386.7h0M80.7 386.7h0M81.0 386.7h0M81.2 386.7h0M81.4 386.7h0M81.6 386.7h0M81.8 386.7h0M82.1 386.8h0M82.3 386.8h0M82.5 386.9h0M82.7 386.9h0M82.9 387.0h0M83.2 387.1h0M83.4 387.2h0M83.6 387.3h0M83.8 387.4h0M84.0 387.4h0M84.3 387.5h0M84.5 387.5h0M84.7 387.5h0M84.9 387.5h0M85.1 387.4h0M85.4 387.4h0M85.6 387.5h0M85.8 387.5h0M86.0 387.5h0M86.2 387.5h0M86.5 387.6h0M86.7 387.6h0M86.9 387.6h0M87.1 387.7h0M87.3 387.7h0M87.6 387.7h0M87.8 387.8h0M88.0 387.8h0M88.2 387.8h0M88.4 387.8h0M88.7 387.8h0M88.9 387.8h0M89.1 387.8h0M89.3 387.7h0M89.5 387.7h0M89.8 387.6h0M90.0 387.5h0M90.2 387.5h0M90.4 387.4h0M90.6 387.3h0M90.9 387.2h0M91.1 387.2h0M91.3 387.1h0M91.5 387.0h0M91.7 387.0h0M92.0 386.9h0M92.2 386.9h0M92.4 386.9h0M92.6 387.0h0M92.8 387.0h0M93.1 387.1h0M93.3 387.2h0M93.5 387.3h0M93.7 387.3h0M93.9 387.4h0M94.2 387.5h0M94.4 387.5h0M94.6 387.6h0M94.8 387.6h0M95.0 387.6h0M95.3 387.6h0M95.5 387.6h0M95.7 387.6h0M95.9 387.5h0M96.1 387.5h0M96.4 387.5h0M96.6 387.5h0M96.8 387.5h0M97.0 387.5h0M97.2 387.5h0M97.5 387.5h0M97.7 387.5h0M97.9 387.5h0M98.1 387.5h0M98.3 387.5h0M98.6 387.4h0M98.8 387.4h0M99.0 387.4h0M99.2 387.3h0M99.4 387.3h0M99.7 387.3h0M99.9 387.3h0M100.1 387.3h0M100.3 387.3h0M100.5 387.4h0M100.8 387.4h0M101.0 387.4h0M101.2 387.4h0M101.4 387.4h0M101.6 387.4h0M101.9 387.4h0M102.1 387.4h0M102.3 387.4h0M102.5 387.3h0M102.7 387.3h0M103.0 387.3h0M103.2 387.3h0M103.4 387.3h0M103.6 387.3h0M103.8 387.4h0M104.1 387.4h0M104.3 387.4h0M104.5 387.4h0M104.7 387.4h0M104.9 387.3h0M105.2 387.3h0M105.4 387.3h0M105.6 387.2h0M105.8 387.2h0M106.0 387.1h0M106.3 386.4h0M106.5 385.0h0M106.7 382.6h0M106.9 379.2h0M107.1 375.1h0M107.4 370.2h0M107.6 364.4h0M107.8 356.6h0M108.0 348.6h0M108.2 337.0h0M108.5 324.5h0M108.7 310.3h0M108.9 295.4h0M109.1 275.7h0M109.3 258.4h0M109.6 242.4h0M109.8 226.7h0M110.0 213.1h0M110.2 201.3h0M110.4 189.8h0M110.7 178.3h0M110.9 170.8h0M111.1 176.6h0M111.3 187.8h0M111.5 199.3h0M111.8 210.8h0M112.0 224.1h0M112.2 239.5h0M112.4 255.3h0M112.6 272.1h0M112.9 291.9h0M113.1 307.3h0M113.3 321.7h0M113.5 334.4h0M113.7 346.4h0M114.0 354.8h0M114.2 362.8h0M114.4 368.9h0M114.6 374.0h0M114.8 378.3h0M115.1 381.9h0M115.3 384.6h0M115.5 386.2h0M115.7 387.0h0M115.9 387.2h0M116.2 387.3h0M116.4 387.3h0M116.6 387.4h0M116.8 387.4h0M117.0 387.5h0M117.3 387.6h0M117.5 387.6h0M117.7 387.6h0M117.9 387.7h0M118.1 387.7h0M118.4 387.7h0M118.6 387.7h0M118.8 387.7h0M119.0 387.6h0M119.2 387.6h0M119.5 387.6h0M119.7 387.5h0M119.9 387.5h0M120.1 387.4h0M120.3 387.4h0M120.6 387.3h0M120.8 387.3h0M121.0 387.2h0M121.2 387.2h0M121.4 387.1h0M121.7 387.1h0M121.9 387.1h0M122.1 387.1h0M122.3 387.0h0M122.5 387.0h0M122.8 387.0h0M123.0 387.0h0M123.2 387.1h0M123.4 387.0h0M123.6 387.0h0M123.9 387.0h0M124.1 387.0h0M124.3 387.0h0M124.5 386.9h0M124.7 386.9h0M125.0 386.9h0M125.2 386.9h0M125.4 386.9h0M125.6 386.9h0M125.8 386.9h0M126.1 386.9h0M126.3 386.9h0M126.5 386.9h0M126.7 386.8h0M126.9 386.7h0M127.2 386.6h0M127.4 386.5h0M127.6 386.4h0M127.8 386.3h0M128.0 386.2h0M128.3 386.1h0M128.5 386.1h0M128.7 386.1h0M128.9 386.2h0M129.1 386.3h0M129.4 386.3h0M129.6 386.4h0M129.8 386.5h0M130.0 386.6h0M130.2 386.6h0M130.5 386.7h0M130.7 386.7h0M130.9 386.7h0M131.1 386.7h0M131.3 386.8h0M131.6 386.8h0M131.8 386.8h0M132.0 386.9h0M132.2 386.9h0M132.4 386.9h0M132.7 387.0h0M132.9 387.0h0M133.1 387.0h0M133.3 387.0h0M133.5 387.1h0M133.8 387.1h0M134.0 387.2h0M134.2 387.3h0M134.4 387.3h0M134.6 387.4h0M134.9 387.5h0M135.1 387.5h0M135.3 387.6h0M135.5 387.6h0M135.7 387.6h0M136.0 387.5h0M136.2 387.4h0M136.4 387.4h0M136.6 387.3h0M136.8 387.2h0M137.1 387.1h0M137.3 387.1h0M137.5 387.0h0M137.7 387.0h0M137.9 387.0h0M138.2 387.1h0M138.4 387.1h0M138.6 387.1h0M138.8 387.1h0M139.0 387.1h0M139.3 387.2h0M139.5 387.2h0M139.7 387.2h0M139.9 387.2h0M140.1 387.3h0M140.4 387.3h0M140.6 387.2h0M140.8 387.2h0M141.0 387.2h0M141.2 387.2h0M141.5 387.1h0M141.7 387.1h0M141.9 387.1h0M142.1 387.1h0M142.3 387.1h0M142.6 387.1h0M142.8 387.2h0M143.0 387.2h0M143.2 387.2h0M143.4 387.3h0M143.7 387.3h0M143.9 387.3h0M144.1 387.3h0M144.3 387.3h0M144.5 387.3h0M144.8 387.3h0M145.0 387.3h0M145.2 387.3h0M145.4 387.3h0M145.6 387.2h0M145.9 387.2h0M146.1 387.2h0M146.3 387.1h0M146.5 387.1h0M146.7 387.1h0M147.0 387.0h0M147.2 387.0h0M147.4 387.0h0M147.6 387.0h0M147.8 387.0h0M148.1 387.0h0M148.3 387.0h0M148.5 387.0h0M148.7 386.9h0M148.9 386.9h0M149.2 386.9h0M149.4 386.9h0M149.6 386.9h0M149.8 386.9h0M150.0 386.9h0M150.3 386.9h0M150.5 386.9h0M150.7 386.9h0M150.9 386.9h0M151.1 386.9h0M151.4 386.9h0M151.6 387.0h0M151.8 387.0h0M152.0 387.0h0M152.2 387.1h0M152.5 387.1h0M152.7 387.2h0M152.9 387.2h0M153.1 387.2h0M153.3 387.3h0M153.6 387.3h0M153.8 387.3h0M154.0 387.3h0M154.2 387.3h0M154.4 387.2h0M154.7 387.2h0M154.9 387.1h0M155.1 387.0h0M155.3 387.0h0M155.5 386.9h0M155.8 386.8h0M156.0 386.7h0M156.2 386.7h0M156.4 386.7h0M156.6 386.6h0M156.9 386.6h0M157.1 386.6h0M157.3 386.7h0M157.5 386.7h0M157.7 386.8h0M158.0 386.8h0M158.2 386.9h0M158.4 387.0h0M158.6 387.1h0M158.8 387.2h0M159.1 387.3h0M159.3 387.4h0M159.5 387.6h0M159.7 387.7h0M159.9 387.7h0M160.2 387.8h0M160.4 387.9h0M160.6 387.9h0M160.8 388.0h0M161.0 388.0h0M161.3 388.0h0M161.5 388.0h0M161.7 388.0h0M161.9 388.0h0M162.1 388.0h0M162.4 388.0h0M162.6 388.0h0M162.8 388.0h0M163.0 388.1h0M163.2 388.1h0M163.5 388.1h0M163.7 388.1h0M163.9 388.1h0M164.1 388.1h0M164.3 388.0h0M164.6 388.0h0M164.8 387.9h0M165.0 387.9h0M165.2 387.8h0M165.4 387.8h0M165.7 387.8h0M165.9 387.8h0M166.1 387.9h0M166.3 387.9h0M166.5 388.0h0M166.8 388.0h0M167.0 388.1h0M167.2 388.1h0M167.4 388.1h0M167.6 388.2h0M167.9 388.2h0M168.1 388.2h0M168.3 388.3h0M168.5 388.3h0M168.7 388.4h0M169.0 388.4h0M169.2 388.5h0M169.4 388.5h0M169.6 388.5h0M169.8 388.5h0M170.1 388.5h0M170.3 388.5h0M170.5 388.5h0M170.7 388.5h0M170.9 388.4h0M171.2 388.4h0M171.4 388.4h0M171.6 388.4h0M171.8 388.3h0M172.0 388.3h0M172.3 388.2h0M172.5 388.2h0M172.7 388.1h0M172.9 388.1h0M173.1 388.0h0M173.4 388.0h0M173.6 388.0h0M173.8 388.0h0M174.0 388.0h0M174.2 388.0h0M174.5 388.0h0M174.7 388.0h0M174.9 388.0h0M175.1 388.0h0M175.3 388.0h0M175.6 387.9h0M175.8 387.9h0M176.0 387.9h0M176.2 387.9h0M176.4 387.9h0M176.7 387.9h0M176.9 387.9h0M177.1 387.9h0M177.3 388.0h0M177.5 388.0h0M177.8 388.0h0M178.0 388.1h0M178.2 388.1h0M178.4 388.1h0M178.6 388.1h0M178.9 388.2h0M179.1 388.2h0M179.3 388.2h0M179.5 388.2h0M179.7 388.3h0M180.0 388.3h0M180.2 388.3h0M180.4 388.3h0M180.6 388.3h0M180.8 388.3h0M181.1 388.3h0M181.3 388.3h0M181.5 388.3h0M181.7 388.3h0M181.9 388.3h0M182.2 388.3h0M182.4 388.3h0M182.6 388.3h0M182.8 388.3h0M183.0 388.3h0M183.3 388.3h0M183.5 388.3h0M183.7 388.3h0M183.9 388.2h0M184.1 388.2h0M184.4 388.2h0M184.6 388.2h0M184.8 388.2h0M185.0 388.2h0M185.2 388.2h0M185.5 388.2h0M185.7 388.1h0M185.9 388.1h0M186.1 388.1h0M186.3 388.1h0M186.6 388.1h0M186.8 388.1h0M187.0 388.1h0M187.2 388.1h0M187.4 388.2h0M187.7 388.2h0M187.9 388.3h0M188.1 388.4h0M188.3 388.4h0M188.5 388.5h0M188.8 388.6h0M189.0 388.6h0M189.2 388.7h0M189.4 388.7h0M189.6 388.7h0M189.9 388.8h0M190.1 388.8h0M190.3 388.8h0M190.5 388.8h0M190.7 388.8h0M191.0 388.8h0M191.2 388.8h0M191.4 388.7h0M191.6 388.7h0M191.8 388.6h0M192.1 388.6h0M192.3 388.5h0M192.5 388.4h0M192.7 388.3h0M192.9 388.2h0M193.2 388.1h0M193.4 388.0h0M193.6 388.0h0M193.8 387.9h0M194.0 387.9h0M194.3 387.9h0M194.5 387.9h0M194.7 387.9h0M194.9 387.9h0M195.1 388.0h0M195.4 388.0h0M195.6 388.1h0M195.8 388.2h0M196.0 388.2h0M196.2 388.3h0M196.5 388.3h0M196.7 388.4h0M196.9 388.4h0M197.1 388.4h0M197.3 388.4h0M197.6 388.4h0M197.8 388.5h0M198.0 388.5h0M198.2 388.4h0M198.4 388.4h0M198.7 388.4h0M198.9 388.4h0M199.1 388.3h0M199.3 388.3h0M199.5 388.3h0M199.8 388.3h0M200.0 388.3h0M200.2 388.3h0M200.4 388.3h0M200.6 388.3h0M200.9 388.3h0M201.1 388.4h0M201.3 388.4h0M201.5 388.5h0M201.7 388.5h0M202.0 388.6h0M202.2 388.6h0M202.4 388.6h0M202.6 388.6h0M202.8 388.6h0M203.1 388.6h0M203.3 388.6h0M203.5 388.6h0M203.7 388.5h0M203.9 388.5h0M204.2 388.5h0M204.4 388.4h0M204.6 388.3h0M204.8 388.3h0M205.0 388.2h0M205.3 388.1h0M205.5 388.1h0M205.7 388.0h0M205.9 388.0h0M206.1 387.7h0M206.4 386.7h0M206.6 384.8h0M206.8 382.0h0M207.0 378.5h0M207.2 374.2h0M207.5 369.0h0M207.7 361.9h0M207.9 354.2h0M208.1 343.3h0M208.3 331.5h0M208.6 318.3h0M208.8 302.6h0M209.0 285.9h0M209.2 271.2h0M209.4 257.0h0M209.7 244.4h0M209.9 233.7h0M210.1 223.3h0M210.3 213.2h0M210.5 209.1h0M210.8 216.5h0M211.0 226.9h0M211.2 237.3h0M211.4 248.5h0M211.6 261.8h0M211.9 276.0h0M212.1 291.0h0M212.3 308.7h0M212.5 322.6h0M212.7 335.4h0M213.0 346.6h0M213.2 356.4h0M213.4 363.5h0M213.6 369.6h0M213.8 374.1h0M214.1 377.6h0M214.3 380.3h0M214.5 382.0h0M214.7 382.5h0M214.9 382.0h0M215.2 380.7h0M215.4 379.3h0M215.6 377.8h0M215.8 376.4h0M216.0 374.9h0M216.3 373.2h0M216.5 371.2h0M216.7 368.9h0M216.9 366.2h0M217.1 363.4h0M217.4 360.5h0M217.6 357.1h0M217.8 353.0h0M218.0 349.5h0M218.2 346.2h0M218.5 342.9h0M218.7 339.9h0M218.9 337.3h0M219.1 336.4h0M219.3 336.5h0M219.6 336.7h0M219.8 336.7h0M220.0 336.8h0M220.2 336.8h0M220.4 339.5h0M220.7 342.5h0M220.9 345.9h0M221.1 349.7h0M221.3 353.6h0M221.5 357.7h0M221.8 362.5h0M222.0 366.2h0M222.2 369.7h0M222.4 372.9h0M222.6 375.8h0M222.9 378.2h0M223.1 380.2h0M223.3 382.0h0M223.5 383.4h0M223.7 384.6h0M224.0 385.6h0M224.2 386.4h0M224.4 387.1h0M224.6 387.5h0M224.8 387.7h0M225.1 387.8h0M225.3 387.8h0M225.5 387.8h0M225.7 387.8h0M225.9 387.8h0M226.2 387.8h0M226.4 387.9h0M226.6 387.9h0M226.8 388.0h0M227.0 388.1h0M227.3 388.1h0M227.5 388.2h0M227.7 388.3h0M227.9 388.3h0M228.1 388.4h0M228.4 388.4h0M228.6 388.5h0M228.8 388.5h0M229.0 388.5h0M229.2 388.5h0M229.5 388.5h0M229.7 388.5h0M229.9 388.5h0M230.1 388.5h0M230.3 388.4h0M230.6 388.4h0M230.8 388.4h0M231.0 388.4h0M231.2 388.4h0M231.4 388.4h0M231.7 388.3h0M231.9 388.3h0M232.1 388.2h0M232.3 388.2h0M232.5 388.2h0M232.8 388.1h0M233.0 388.1h0M233.2 388.1h0M233.4 388.1h0M233.6 388.2h0M233.9 388.2h0M234.1 388.2h0M234.3 388.3h0M234.5 388.3h0M234.7 388.4h0M235.0 388.4h0M235.2 388.4h0M235.4 388.4h0M235.6 388.4h0M235.8 388.4h0M236.1 388.4h0M236.3 388.4h0M236.5 388.4h0M236.7 388.4h0M236.9 388.4h0M237.2 388.5h0M237.4 388.5h0M237.6 388.5h0M237.8 388.5h0M238.0 388.5h0M238.3 388.5h0M238.5 388.5h0M238.7 388.4h0M238.9 388.4h0M239.1 388.4h0M239.4 388.4h0M239.6 388.4h0M239.8 388.3h0M240.0 388.3h0M240.2 388.3h0M240.5 388.4h0M240.7 388.4h0M240.9 388.4h0M241.1 388.4h0M241.3 388.4h0M241.6 388.4h0M241.8 388.4h0M242.0 388.4h0M242.2 388.4h0M242.4 388.4h0M242.7 388.4h0M242.9 388.4h0M243.1 388.3h0M243.3 388.3h0M243.5 388.2h0M243.8 388.1h0M244.0 388.0h0M244.2 387.9h0M244.4 387.8h0M244.6 387.6h0M244.9 387.4h0M245.1 387.2h0M245.3 386.9h0M245.5 386.6h0M245.7 386.4h0M246.0 386.0h0M246.2 385.7h0M246.4 385.3h0M246.6 384.9h0M246.8 384.5h0M247.1 383.3h0M247.3 381.3h0M247.5 378.2h0M247.7 374.1h0M247.9 369.3h0M248.2 363.7h0M248.4 357.1h0M248.6 349.1h0M248.8 339.7h0M249.0 329.1h0M249.3 315.2h0M249.5 300.6h0M249.7 284.2h0M249.9 267.1h0M250.1 244.5h0M250.4 224.9h0M250.6 206.8h0M250.8 189.0h0M251.0 173.0h0M251.2 159.0h0M251.5 146.0h0M251.7 133.1h0M251.9 121.8h0M252.1 117.7h0M252.3 126.5h0M252.6 139.3h0M252.8 152.1h0M253.0 164.9h0M253.2 179.8h0M253.4 196.9h0M253.7 214.6h0M253.9 233.3h0M254.1 254.5h0M254.3 274.1h0M254.5 290.7h0M254.8 306.1h0M255.0 320.2h0M255.2 332.8h0M255.4 342.1h0M255.6 351.1h0M255.9 357.9h0M256.1 363.8h0M256.3 368.8h0M256.5 373.1h0M256.7 376.4h0M257.0 378.8h0M257.2 380.2h0M257.4 380.9h0M257.6 381.2h0M257.8 381.4h0M258.1 381.7h0M258.3 382.0h0M258.5 382.2h0M258.7 382.5h0M258.9 382.7h0M259.2 383.0h0M259.4 383.3h0M259.6 383.5h0M259.8 383.8h0M260.0 384.0h0M260.3 384.2h0M260.5 384.5h0M260.7 384.7h0M260.9 385.0h0M261.1 385.2h0M261.4 385.5h0M261.6 385.7h0M261.8 385.9h0M262.0 386.1h0M262.2 386.3h0M262.5 386.5h0M262.7 386.6h0M262.9 386.8h0M263.1 386.9h0M263.3 387.0h0M263.6 387.1h0M263.8 387.3h0M264.0 387.4h0M264.2 387.5h0M264.4 387.7h0M264.7 387.8h0M264.9 387.9h0M265.1 388.0h0M265.3 388.1h0M265.5 388.2h0M265.8 388.3h0M266.0 388.4h0M266.2 388.4h0M266.4 388.5h0M266.6 388.5h0M266.9 388.5h0M267.1 388.5h0M267.3 388.5h0M267.5 388.5h0M267.7 388.5h0M268.0 388.5h0M268.2 388.5h0M268.4 388.5h0M268.6 388.5h0M268.8 388.5h0M269.1 388.2h0M269.3 387.7h0M269.5 386.9h0M269.7 385.9h0M269.9 384.6h0M270.2 383.1h0M270.4 381.2h0M270.6 378.9h0M270.8 376.2h0M271.0 372.6h0M271.3 368.7h0M271.5 364.4h0M271.7 359.5h0M271.9 353.8h0M272.1 348.9h0M272.4 344.2h0M272.6 339.7h0M272.8 335.8h0M273.0 332.3h0M273.2 332.2h0M273.5 332.0h0M273.7 331.8h0M273.9 331.6h0M274.1 331.4h0M274.3 331.8h0M274.6 334.4h0M274.8 337.2h0M275.0 340.4h0M275.2 344.0h0M275.4 347.7h0M275.7 351.6h0M275.9 356.2h0M276.1 360.3h0M276.3 363.8h0M276.5 367.2h0M276.8 370.3h0M277.0 373.2h0M277.2 375.4h0M277.4 377.5h0M277.6 379.3h0M277.9 380.8h0M278.1 382.1h0M278.3 383.2h0M278.5 384.2h0M278.7 385.0h0M279.0 385.6h0M279.2 386.1h0M279.4 386.4h0M279.6 386.6h0M279.8 386.8h0M280.1 387.0h0M280.3 387.1h0M280.5 387.3h0M280.7 387.5h0M280.9 387.6h0M281.2 387.8h0M281.4 388.0h0M281.6 388.1h0M281.8 388.3h0M282.0 388.4h0M282.3 388.5h0M282.5 388.6h0M282.7 388.7h0M282.9 388.8h0M283.1 388.8h0M283.4 388.8h0M283.6 388.8h0M283.8 388.8h0M284.0 388.7h0M284.2 388.7h0M284.5 388.6h0M284.7 388.5h0M284.9 388.5h0M285.1 388.5h0M285.3 388.4h0M285.6 388.4h0M285.8 388.5h0M286.0 388.5h0M286.2 388.5h0M286.4 388.5h0M286.7 388.6h0M286.9 388.6h0M287.1 388.6h0M287.3 388.6h0M287.5 388.6h0M287.8 388.5h0M288.0 388.5h0M288.2 388.5h0M288.4 388.4h0M288.6 388.4h0M288.9 388.4h0M289.1 388.3h0M289.3 388.3h0M289.5 388.3h0M289.7 388.3h0M290.0 388.4h0M290.2 388.4h0M290.4 388.4h0M290.6 388.5h0M290.8 388.5h0M291.1 388.6h0M291.3 388.6h0M291.5 388.6h0M291.7 388.6h0M291.9 388.6h0M292.2 388.6h0M292.4 388.5h0M292.6 388.5h0M292.8 388.5h0M293.0 388.4h0M293.3 388.4h0M293.5 388.4h0M293.7 388.5h0M293.9 388.5h0M294.1 388.6h0M294.4 388.6h0M294.6 388.7h0M294.8 388.7h0M295.0 388.7h0M295.2 388.8h0M295.5 388.8h0M295.7 388.8h0M295.9 388.8h0M296.1 388.8h0M296.3 388.8h0M296.6 388.8h0M296.8 388.8h0M297.0 388.8h0M297.2 388.8h0M297.4 388.8h0M297.7 388.9h0M297.9 388.9h0M298.1 389.0h0M298.3 389.0h0M298.5 389.1h0M298.8 389.2h0M299.0 389.2h0M299.2 389.2h0M299.4 389.3h0M299.6 389.3h0M299.9 389.3h0M300.1 389.2h0M300.3 389.2h0M300.5 389.1h0M300.7 389.0h0M301.0 388.9h0M301.2 388.9h0M301.4 388.8h0M301.6 388.7h0M301.8 388.6h0M302.1 388.6h0M302.3 388.6h0M302.5 388.5h0M302.7 388.5h0M302.9 388.5h0M303.2 388.5h0M303.4 388.5h0M303.6 388.6h0M303.8 388.6h0M304.0 388.6h0M304.3 388.6h0M304.5 388.6h0M304.7 388.6h0M304.9 388.5h0M305.1 388.5h0M305.4 388.5h0M305.6 388.5h0M305.8 388.4h0M306.0 388.4h0M306.2 388.4h0M306.5 388.4h0M306.7 388.4h0M306.9 388.4h0M307.1 388.5h0M307.3 388.6h0M307.6 388.6h0M307.8 388.7h0M308.0 388.7h0M308.2 388.8h0M308.4 388.8h0M308.7 388.8h0M308.9 388.9h0M309.1 388.9h0M309.3 388.9h0M309.5 388.9h0M309.8 388.9h0M310.0 388.8h0M310.2 388.8h0M310.4 388.8h0M310.6 388.8h0M310.9 388.7h0M311.1 388.7h0M311.3 388.7h0M311.5 388.7h0M311.7 388.7h0M312.0 388.6h0M312.2 388.6h0M312.4 388.6h0M312.6 388.6h0M312.8 388.6h0M313.1 388.6h0M313.3 388.7h0M313.5 388.7h0M313.7 388.7h0M313.9 388.8h0M314.2 388.8h0M314.4 388.9h0M314.6 388.9h0M314.8 389.0h0M315.0 389.0h0M315.3 389.0h0M315.5 389.1h0M315.7 389.1h0M315.9 389.1h0M316.1 389.1h0M316.4 389.1h0M316.6 389.1h0M316.8 389.2h0M317.0 389.2h0M317.2 389.2h0M317.5 389.3h0M317.7 389.3h0M317.9 389.3h0M318.1 389.3h0M318.3 389.3h0M318.6 389.3h0M318.8 389.3h0M319.0 389.3h0M319.2 389.3h0M319.4 389.2h0M319.7 389.2h0M319.9 389.1h0M320.1 389.1h0M320.3 388.9h0M320.5 388.6h0M320.8 387.9h0M321.0 387.0h0M321.2 385.7h0M321.4 384.2h0M321.6 382.4h0M321.9 380.3h0M322.1 377.6h0M322.3 374.6h0M322.5 370.5h0M322.7 366.2h0M323.0 361.4h0M323.2 356.0h0M323.4 349.6h0M323.6 344.2h0M323.8 339.0h0M324.1 334.0h0M324.3 329.7h0M324.5 327.8h0M324.7 327.8h0M324.9 327.9h0M325.2 327.9h0M325.4 327.9h0M325.6 327.9h0M325.8 327.9h0M326.0 331.3h0M326.3 335.5h0M326.5 340.5h0M326.7 345.5h0M326.9 350.8h0M327.1 357.1h0M327.4 362.2h0M327.6 366.8h0M327.8 371.0h0M328.0 374.9h0M328.2 378.0h0M328.5 380.6h0M328.7 382.8h0M328.9 384.6h0M329.1 386.0h0M329.3 387.3h0M329.6 388.2h0M329.8 388.9h0M330.0 389.3h0M330.2 389.4h0M330.4 389.4h0M330.7 389.4h0M330.9 389.4h0M331.1 389.3h0M331.3 389.3h0M331.5 389.3h0M331.8 389.3h0M332.0 389.3h0M332.2 389.3h0M332.4 389.3h0M332.6 389.3h0M332.9 389.3h0M333.1 389.3h0M333.3 389.3h0M333.5 389.3h0M333.7 389.2h0M334.0 389.2h0M334.2 389.1h0M334.4 389.1h0M334.6 389.0h0M334.8 389.0h0M335.1 389.0h0M335.3 389.0h0M335.5 389.0h0M335.7 389.1h0M335.9 389.1h0M336.2 389.2h0M336.4 389.2h0M336.6 389.3h0M336.8 389.4h0M337.0 389.4h0M337.3 389.5h0M337.5 389.5h0M337.7 389.5h0M337.9 389.5h0M338.1 389.5h0M338.4 389.5h0M338.6 389.5h0M338.8 389.5h0M339.0 389.4h0M339.2 389.4h0M339.5 389.4h0M339.7 389.4h0M339.9 389.4h0M340.1 389.4h0M340.3 389.4h0M340.6 389.4h0M340.8 389.4h0M341.0 389.5h0M341.2 389.5h0M341.4 389.5h0M341.7 389.5h0M341.9 389.5h0M342.1 389.4h0M342.3 389.4h0M342.5 389.4h0M342.8 389.4h0M343.0 389.4h0M343.2 389.4h0M343.4 389.3h0M343.6 389.3h0M343.9 389.3h0M344.1 389.3h0M344.3 389.3h0M344.5 389.3h0M344.7 389.3h0M345.0 389.3h0M345.2 389.4h0M345.4 389.4h0M345.6 389.4h0M345.8 389.5h0M346.1 389.5h0M346.3 389.5h0M346.5 389.5h0M346.7 389.3h0M346.9 389.1h0M347.2 388.9h0M347.4 388.7h0M347.6 388.5h0M347.8 388.4h0M348.0 388.2h0M348.3 388.0h0M348.5 387.9h0M348.7 387.7h0M348.9 387.6h0M349.1 387.4h0M349.4 387.3h0M349.6 386.6h0M349.8 385.1h0M350.0 383.6h0M350.2 382.1h0M350.5 377.1h0M350.7 371.9h0M350.9 366.6h0M351.1 360.5h0M351.3 353.5h0M351.6 346.5h0M351.8 339.6h0M352.0 332.6h0M352.2 328.5h0M352.4 324.3h0M352.7 320.1h0M352.9 315.9h0M353.1 311.2h0M353.3 305.9h0M353.5 300.7h0M353.8 296.5h0M354.0 292.3h0M354.2 288.2h0M354.4 284.1h0M354.6 280.0h0M354.9 275.9h0M355.1 272.5h0M355.3 269.5h0M355.5 267.8h0M355.7 266.2h0M356.0 264.9h0M356.2 264.5h0M356.4 264.1h0M356.6 264.1h0M356.8 264.6h0M357.1 265.0h0M357.3 266.2h0M357.5 267.8h0M357.7 269.4h0M357.9 271.9h0M358.2 275.1h0M358.4 278.8h0M358.6 282.7h0M358.8 286.7h0M359.0 290.7h0M359.3 294.6h0M359.5 298.6h0M359.7 302.9h0M359.9 307.9h0M360.1 312.8h0M360.4 317.1h0M360.6 320.9h0M360.8 324.8h0M361.0 328.6h0M361.2 332.5h0M361.5 338.5h0M361.7 345.0h0M361.9 351.4h0M362.1 357.8h0M362.3 364.2h0M362.6 369.1h0M362.8 373.9h0M363.0 378.8h0M363.2 382.1h0M363.4 383.5h0M363.7 385.0h0M363.9 386.4h0M364.1 386.8h0M364.3 387.0h0M364.5 387.2h0M364.8 387.3h0M365.0 387.5h0M365.2 387.7h0M365.4 387.8h0M365.6 388.0h0M365.9 388.1h0M366.1 388.3h0M366.3 388.5h0M366.5 388.7h0M366.7 388.9h0M367.0 389.1h0M367.2 389.3h0M367.4 389.4h0M367.6 389.5h0M367.8 389.5h0M368.1 389.6h0M368.3 389.6h0M368.5 389.5h0M368.7 389.1h0M368.9 388.4h0M369.2 387.3h0M369.4 385.9h0M369.6 384.2h0M369.8 382.3h0M370.0 380.0h0M370.3 377.0h0M370.5 374.0h0M370.7 369.6h0M370.9 364.9h0M371.1 359.6h0M371.4 354.0h0M371.6 346.9h0M371.8 340.1h0M372.0 334.0h0M372.2 328.0h0M372.5 322.5h0M372.7 317.7h0M372.9 316.1h0M373.1 316.0h0M373.3 315.9h0M373.6 315.8h0M373.8 315.7h0M374.0 315.6h0M374.2 315.6h0M374.4 317.1h0M374.7 321.2h0M374.9 325.8h0M375.1 330.9h0M375.3 336.2h0M375.5 341.7h0M375.8 348.1h0M376.0 354.0h0M376.2 358.9h0M376.4 363.7h0M376.6 367.9h0M376.9 371.9h0M377.1 375.1h0M377.3 377.8h0M377.5 380.3h0M377.7 382.3h0M378.0 384.0h0M378.2 385.4h0M378.4 386.7h0M378.6 387.7h0M378.8 388.5h0M379.1 389.0h0M379.3 389.2h0M379.5 389.3h0M379.7 389.3h0M379.9 389.3h0M380.2 389.3h0M380.4 389.3h0M380.6 389.3h0M380.8 389.3h0M381.0 389.3h0M381.3 389.4h0M381.5 389.4h0M381.7 389.5h0M381.9 389.5h0M382.1 389.5h0M382.4 389.6h0M382.6 389.6h0M382.8 389.6h0M383.0 389.5h0M383.2 389.5h0M383.5 389.5h0M383.7 389.4h0M383.9 389.3h0M384.1 389.3h0M384.3 389.2h0M384.6 389.2h0M384.8 389.1h0M385.0 389.1h0M385.2 389.1h0M385.4 389.1h0M385.7 389.1h0M385.9 389.1h0M386.1 389.2h0M386.3 389.3h0M386.5 389.4h0M386.8 389.5h0M387.0 389.5h0M387.2 389.6h0M387.4 389.7h0M387.6 389.7h0M387.9 389.8h0M388.1 389.8h0M388.3 389.9h0M388.5 389.9h0M388.7 389.9h0M389.0 389.9h0M389.2 389.9h0M389.4 389.9h0M389.6 389.9h0M389.8 389.9h0M390.1 389.8h0M390.3 389.8h0M390.5 389.7h0M390.7 389.7h0M390.9 389.7h0M391.2 389.6h0M391.4 389.6h0M391.6 389.6h0M391.8 389.6h0M392.0 389.6h0M392.3 389.6h0M392.5 389.7h0M392.7 389.7h0M392.9 389.7h0M393.1 389.7h0M393.4 389.7h0M393.6 389.7h0M393.8 389.7h0M394.0 389.8h0M394.2 389.8h0M394.5 389.9h0M394.7 390.0h0M394.9 390.0h0M395.1 390.1h0M395.3 390.2h0M395.6 390.3h0M395.8 390.4h0M396.0 390.5h0M396.2 390.5h0M396.4 390.6h0M396.7 390.5h0M396.9 390.5h0M397.1 390.4h0M397.3 390.4h0M397.5 390.3h0M397.8 390.1h0M398.0 390.0h0M398.2 389.9h0M398.4 389.9h0M398.6 389.8h0M398.9 389.7h0M399.1 389.7h0M399.3 389.6h0M399.5 389.6h0M399.7 389.6h0M400.0 389.6h0M400.2 389.6h0M400.4 389.6h0M400.6 389.6h0M400.8 389.6h0M401.1 389.6h0M401.3 389.6h0M401.5 389.6h0M401.7 389.6h0M401.9 389.6h0M402.2 389.7h0M402.4 389.7h0M402.6 389.7h0M402.8 389.8h0M403.0 389.8h0M403.3 389.8h0M403.5 389.9h0M403.7 389.9h0M403.9 390.0h0M404.1 390.0h0M404.4 390.0h0M404.6 390.0h0M404.8 390.0h0M405.0 390.0h0M405.2 390.0h0M405.5 390.0h0M405.7 389.9h0M405.9 389.9h0M406.1 389.9h0M406.3 389.9h0M406.6 389.9h0M406.8 389.9h0M407.0 389.9h0M407.2 389.9h0M407.4 389.8h0M407.7 389.8h0M407.9 389.8h0M408.1 389.7h0M408.3 389.6h0M408.5 389.5h0M408.8 389.3h0M409.0 389.1h0M409.2 388.8h0M409.4 388.4h0M409.6 387.9h0M409.9 387.3h0M410.1 386.5h0M410.3 385.6h0M410.5 384.6h0M410.7 383.4h0M411.0 382.0h0M411.2 380.5h0M411.4 378.8h0M411.6 377.0h0M411.8 375.1h0M412.1 373.1h0M412.3 371.1h0M412.5 369.0h0M412.7 367.0h0M412.9 364.9h0M413.2 363.0h0M413.4 361.1h0M413.6 359.4h0M413.8 357.7h0M414.0 356.3h0M414.3 355.0h0M414.5 353.9h0M414.7 353.0h0M414.9 352.2h0M415.1 351.6h0M415.4 351.2h0M415.6 350.9h0M415.8 350.7h0M416.0 350.5h0M416.2 350.5h0M416.5 350.5h0M416.7 350.5h0M416.9 350.6h0M417.1 350.7h0M417.3 351.0h0M417.6 351.5h0M417.8 352.2h0M418.0 353.1h0M418.2 354.3h0M418.4 355.8h0M418.7 357.5h0M418.9 359.5h0M419.1 361.7h0M419.3 364.1h0M419.5 366.6h0M419.8 369.1h0M420.0 371.7h0M420.2 374.3h0M420.4 376.7h0M420.6 379.0h0M420.9 381.0h0M421.1 382.9h0M421.3 384.4h0M421.5 385.8h0M421.7 386.9h0M422.0 387.7h0M422.2 388.4h0M422.4 388.9h0M422.6 389.3h0M422.8 389.6h0M423.1 389.8h0M423.3 389.9h0M423.5 390.0h0M423.7 390.1h0M423.9 390.1h0M424.2 390.1h0M424.4 390.1h0M424.6 390.1h0M424.8 390.1h0M425.0 390.1h0M425.3 390.1h0M425.5 390.1h0M425.7 390.1h0M425.9 390.1h0M426.1 390.0h0M426.4 389.8h0M426.6 389.6h0M426.8 389.4h0M427.0 389.0h0M427.2 388.5h0M427.5 388.0h0M427.7 387.4h0M427.9 386.7h0M428.1 386.0h0M428.3 385.3h0M428.6 384.6h0M428.8 383.9h0M429.0 383.4h0M429.2 382.9h0M429.4 382.5h0M429.7 382.2h0M429.9 382.0h0M430.1 381.8h0M430.3 381.7h0M430.5 381.7h0M430.8 381.7h0M431.0 381.7h0M431.2 381.9h0M431.4 382.2h0M431.6 382.5h0M431.9 382.9h0M432.1 383.2h0M432.3 383.6h0M432.5 383.8h0M432.7 384.1h0M433.0 384.3h0M433.2 384.4h0M433.4 384.5h0M433.6 384.7h0M433.8 384.8h0M434.1 384.9h0M434.3 384.9h0M434.5 384.8h0M434.7 384.6h0M434.9 384.0h0M435.2 382.7h0M435.4 380.7h0M435.6 377.6h0M435.8 373.5h0M436.0 368.7h0M436.3 363.6h0M436.5 358.7h0M436.7 354.4h0M436.9 351.1h0M437.1 348.8h0M437.4 347.5h0M437.6 346.9h0M437.8 346.8h0M438.0 346.8h0M438.2 347.0h0M438.5 347.8h0M438.7 349.3h0M438.9 351.9h0M439.1 355.6h0M439.3 360.3h0M439.6 365.6h0M439.8 371.2h0M440.0 376.4h0M440.2 380.8h0M440.4 384.3h0M440.7 386.6h0M440.9 388.1h0M441.1 388.8h0M441.3 389.1h0M441.5 389.0h0M441.8 388.7h0M442.0 388.1h0M442.2 387.2h0M442.4 386.0h0M442.6 384.6h0M442.9 382.9h0M443.1 381.1h0M443.3 379.4h0M443.5 378.0h0M443.7 376.9h0M444.0 376.0h0M444.2 375.4h0M444.4 374.9h0M444.6 374.2h0M444.8 373.6h0M445.1 373.1h0M445.3 372.6h0M445.5 372.2h0M445.7 371.9h0M445.9 371.6h0M446.2 371.4h0M446.4 371.2h0M446.6 371.1h0M446.8 371.0h0M447.0 370.9h0M447.3 370.9h0M447.5 370.8h0M447.7 370.9h0M447.9 370.9h0M448.1 371.0h0M448.4 371.1h0M448.6 371.2h0M448.8 371.3h0M449.0 371.5h0M449.2 371.7h0M449.5 372.0h0M449.7 372.4h0M449.9 372.9h0M450.1 373.5h0M450.3 374.2h0M450.6 374.9h0M450.8 375.7h0M451.0 376.5h0M451.2 377.3h0M451.4 378.0h0M451.7 378.7h0M451.9 379.3h0M452.1 379.9h0M452.3 380.3h0M452.5 380.7h0M452.8 381.0h0M453.0 381.2h0M453.2 381.4h0M453.4 381.6h0M453.6 381.7h0M453.9 381.9h0M454.1 382.1h0M454.3 382.3h0M454.5 382.5h0M454.7 382.8h0M455.0 383.1h0M455.2 383.5h0M455.4 383.9h0M455.6 384.4h0M455.8 384.9h0M456.1 385.4h0M456.3 385.8h0M456.5 386.3h0M456.7 386.7h0M456.9 387.1h0M457.2 387.5h0M457.4 387.8h0M457.6 388.1h0M457.8 388.4h0M458.0 388.6h0M458.3 388.8h0M458.5 389.0h0M458.7 389.2h0M458.9 389.3h0M459.1 389.4h0M459.4 389.5h0M459.6 389.5h0M459.8 389.5h0M460.0 389.5h0M460.2 389.5h0M460.5 389.5h0M460.7 389.5h0M460.9 389.5h0M461.1 389.6h0M461.3 389.6h0M461.6 389.7h0M461.8 389.8h0M462.0 389.8h0M462.2 389.9h0M462.4 390.0h0M462.7 390.0h0M462.9 390.1h0M463.1 390.1h0M463.3 390.1h0M463.5 390.1h0M463.8 390.1h0M464.0 390.0h0M464.2 390.0h0M464.4 389.9h0M464.6 389.8h0M464.9 389.8h0M465.1 389.7h0M465.3 389.6h0M465.5 389.6h0M465.7 389.5h0M466.0 389.5h0M466.2 389.5h0M466.4 389.6h0M466.6 389.6h0M466.8 389.6h0M467.1 389.6h0M467.3 389.7h0M467.5 389.7h0M467.7 389.7h0M467.9 389.7h0M468.2 389.8h0M468.4 389.8h0M468.6 389.8h0M468.8 389.8h0M469.0 389.9h0M469.3 389.9h0M469.5 389.9h0M469.7 389.9h0M469.9 390.0h0M470.1 390.0h0M470.4 390.0h0M470.6 390.1h0M470.8 390.1h0M471.0 390.1h0M471.2 390.2h0M471.5 390.2h0M471.7 390.2h0M471.9 390.2h0M472.1 390.2h0M472.3 390.2h0M472.6 390.1h0M472.8 390.1h0M473.0 390.0h0M473.2 390.0h0M473.4 390.0h0M473.7 389.9h0M473.9 389.9h0M474.1 389.9h0M474.3 390.0h0M474.5 390.0h0M474.8 390.0h0M475.0 390.1h0M475.2 390.1h0M475.4 390.1h0M475.6 390.2h0M475.9 390.2h0M476.1 390.2h0M476.3 390.2h0M476.5 390.2h0M476.7 390.3h0M477.0 390.3h0M477.2 390.3h0M477.4 390.3h0M477.6 390.4h0M477.8 390.4h0M478.1 390.5h0M478.3 390.5h0M478.5 390.6h0M478.7 390.6h0M478.9 390.7h0M479.2 390.7h0M479.4 390.8h0M479.6 390.8h0M479.8 390.8h0M480.0 390.8h0M480.3 390.7h0M480.5 390.7h0M480.7 390.6h0M480.9 390.4h0M481.1 390.1h0M481.4 389.6h0M481.6 389.0h0M481.8 388.1h0M482.0 386.9h0M482.2 385.5h0M482.5 383.8h0M482.7 381.9h0M482.9 379.8h0M483.1 377.6h0M483.3 375.4h0M483.6 373.3h0M483.8 371.4h0M484.0 369.7h0M484.2 368.3h0M484.4 367.2h0M484.7 366.4h0M484.9 366.0h0M485.1 365.8h0M485.3 365.7h0M485.5 365.7h0M485.8 365.8h0M486.0 366.1h0M486.2 366.6h0M486.4 367.3h0M486.6 368.3h0M486.9 369.6h0M487.1 371.1h0M487.3 372.8h0M487.5 374.6h0M487.7 376.5h0M488.0 378.5h0M488.2 380.3h0M488.4 382.1h0M488.6 383.8h0M488.8 385.2h0M489.1 386.5h0M489.3 387.6h0M489.5 388.5h0M489.7 389.2h0M489.9 389.7h0M490.2 390.2h0M490.4 390.5h0M490.6 390.7h0M490.8 390.8h0M491.0 390.9h0M491.3 390.9h0M491.5 390.9h0M491.7 390.9h0M491.9 390.9h0M492.1 390.8h0M492.4 390.8h0M492.6 390.7h0M492.8 390.7h0M493.0 390.7h0M493.2 390.6h0M493.5 390.6h0M493.7 390.6h0M493.9 390.6h0M494.1 390.6h0M494.3 390.6h0M494.6 390.6h0M494.8 390.7h0M495.0 390.7h0M495.2 390.8h0M495.4 390.8h0M495.7 390.9h0M495.9 391.0h0M496.1 391.0h0M496.3 391.0h0M496.5 391.0h0M496.8 391.0h0M497.0 391.0h0M497.2 391.0h0M497.4 391.0h0M497.6 390.9h0M497.9 390.9h0M498.1 390.9h0M498.3 390.9h0M498.5 391.0h0M498.7 391.0h0M499.0 391.0h0M499.2 391.0h0M499.4 391.0h0M499.6 391.0h0M499.8 391.0h0M500.1 390.9h0M500.3 390.9h0M500.5 390.8h0M500.7 390.8h0M500.9 390.7h0M501.2 390.7h0M501.4 390.6h0M501.6 390.4h0M501.8 390.2h0M502.0 389.8h0M502.3 389.3h0M502.5 388.6h0M502.7 387.6h0M502.9 386.3h0M503.1 384.8h0M503.4 383.1h0M503.6 381.2h0M503.8 379.3h0M504.0 377.4h0M504.2 375.6h0M504.5 374.0h0M504.7 372.6h0M504.9 371.5h0M505.1 370.7h0M505.3 370.1h0M505.6 369.8h0M505.8 369.7h0M506.0 369.6h0M506.2 369.6h0M506.4 369.7h0M506.7 369.7h0M506.9 369.8h0M507.1 370.0h0M507.3 370.3h0M507.5 370.7h0M507.8 371.3h0M508.0 372.1h0M508.2 373.0h0M508.4 374.1h0M508.6 375.4h0M508.9 376.8h0M509.1 378.3h0M509.3 379.8h0M509.5 381.3h0M509.7 382.7h0M510.0 384.1h0M510.2 385.3h0M510.4 386.3h0M510.6 387.2h0M510.8 387.9h0M511.1 388.4h0M511.3 388.8h0M511.5 389.0h0M511.7 389.2h0M511.9 389.2h0M512.2 389.2h0M512.4 389.2h0M512.6 389.1h0M512.8 388.9h0M513.0 388.7h0M513.3 388.5h0M513.5 388.3h0M513.7 388.1h0M513.9 387.8h0M514.1 387.6h0M514.4 387.3h0M514.6 387.1h0M514.8 386.9h0M515.0 386.8h0M515.2 386.7h0M515.5 386.6h0M515.7 386.6h0M515.9 386.6h0M516.1 386.6h0M516.3 386.7h0M516.6 386.8h0M516.8 386.9h0M517.0 387.1h0M517.2 387.3h0M517.4 387.4h0M517.7 387.6h0M517.9 387.9h0M518.1 388.1h0M518.3 388.3h0M518.5 388.4h0M518.8 388.6h0M519.0 388.8h0M519.2 389.0h0M519.4 389.1h0M519.6 389.2h0M519.9 389.4h0M520.1 389.5h0M520.3 389.5h0M520.5 389.6h0M520.7 389.7h0M521.0 389.7h0M521.2 389.8h0M521.4 389.8h0M521.6 389.9h0M521.8 389.9h0M522.1 390.0h0M522.3 390.0h0M522.5 390.1h0" fill="none" stroke="#ea1e0c" stroke-width="3.7" stroke-linecap="round"/>
<rect x="68.2" y="10.2" width="457.00000000000006" height="456.0" fill="none" stroke="#000" stroke-width="1.6"/>
<g class="b tk" font-size="23.2" text-anchor="middle"><text x="68.1" y="493.8">5</text><text x="129.9" y="493.8">10</text><text x="191.8" y="493.8">15</text><text x="253.6" y="493.8">20</text><text x="315.5" y="493.8">25</text><text x="377.4" y="493.8">30</text><text x="439.2" y="493.8">35</text><text x="501.1" y="493.8">40</text></g>
<text class="b" transform="translate(298.6,538) scale(0.962,1)" font-size="27.4" text-anchor="middle">Two Theta (Degrees)</text>
<text class="b" transform="translate(42.3,238.8) rotate(-90) scale(0.996,1)" font-size="34" text-anchor="middle">Intensity (Arb. Units)</text>
<g font-size="20.2" fill="#1a1a1a" stroke="#1a1a1a" stroke-width="0.25">
<text x="421.6" y="59.2">LiCrO<tspan font-size="12.5" dy="7.2">2</tspan></text>
<text x="423.2" y="89.8"><tspan font-style="italic">R</tspan>-3<tspan font-style="italic">m</tspan></text>
</g>
</svg>
</body></html>
